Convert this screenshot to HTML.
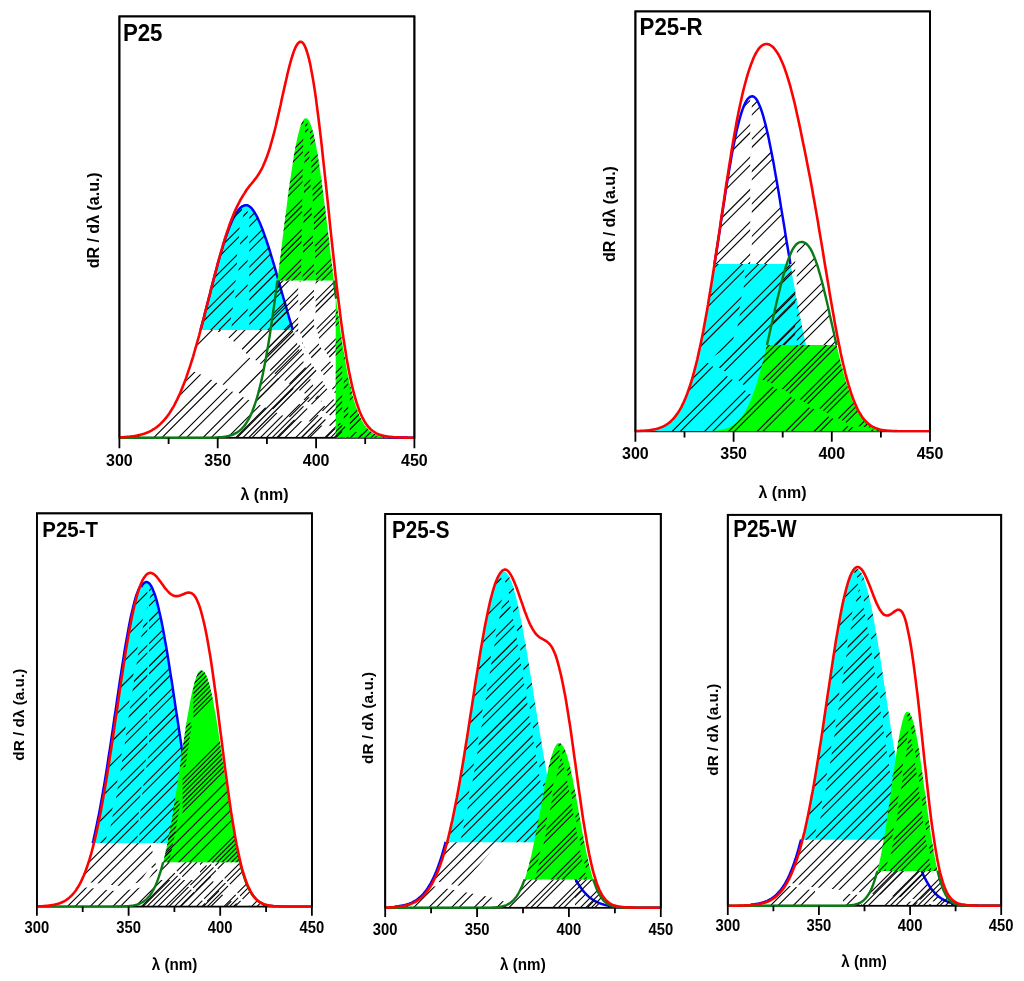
<!DOCTYPE html>
<html lang="en"><head><meta charset="utf-8"><title>dR/dλ spectra</title>
<style>html,body{margin:0;padding:0;background:#fff}svg{display:block}</style></head>
<body>
<svg width="1024" height="981" viewBox="0 0 1024 981" style="display:block;font-family:'Liberation Sans',sans-serif;font-weight:bold">
<rect width="1024" height="981" fill="#fff"/>
<defs><clipPath id="h0A0"><path d="M119.4 329.9L119.4 329.9L120.4 329.9L121.4 329.9L122.4 329.9L123.3 329.9L124.3 329.9L125.3 329.9L126.3 329.9L127.3 329.9L128.2 329.9L129.2 329.9L130.2 329.9L131.2 329.9L132.2 329.9L133.2 329.9L134.2 329.9L135.1 329.9L136.1 329.9L137.1 329.9L138.1 329.9L139.1 329.9L140.1 329.9L141 329.9L142 329.9L143 329.9L144 329.9L145 329.9L145.9 329.9L146.9 329.9L147.9 329.9L148.9 329.9L149.9 329.9L150.9 329.9L151.8 329.9L152.8 329.9L153.8 329.9L154.8 329.9L155.8 329.9L156.8 329.9L157.8 329.9L158.7 329.9L159.7 329.9L160.7 329.9L161.7 329.9L162.7 329.9L163.7 329.9L164.6 329.9L165.6 329.9L166.6 329.9L167.6 329.9L168.6 329.9L169.6 329.9L170.5 329.9L171.5 329.9L172.5 329.9L173.5 329.9L174.5 329.9L175.4 329.9L176.4 329.9L177.4 329.9L178.4 329.9L179.4 329.9L180.4 329.9L181.3 329.9L182.3 329.9L183.3 329.9L184.3 329.9L185.3 329.9L186.3 329.9L187.2 329.9L188.2 329.9L189.2 329.9L190.2 329.9L191.2 329.9L192.2 329.9L193.2 329.9L194.1 329.9L195.1 329.9L196.1 329.9L197.1 329.9L198.1 329.9L199.1 329.9L200 329.9L201 328.3L202 324.6L203 320.9L204 317.1L204.9 313.3L205.9 309.5L206.9 305.6L207.9 301.8L208.9 297.9L209.9 294.1L210.8 290.3L211.8 286.4L212.8 282.6L213.8 278.8L214.8 275.1L215.8 271.4L216.8 267.7L217.7 264.1L218.7 260.5L219.7 257L220.7 253.6L221.7 250.3L222.7 247L223.6 243.8L224.6 240.7L225.6 237.7L226.6 234.9L227.6 232.1L228.6 229.4L229.5 226.9L230.5 224.5L231.5 222.2L232.5 220L233.5 218L234.4 216.1L235.4 214.4L236.4 212.8L237.4 211.4L238.4 210.1L239.4 208.9L240.3 207.9L241.3 207.1L242.3 206.4L243.3 205.9L244.3 205.5L245.3 205.3L246.2 205.2L247.2 205.2L248.2 205.6L249.2 206.2L250.2 206.9L251.2 207.9L252.2 209L253.1 210.3L254.1 211.7L255.1 213.3L256.1 215L257.1 216.9L258.1 218.9L259 221.1L260 223.3L261 225.7L262 228.2L263 230.7L263.9 233.4L264.9 236.2L265.9 239L266.9 242L267.9 245L268.9 248L269.9 251.1L270.8 254.3L271.8 257.6L272.8 260.8L273.8 264.2L274.8 267.5L275.8 270.9L276.7 274.3L277.7 277.7L278.7 281.2L279.7 284.6L280.7 288.1L281.6 291.5L282.6 295L283.6 298.5L284.6 301.9L285.6 305.3L286.6 308.7L287.5 312.1L288.5 315.5L289.5 318.8L290.5 322.1L291.5 325.4L292.5 328.6L293.4 329.9L294.4 329.9L295.4 329.9L296.4 329.9L297.4 329.9L298.4 329.9L299.4 329.9L300.3 329.9L301.3 329.9L302.3 329.9L303.3 329.9L304.3 329.9L305.2 329.9L306.2 329.9L307.2 329.9L308.2 329.9L309.2 329.9L310.2 329.9L311.1 329.9L312.1 329.9L313.1 329.9L314.1 329.9L315.1 329.9L316.1 329.9L317 329.9L318 329.9L319 329.9L320 329.9L321 329.9L322 329.9L322.9 329.9L323.9 329.9L324.9 329.9L325.9 329.9L326.9 329.9L327.9 329.9L328.9 329.9L329.8 329.9L330.8 329.9L331.8 329.9L332.8 329.9L333.8 329.9L334.8 329.9L335.7 329.9L336.7 329.9L337.7 329.9L338.7 329.9L339.7 329.9L340.6 329.9L341.6 329.9L342.6 329.9L343.6 329.9L344.6 329.9L345.6 329.9L346.5 329.9L347.5 329.9L348.5 329.9L349.5 329.9L350.5 329.9L351.5 329.9L352.4 329.9L353.4 329.9L354.4 329.9L355.4 329.9L356.4 329.9L357.4 329.9L358.4 329.9L359.3 329.9L360.3 329.9L361.3 329.9L362.3 329.9L363.3 329.9L364.2 329.9L365.2 329.9L366.2 329.9L367.2 329.9L368.2 329.9L369.2 329.9L370.1 329.9L371.1 329.9L372.1 329.9L373.1 329.9L374.1 329.9L375.1 329.9L376 329.9L377 329.9L378 329.9L379 329.9L380 329.9L381 329.9L382 329.9L382.9 329.9L383.9 329.9L384.9 329.9L385.9 329.9L386.9 329.9L387.9 329.9L388.8 329.9L389.8 329.9L390.8 329.9L391.8 329.9L392.8 329.9L393.8 329.9L394.7 329.9L395.7 329.9L396.7 329.9L397.7 329.9L398.7 329.9L399.6 329.9L400.6 329.9L401.6 329.9L402.6 329.9L403.6 329.9L404.6 329.9L405.5 329.9L406.5 329.9L407.5 329.9L408.5 329.9L409.5 329.9L410.5 329.9L411.5 329.9L412.4 329.9L413.4 329.9L414.4 329.9L414.4 329.9Z"/></clipPath><mask id="m0A0a" maskUnits="userSpaceOnUse" x="119.4" y="16.4" width="295" height="421.4"><rect x="119.4" y="16.4" width="295" height="421.4" fill="#fff"/><path d="M243 205L242.5 214.4L240.4 226.1L239.7 239.9L237.9 255L237.6 274.3L234.9 290.8L234.2 304.5L231.5 319.7L230.5 331L248.5 331L248.5 205Z" fill="#000" stroke="#000" stroke-width="1.6"/></mask><mask id="m0A0b" maskUnits="userSpaceOnUse" x="119.4" y="16.4" width="295" height="421.4"><rect x="119.4" y="16.4" width="295" height="421.4" fill="#000"/><path d="M243 205L242.5 214.4L240.4 226.1L239.7 239.9L237.9 255L237.6 274.3L234.9 290.8L234.2 304.5L231.5 319.7L230.5 331L248.5 331L248.5 205Z" fill="#fff" stroke="#000" stroke-width="1.6"/></mask><clipPath id="h0B0"><path d="M119.4 437.8L119.4 437.4L120.4 437.3L121.4 437.3L122.4 437.2L123.3 437.2L124.3 437.1L125.3 437L126.3 437L127.3 436.9L128.2 436.8L129.2 436.7L130.2 436.6L131.2 436.5L132.2 436.3L133.2 436.2L134.2 436.1L135.1 435.9L136.1 435.7L137.1 435.5L138.1 435.3L139.1 435.1L140.1 434.9L141 434.6L142 434.4L143 434.1L144 433.8L145 433.4L145.9 433.1L146.9 432.7L147.9 432.3L148.9 431.8L149.9 431.3L150.9 430.8L151.8 430.3L152.8 429.7L153.8 429.1L154.8 428.5L155.8 427.8L156.8 427.1L157.8 426.3L158.7 425.5L159.7 424.6L160.7 423.7L161.7 422.7L162.7 421.7L163.7 420.7L164.6 419.5L165.6 418.3L166.6 417.1L167.6 415.8L168.6 414.4L169.6 413L170.5 411.5L171.5 409.9L172.5 408.3L173.5 406.6L174.5 404.8L175.4 402.9L176.4 401L177.4 399L178.4 396.9L179.4 394.7L180.4 392.5L181.3 390.2L182.3 387.8L183.3 385.3L184.3 382.7L185.3 380.1L186.3 377.4L187.2 374.6L188.2 371.7L189.2 368.8L190.2 365.8L191.2 362.7L192.2 359.5L193.2 356.3L194.1 353L195.1 349.6L196.1 346.2L197.1 342.7L198.1 339.2L199.1 335.6L200 332L201 329.9L202 329.9L203 329.9L204 329.9L204.9 329.9L205.9 329.9L206.9 329.9L207.9 329.9L208.9 329.9L209.9 329.9L210.8 329.9L211.8 329.9L212.8 329.9L213.8 329.9L214.8 329.9L215.8 329.9L216.8 329.9L217.7 329.9L218.7 329.9L219.7 329.9L220.7 329.9L221.7 329.9L222.7 329.9L223.6 329.9L224.6 329.9L225.6 329.9L226.6 329.9L227.6 329.9L228.6 329.9L229.5 329.9L230.5 329.9L231.5 329.9L232.5 329.9L233.5 329.9L234.4 329.9L235.4 329.9L236.4 329.9L237.4 329.9L238.4 329.9L239.4 329.9L240.3 329.9L241.3 329.9L242.3 329.9L243.3 329.9L244.3 329.9L245.3 329.9L246.2 329.9L247.2 329.9L248.2 329.9L249.2 329.9L250.2 329.9L251.2 329.9L252.2 329.9L253.1 329.9L254.1 329.9L255.1 329.9L256.1 329.9L257.1 329.9L258.1 329.9L259 329.9L260 329.9L261 329.9L262 329.9L263 329.9L263.9 329.9L264.9 329.9L265.9 329.9L266.9 329.9L267.9 329.9L268.9 329.9L269.9 329.9L270.8 329.9L271.8 329.9L272.8 329.9L273.8 329.9L274.8 329.9L275.8 329.9L276.7 329.9L277.7 329.9L278.7 329.9L279.7 329.9L280.7 329.9L281.6 329.9L282.6 329.9L283.6 329.9L284.6 329.9L285.6 329.9L286.6 329.9L287.5 329.9L288.5 329.9L289.5 329.9L290.5 329.9L291.5 329.9L292.5 329.9L293.4 331.8L294.4 335L295.4 338.1L296.4 341.2L297.4 344.2L298.4 347.2L299.4 350.1L300.3 353L301.3 355.8L302.3 358.6L303.3 361.3L304.3 363.9L305.2 366.5L306.2 369.1L307.2 371.6L308.2 374L309.2 376.4L310.2 378.7L311.1 380.9L312.1 383.1L313.1 385.2L314.1 387.3L315.1 389.3L316.1 391.3L317 393.2L318 395L319 396.8L320 398.5L321 400.2L322 401.8L322.9 403.4L323.9 404.9L324.9 406.4L325.9 407.8L326.9 409.2L327.9 410.5L328.9 411.7L329.8 412.9L330.8 414.1L331.8 415.2L332.8 416.3L333.8 417.4L334.8 418.4L335.7 419.3L336.7 420.3L337.7 421.1L338.7 422L339.7 422.8L340.6 423.6L341.6 424.3L342.6 425L343.6 425.7L344.6 426.3L345.6 426.9L346.5 427.5L347.5 428.1L348.5 428.6L349.5 429.1L350.5 429.6L351.5 430.1L352.4 430.5L353.4 430.9L354.4 431.3L355.4 431.7L356.4 432.1L357.4 432.4L358.4 432.7L359.3 433L360.3 433.3L361.3 433.6L362.3 433.8L363.3 434.1L364.2 434.3L365.2 434.5L366.2 434.7L367.2 434.9L368.2 435.1L369.2 435.3L370.1 435.4L371.1 435.6L372.1 435.7L373.1 435.9L374.1 436L375.1 436.1L376 436.2L377 436.3L378 436.4L379 436.5L380 436.6L381 436.7L382 436.8L382.9 436.8L383.9 436.9L384.9 437L385.9 437L386.9 437.1L387.9 437.1L388.8 437.2L389.8 437.2L390.8 437.3L391.8 437.3L392.8 437.3L393.8 437.4L394.7 437.4L395.7 437.4L396.7 437.5L397.7 437.5L398.7 437.5L399.6 437.5L400.6 437.6L401.6 437.6L402.6 437.6L403.6 437.6L404.6 437.6L405.5 437.6L406.5 437.6L407.5 437.7L408.5 437.7L409.5 437.7L410.5 437.7L411.5 437.7L412.4 437.7L413.4 437.7L414.4 437.7L414.4 437.8Z"/></clipPath><mask id="m0B0a" maskUnits="userSpaceOnUse" x="119.4" y="16.4" width="295" height="421.4"><rect x="119.4" y="16.4" width="295" height="421.4" fill="#fff"/><path d="M193.3 368.5L208.4 377L223.4 385.8L245.3 397.5L290 418L337 428L337 410L300 392L260.3 364.6L246 354.4L234.3 342.8L224.8 336L214 331L195 350Z" fill="#000" stroke="#000" stroke-width="1.6"/><path d="M190 370L214 380L242 351L224 334L214 331L195 350Z" fill="#000"/></mask><mask id="m0B0b" maskUnits="userSpaceOnUse" x="119.4" y="16.4" width="295" height="421.4"><rect x="119.4" y="16.4" width="295" height="421.4" fill="#000"/><path d="M193.3 368.5L208.4 377L223.4 385.8L245.3 397.5L290 418L337 428L337 410L300 392L260.3 364.6L246 354.4L234.3 342.8L224.8 336L214 331L195 350Z" fill="#fff" stroke="#000" stroke-width="1.6"/><path d="M190 370L214 380L242 351L224 334L214 331L195 350Z" fill="#000"/></mask><clipPath id="h0C0"><path d="M119.4 280.6L119.4 280.6L120.4 280.6L121.4 280.6L122.4 280.6L123.3 280.6L124.3 280.6L125.3 280.6L126.3 280.6L127.3 280.6L128.2 280.6L129.2 280.6L130.2 280.6L131.2 280.6L132.2 280.6L133.2 280.6L134.2 280.6L135.1 280.6L136.1 280.6L137.1 280.6L138.1 280.6L139.1 280.6L140.1 280.6L141 280.6L142 280.6L143 280.6L144 280.6L145 280.6L145.9 280.6L146.9 280.6L147.9 280.6L148.9 280.6L149.9 280.6L150.9 280.6L151.8 280.6L152.8 280.6L153.8 280.6L154.8 280.6L155.8 280.6L156.8 280.6L157.8 280.6L158.7 280.6L159.7 280.6L160.7 280.6L161.7 280.6L162.7 280.6L163.7 280.6L164.6 280.6L165.6 280.6L166.6 280.6L167.6 280.6L168.6 280.6L169.6 280.6L170.5 280.6L171.5 280.6L172.5 280.6L173.5 280.6L174.5 280.6L175.4 280.6L176.4 280.6L177.4 280.6L178.4 280.6L179.4 280.6L180.4 280.6L181.3 280.6L182.3 280.6L183.3 280.6L184.3 280.6L185.3 280.6L186.3 280.6L187.2 280.6L188.2 280.6L189.2 280.6L190.2 280.6L191.2 280.6L192.2 280.6L193.2 280.6L194.1 280.6L195.1 280.6L196.1 280.6L197.1 280.6L198.1 280.6L199.1 280.6L200 280.6L201 280.6L202 280.6L203 280.6L204 280.6L204.9 280.6L205.9 280.6L206.9 280.6L207.9 280.6L208.9 280.6L209.9 280.6L210.8 280.6L211.8 280.6L212.8 280.6L213.8 280.6L214.8 280.6L215.8 280.6L216.8 280.6L217.7 280.6L218.7 280.6L219.7 280.6L220.7 280.6L221.7 280.6L222.7 280.6L223.6 280.6L224.6 280.6L225.6 280.6L226.6 280.6L227.6 280.6L228.6 280.6L229.5 280.6L230.5 280.6L231.5 280.6L232.5 280.6L233.5 280.6L234.4 280.6L235.4 280.6L236.4 280.6L237.4 280.6L238.4 280.6L239.4 280.6L240.3 280.6L241.3 280.6L242.3 280.6L243.3 280.6L244.3 280.6L245.3 280.6L246.2 280.6L247.2 280.6L248.2 280.6L249.2 280.6L250.2 280.6L251.2 280.6L252.2 280.6L253.1 280.6L254.1 280.6L255.1 280.6L256.1 280.6L257.1 280.6L258.1 280.6L259 280.6L260 280.6L261 280.6L262 280.6L263 280.6L263.9 280.6L264.9 280.6L265.9 280.6L266.9 280.6L267.9 280.6L268.9 280.6L269.9 280.6L270.8 280.6L271.8 280.6L272.8 280.6L273.8 280.6L274.8 280.6L275.8 280.6L276.7 280.6L277.7 277.7L278.7 269.9L279.7 262.1L280.7 254.2L281.6 246.3L282.6 238.3L283.6 230.4L284.6 222.5L285.6 214.7L286.6 207L287.5 199.5L288.5 192.1L289.5 184.8L290.5 177.9L291.5 171.1L292.5 164.7L293.4 158.5L294.4 152.7L295.4 147.3L296.4 142.3L297.4 137.7L298.4 133.5L299.4 129.8L300.3 126.6L301.3 123.9L302.3 121.7L303.3 120L304.3 118.8L305.2 118.3L306.2 118.2L307.2 118.7L308.2 119.7L309.2 121.2L310.2 123.2L311.1 125.8L312.1 128.9L313.1 132.5L314.1 136.5L315.1 141.1L316.1 146.1L317 151.5L318 157.3L319 163.5L320 170L321 176.9L322 184L322.9 191.4L323.9 199L324.9 206.8L325.9 214.7L326.9 222.8L327.9 231L328.9 239.2L329.8 247.4L330.8 255.6L331.8 263.8L332.8 271.9L333.8 280L334.8 280.6L335.7 280.6L336.7 280.6L337.7 280.6L338.7 280.6L339.7 280.6L340.6 280.6L341.6 280.6L342.6 280.6L343.6 280.6L344.6 280.6L345.6 280.6L346.5 280.6L347.5 280.6L348.5 280.6L349.5 280.6L350.5 280.6L351.5 280.6L352.4 280.6L353.4 280.6L354.4 280.6L355.4 280.6L356.4 280.6L357.4 280.6L358.4 280.6L359.3 280.6L360.3 280.6L361.3 280.6L362.3 280.6L363.3 280.6L364.2 280.6L365.2 280.6L366.2 280.6L367.2 280.6L368.2 280.6L369.2 280.6L370.1 280.6L371.1 280.6L372.1 280.6L373.1 280.6L374.1 280.6L375.1 280.6L376 280.6L377 280.6L378 280.6L379 280.6L380 280.6L381 280.6L382 280.6L382.9 280.6L383.9 280.6L384.9 280.6L385.9 280.6L386.9 280.6L387.9 280.6L388.8 280.6L389.8 280.6L390.8 280.6L391.8 280.6L392.8 280.6L393.8 280.6L394.7 280.6L395.7 280.6L396.7 280.6L397.7 280.6L398.7 280.6L399.6 280.6L400.6 280.6L401.6 280.6L402.6 280.6L403.6 280.6L404.6 280.6L405.5 280.6L406.5 280.6L407.5 280.6L408.5 280.6L409.5 280.6L410.5 280.6L411.5 280.6L412.4 280.6L413.4 280.6L414.4 280.6L414.4 280.6ZM335.7 437.8L335.7 295.7L336.7 303.3L337.7 310.8L338.7 318.1L339.7 325.1L340.6 332L341.6 338.6L342.6 345L343.6 351.1L344.6 357L345.6 362.6L346.5 368L347.5 373.1L348.5 377.9L349.5 382.5L350.5 386.8L351.5 390.9L352.4 394.7L353.4 398.3L354.4 401.7L355.4 404.8L356.4 407.7L357.4 410.5L358.4 413L359.3 415.3L360.3 417.4L361.3 419.4L362.3 421.2L363.3 422.9L364.2 424.4L365.2 425.8L366.2 427.1L367.2 428.2L368.2 429.3L369.2 430.2L370.1 431.1L371.1 431.9L372.1 432.5L373.1 433.2L374.1 433.7L375.1 434.2L376 434.6L377 435L378 435.4L379 435.7L380 436L381 436.2L382 436.4L382.9 436.6L383.9 436.8L384.9 436.9L385.9 437L386.9 437.1L387.9 437.2L388.8 437.3L389.8 437.4L390.8 437.4L391.8 437.5L392.8 437.5L393.8 437.6L394.7 437.6L395.7 437.6L396.7 437.7L397.7 437.7L398.7 437.7L399.6 437.7L400.6 437.7L401.6 437.7L402.6 437.8L403.6 437.8L404.6 437.8L405.5 437.8L406.5 437.8L407.5 437.8L408.5 437.8L409.5 437.8L410.5 437.8L411.5 437.8L412.4 437.8L413.4 437.8L414.4 437.8L414.4 437.8Z"/></clipPath><mask id="m0C0a" maskUnits="userSpaceOnUse" x="119.4" y="16.4" width="295" height="421.4"><rect x="119.4" y="16.4" width="295" height="421.4" fill="#fff"/><path d="M304.4 116L301.7 282L315.5 282L309 128L307 116ZM343 300L343 440L349 440L349 300Z" fill="#000" stroke="#000" stroke-width="1.6"/></mask><mask id="m0C0b" maskUnits="userSpaceOnUse" x="119.4" y="16.4" width="295" height="421.4"><rect x="119.4" y="16.4" width="295" height="421.4" fill="#000"/><path d="M304.4 116L301.7 282L315.5 282L309 128L307 116ZM343 300L343 440L349 440L349 300Z" fill="#fff" stroke="#000" stroke-width="1.6"/></mask><clipPath id="h0D0"><path d="M119.4 437.8L119.4 437.8L120.4 437.8L121.4 437.8L122.4 437.8L123.3 437.8L124.3 437.8L125.3 437.8L126.3 437.8L127.3 437.8L128.2 437.8L129.2 437.8L130.2 437.8L131.2 437.8L132.2 437.8L133.2 437.8L134.2 437.8L135.1 437.8L136.1 437.8L137.1 437.8L138.1 437.8L139.1 437.8L140.1 437.8L141 437.8L142 437.8L143 437.8L144 437.8L145 437.8L145.9 437.8L146.9 437.8L147.9 437.8L148.9 437.8L149.9 437.8L150.9 437.8L151.8 437.8L152.8 437.8L153.8 437.8L154.8 437.8L155.8 437.8L156.8 437.8L157.8 437.8L158.7 437.8L159.7 437.8L160.7 437.8L161.7 437.8L162.7 437.8L163.7 437.8L164.6 437.8L165.6 437.8L166.6 437.8L167.6 437.8L168.6 437.8L169.6 437.8L170.5 437.8L171.5 437.8L172.5 437.8L173.5 437.8L174.5 437.8L175.4 437.8L176.4 437.8L177.4 437.8L178.4 437.8L179.4 437.8L180.4 437.8L181.3 437.8L182.3 437.8L183.3 437.8L184.3 437.8L185.3 437.8L186.3 437.8L187.2 437.8L188.2 437.8L189.2 437.8L190.2 437.8L191.2 437.8L192.2 437.8L193.2 437.8L194.1 437.8L195.1 437.8L196.1 437.8L197.1 437.8L198.1 437.8L199.1 437.8L200 437.8L201 437.8L202 437.8L203 437.8L204 437.8L204.9 437.8L205.9 437.7L206.9 437.7L207.9 437.7L208.9 437.7L209.9 437.7L210.8 437.7L211.8 437.6L212.8 437.6L213.8 437.6L214.8 437.6L215.8 437.5L216.8 437.5L217.7 437.4L218.7 437.3L219.7 437.3L220.7 437.2L221.7 437.1L222.7 437L223.6 436.9L224.6 436.7L225.6 436.6L226.6 436.4L227.6 436.2L228.6 436L229.5 435.7L230.5 435.4L231.5 435.1L232.5 434.8L233.5 434.4L234.4 433.9L235.4 433.4L236.4 432.9L237.4 432.3L238.4 431.6L239.4 430.9L240.3 430L241.3 429.1L242.3 428.1L243.3 427L244.3 425.9L245.3 424.5L246.2 423.1L247.2 421.6L248.2 419.9L249.2 418.1L250.2 416.1L251.2 414L252.2 411.7L253.1 409.2L254.1 406.5L255.1 403.7L256.1 400.6L257.1 397.4L258.1 393.9L259 390.3L260 386.4L261 382.2L262 377.9L263 373.3L263.9 368.5L264.9 363.4L265.9 358.1L266.9 352.5L267.9 346.8L268.9 340.7L269.9 334.5L270.8 328.1L271.8 321.4L272.8 314.5L273.8 307.5L274.8 300.3L275.8 292.9L276.7 285.4L277.7 280.6L278.7 280.6L279.7 280.6L280.7 280.6L281.6 280.6L282.6 280.6L283.6 280.6L284.6 280.6L285.6 280.6L286.6 280.6L287.5 280.6L288.5 280.6L289.5 280.6L290.5 280.6L291.5 280.6L292.5 280.6L293.4 280.6L294.4 280.6L295.4 280.6L296.4 280.6L297.4 280.6L298.4 280.6L299.4 280.6L300.3 280.6L301.3 280.6L302.3 280.6L303.3 280.6L304.3 280.6L305.2 280.6L306.2 280.6L307.2 280.6L308.2 280.6L309.2 280.6L310.2 280.6L311.1 280.6L312.1 280.6L313.1 280.6L314.1 280.6L315.1 280.6L316.1 280.6L317 280.6L318 280.6L319 280.6L320 280.6L321 280.6L322 280.6L322.9 280.6L323.9 280.6L324.9 280.6L325.9 280.6L326.9 280.6L327.9 280.6L328.9 280.6L329.8 280.6L330.8 280.6L331.8 280.6L332.8 280.6L333.8 280.6L334.8 287.9L335.7 295.7L335.7 437.8Z"/></clipPath><mask id="m0D0a" maskUnits="userSpaceOnUse" x="119.4" y="16.4" width="295" height="421.4"><rect x="119.4" y="16.4" width="295" height="421.4" fill="#fff"/><path d="M299 280L299 332L309 356L322 374L337 398L337 370L320 345L314.8 325L314.8 280Z" fill="#000" stroke="#000" stroke-width="1.6"/><path d="M295.4 332.2L305.5 354L317.3 369.2L329 389.4L337 402" stroke="#000" stroke-width="3" fill="none"/><path d="M292 396L337 423" stroke="#000" stroke-width="6" fill="none"/></mask><mask id="m0D0b" maskUnits="userSpaceOnUse" x="119.4" y="16.4" width="295" height="421.4"><rect x="119.4" y="16.4" width="295" height="421.4" fill="#000"/><path d="M299 280L299 332L309 356L322 374L337 398L337 370L320 345L314.8 325L314.8 280Z" fill="#fff" stroke="#000" stroke-width="1.6"/><path d="M295.4 332.2L305.5 354L317.3 369.2L329 389.4L337 402" stroke="#000" stroke-width="3" fill="none"/><path d="M292 396L337 423" stroke="#000" stroke-width="6" fill="none"/></mask><clipPath id="fc0"><rect x="119.4" y="16.4" width="295" height="422.6"/></clipPath><clipPath id="h1A0"><path d="M635.4 264L635.4 264L636.4 264L637.4 264L638.3 264L639.3 264L640.3 264L641.3 264L642.3 264L643.3 264L644.2 264L645.2 264L646.2 264L647.2 264L648.2 264L649.1 264L650.1 264L651.1 264L652.1 264L653.1 264L654.1 264L655 264L656 264L657 264L658 264L659 264L659.9 264L660.9 264L661.9 264L662.9 264L663.9 264L664.9 264L665.8 264L666.8 264L667.8 264L668.8 264L669.8 264L670.8 264L671.7 264L672.7 264L673.7 264L674.7 264L675.7 264L676.6 264L677.6 264L678.6 264L679.6 264L680.6 264L681.6 264L682.5 264L683.5 264L684.5 264L685.5 264L686.5 264L687.4 264L688.4 264L689.4 264L690.4 264L691.4 264L692.4 264L693.3 264L694.3 264L695.3 264L696.3 264L697.3 264L698.2 264L699.2 264L700.2 264L701.2 264L702.2 264L703.2 264L704.1 264L705.1 264L706.1 264L707.1 264L708.1 264L709 264L710 264L711 264L712 264L713 264L714 264L714.9 261.7L715.9 255.2L716.9 248.8L717.9 242.3L718.9 235.8L719.9 229.3L720.8 222.8L721.8 216.3L722.8 209.9L723.8 203.5L724.8 197.2L725.7 190.9L726.7 184.7L727.7 178.7L728.7 172.8L729.7 167L730.7 161.3L731.6 155.8L732.6 150.5L733.6 145.4L734.6 140.5L735.6 135.8L736.5 131.3L737.5 127.1L738.5 123.1L739.5 119.4L740.5 115.9L741.5 112.7L742.4 109.8L743.4 107.2L744.4 104.8L745.4 102.7L746.4 101L747.3 99.5L748.3 98.3L749.3 97.4L750.3 96.7L751.3 96.4L752.3 96.3L753.2 96.5L754.2 97L755.2 97.8L756.2 99L757.2 100.5L758.1 102.3L759.1 104.4L760.1 106.8L761.1 109.5L762.1 112.4L763.1 115.6L764 119L765 122.7L766 126.6L767 130.8L768 135.1L769 139.7L769.9 144.4L770.9 149.3L771.9 154.4L772.9 159.6L773.9 164.9L774.8 170.4L775.8 176L776.8 181.7L777.8 187.4L778.8 193.3L779.8 199.2L780.7 205.1L781.7 211.1L782.7 217.1L783.7 223.1L784.7 229.2L785.6 235.2L786.6 241.2L787.6 247.2L788.6 253.1L789.6 259L790.6 264L791.5 264L792.5 264L793.5 264L794.5 264L795.5 264L796.4 264L797.4 264L798.4 264L799.4 264L800.4 264L801.4 264L802.3 264L803.3 264L804.3 264L805.3 264L806.3 264L807.2 264L808.2 264L809.2 264L810.2 264L811.2 264L812.2 264L813.1 264L814.1 264L815.1 264L816.1 264L817.1 264L818.1 264L819 264L820 264L821 264L822 264L823 264L823.9 264L824.9 264L825.9 264L826.9 264L827.9 264L828.9 264L829.8 264L830.8 264L831.8 264L832.8 264L833.8 264L834.7 264L835.7 264L836.7 264L837.7 264L838.7 264L839.7 264L840.6 264L841.6 264L842.6 264L843.6 264L844.6 264L845.5 264L846.5 264L847.5 264L848.5 264L849.5 264L850.5 264L851.4 264L852.4 264L853.4 264L854.4 264L855.4 264L856.4 264L857.3 264L858.3 264L859.3 264L860.3 264L861.3 264L862.2 264L863.2 264L864.2 264L865.2 264L866.2 264L867.2 264L868.1 264L869.1 264L870.1 264L871.1 264L872.1 264L873 264L874 264L875 264L876 264L877 264L878 264L878.9 264L879.9 264L880.9 264L881.9 264L882.9 264L883.8 264L884.8 264L885.8 264L886.8 264L887.8 264L888.8 264L889.7 264L890.7 264L891.7 264L892.7 264L893.7 264L894.6 264L895.6 264L896.6 264L897.6 264L898.6 264L899.6 264L900.5 264L901.5 264L902.5 264L903.5 264L904.5 264L905.5 264L906.4 264L907.4 264L908.4 264L909.4 264L910.4 264L911.3 264L912.3 264L913.3 264L914.3 264L915.3 264L916.3 264L917.2 264L918.2 264L919.2 264L920.2 264L921.2 264L922.1 264L923.1 264L924.1 264L925.1 264L926.1 264L927.1 264L928 264L929 264L930 264L930 264Z"/></clipPath><mask id="m1A0a" maskUnits="userSpaceOnUse" x="635.4" y="11.4" width="294.6" height="419.9"><rect x="635.4" y="11.4" width="294.6" height="419.9" fill="#fff"/><path d="M751 90L751 266L800 266L800 90Z" fill="#000" stroke="#000" stroke-width="1.6"/></mask><mask id="m1A0b" maskUnits="userSpaceOnUse" x="635.4" y="11.4" width="294.6" height="419.9"><rect x="635.4" y="11.4" width="294.6" height="419.9" fill="#000"/><path d="M751 90L751 266L800 266L800 90Z" fill="#fff" stroke="#000" stroke-width="1.6"/></mask><clipPath id="h1B0"><path d="M635.4 431.3L635.4 431.1L636.4 431.1L637.4 431.1L638.3 431L639.3 431L640.3 430.9L641.3 430.9L642.3 430.8L643.3 430.8L644.2 430.7L645.2 430.6L646.2 430.6L647.2 430.5L648.2 430.4L649.1 430.2L650.1 430.1L651.1 430L652.1 429.8L653.1 429.6L654.1 429.4L655 429.2L656 429L657 428.7L658 428.5L659 428.1L659.9 427.8L660.9 427.4L661.9 427L662.9 426.6L663.9 426.1L664.9 425.6L665.8 425L666.8 424.4L667.8 423.7L668.8 423L669.8 422.2L670.8 421.3L671.7 420.4L672.7 419.4L673.7 418.3L674.7 417.2L675.7 415.9L676.6 414.6L677.6 413.2L678.6 411.7L679.6 410.1L680.6 408.4L681.6 406.6L682.5 404.6L683.5 402.6L684.5 400.4L685.5 398.1L686.5 395.6L687.4 393.1L688.4 390.3L689.4 387.5L690.4 384.5L691.4 381.3L692.4 378L693.3 374.6L694.3 371L695.3 367.2L696.3 363.3L697.3 359.2L698.2 355L699.2 350.6L700.2 346.1L701.2 341.4L702.2 336.5L703.2 331.5L704.1 326.4L705.1 321.1L706.1 315.6L707.1 310.1L708.1 304.4L709 298.6L710 292.7L711 286.6L712 280.5L713 274.3L714 268L714.9 264L715.9 264L716.9 264L717.9 264L718.9 264L719.9 264L720.8 264L721.8 264L722.8 264L723.8 264L724.8 264L725.7 264L726.7 264L727.7 264L728.7 264L729.7 264L730.7 264L731.6 264L732.6 264L733.6 264L734.6 264L735.6 264L736.5 264L737.5 264L738.5 264L739.5 264L740.5 264L741.5 264L742.4 264L743.4 264L744.4 264L745.4 264L746.4 264L747.3 264L748.3 264L749.3 264L750.3 264L751.3 264L752.3 264L753.2 264L754.2 264L755.2 264L756.2 264L757.2 264L758.1 264L759.1 264L760.1 264L761.1 264L762.1 264L763.1 264L764 264L765 264L766 264L767 264L768 264L769 264L769.9 264L770.9 264L771.9 264L772.9 264L773.9 264L774.8 264L775.8 264L776.8 264L777.8 264L778.8 264L779.8 264L780.7 264L781.7 264L782.7 264L783.7 264L784.7 264L785.6 264L786.6 264L787.6 264L788.6 264L789.6 264L790.6 264.9L791.5 270.7L792.5 276.4L793.5 282L794.5 287.6L795.5 293L796.4 298.4L797.4 303.7L798.4 308.9L799.4 313.9L800.4 318.8L801.4 323.7L802.3 328.4L803.3 332.9L804.3 337.4L805.3 341.7L806.3 345.9L807.2 350L808.2 353.9L809.2 357.7L810.2 361.4L811.2 365L812.2 368.4L813.1 371.7L814.1 374.9L815.1 377.9L816.1 380.8L817.1 383.6L818.1 386.3L819 388.9L820 391.4L821 393.7L822 395.9L823 398.1L823.9 400.1L824.9 402L825.9 403.8L826.9 405.6L827.9 407.2L828.9 408.8L829.8 410.3L830.8 411.7L831.8 413L832.8 414.2L833.8 415.4L834.7 416.5L835.7 417.5L836.7 418.5L837.7 419.4L838.7 420.3L839.7 421.1L840.6 421.9L841.6 422.6L842.6 423.2L843.6 423.8L844.6 424.4L845.5 424.9L846.5 425.4L847.5 425.9L848.5 426.3L849.5 426.7L850.5 427.1L851.4 427.5L852.4 427.8L853.4 428.1L854.4 428.3L855.4 428.6L856.4 428.8L857.3 429L858.3 429.2L859.3 429.4L860.3 429.6L861.3 429.7L862.2 429.9L863.2 430L864.2 430.1L865.2 430.2L866.2 430.3L867.2 430.4L868.1 430.5L869.1 430.6L870.1 430.7L871.1 430.7L872.1 430.8L873 430.8L874 430.9L875 430.9L876 431L877 431L878 431L878.9 431L879.9 431.1L880.9 431.1L881.9 431.1L882.9 431.1L883.8 431.2L884.8 431.2L885.8 431.2L886.8 431.2L887.8 431.2L888.8 431.2L889.7 431.2L890.7 431.2L891.7 431.2L892.7 431.2L893.7 431.3L894.6 431.3L895.6 431.3L896.6 431.3L897.6 431.3L898.6 431.3L899.6 431.3L900.5 431.3L901.5 431.3L902.5 431.3L903.5 431.3L904.5 431.3L905.5 431.3L906.4 431.3L907.4 431.3L908.4 431.3L909.4 431.3L910.4 431.3L911.3 431.3L912.3 431.3L913.3 431.3L914.3 431.3L915.3 431.3L916.3 431.3L917.2 431.3L918.2 431.3L919.2 431.3L920.2 431.3L921.2 431.3L922.1 431.3L923.1 431.3L924.1 431.3L925.1 431.3L926.1 431.3L927.1 431.3L928 431.3L929 431.3L930 431.3L930 431.3Z"/></clipPath><mask id="m1B0a" maskUnits="userSpaceOnUse" x="635.4" y="11.4" width="294.6" height="419.9"><rect x="635.4" y="11.4" width="294.6" height="419.9" fill="#fff"/><path d="M746 262L743 287L742 300L737 325L733 345L708 361L720.7 370.6L735.4 379.8L750 392.6L792 398L830 398L830 262Z" fill="#000" stroke="#000" stroke-width="1.6"/><path d="M708 361L720.7 370.6L735.4 379.8L750 392.6L792 398" stroke="#000" stroke-width="3" fill="none"/></mask><mask id="m1B0b" maskUnits="userSpaceOnUse" x="635.4" y="11.4" width="294.6" height="419.9"><rect x="635.4" y="11.4" width="294.6" height="419.9" fill="#000"/><path d="M746 262L743 287L742 300L737 325L733 345L708 361L720.7 370.6L735.4 379.8L750 392.6L792 398L830 398L830 262Z" fill="#fff" stroke="#000" stroke-width="1.6"/><path d="M708 361L720.7 370.6L735.4 379.8L750 392.6L792 398" stroke="#000" stroke-width="3" fill="none"/></mask><clipPath id="h1C0"><path d="M635.4 345.1L635.4 345.1L636.4 345.1L637.4 345.1L638.3 345.1L639.3 345.1L640.3 345.1L641.3 345.1L642.3 345.1L643.3 345.1L644.2 345.1L645.2 345.1L646.2 345.1L647.2 345.1L648.2 345.1L649.1 345.1L650.1 345.1L651.1 345.1L652.1 345.1L653.1 345.1L654.1 345.1L655 345.1L656 345.1L657 345.1L658 345.1L659 345.1L659.9 345.1L660.9 345.1L661.9 345.1L662.9 345.1L663.9 345.1L664.9 345.1L665.8 345.1L666.8 345.1L667.8 345.1L668.8 345.1L669.8 345.1L670.8 345.1L671.7 345.1L672.7 345.1L673.7 345.1L674.7 345.1L675.7 345.1L676.6 345.1L677.6 345.1L678.6 345.1L679.6 345.1L680.6 345.1L681.6 345.1L682.5 345.1L683.5 345.1L684.5 345.1L685.5 345.1L686.5 345.1L687.4 345.1L688.4 345.1L689.4 345.1L690.4 345.1L691.4 345.1L692.4 345.1L693.3 345.1L694.3 345.1L695.3 345.1L696.3 345.1L697.3 345.1L698.2 345.1L699.2 345.1L700.2 345.1L701.2 345.1L702.2 345.1L703.2 345.1L704.1 345.1L705.1 345.1L706.1 345.1L707.1 345.1L708.1 345.1L709 345.1L710 345.1L711 345.1L712 345.1L713 345.1L714 345.1L714.9 345.1L715.9 345.1L716.9 345.1L717.9 345.1L718.9 345.1L719.9 345.1L720.8 345.1L721.8 345.1L722.8 345.1L723.8 345.1L724.8 345.1L725.7 345.1L726.7 345.1L727.7 345.1L728.7 345.1L729.7 345.1L730.7 345.1L731.6 345.1L732.6 345.1L733.6 345.1L734.6 345.1L735.6 345.1L736.5 345.1L737.5 345.1L738.5 345.1L739.5 345.1L740.5 345.1L741.5 345.1L742.4 345.1L743.4 345.1L744.4 345.1L745.4 345.1L746.4 345.1L747.3 345.1L748.3 345.1L749.3 345.1L750.3 345.1L751.3 345.1L752.3 345.1L753.2 345.1L754.2 345.1L755.2 345.1L756.2 345.1L757.2 345.1L758.1 345.1L759.1 345.1L760.1 345.1L761.1 345.1L762.1 345.1L763.1 345.1L764 345.1L765 345.1L766 345.1L767 344.6L768 340.3L769 336.1L769.9 331.8L770.9 327.5L771.9 323.1L772.9 318.8L773.9 314.4L774.8 310.1L775.8 305.8L776.8 301.5L777.8 297.3L778.8 293.2L779.8 289.2L780.7 285.2L781.7 281.4L782.7 277.7L783.7 274.1L784.7 270.7L785.6 267.4L786.6 264.3L787.6 261.4L788.6 258.6L789.6 256.1L790.6 253.8L791.5 251.6L792.5 249.7L793.5 248L794.5 246.5L795.5 245.3L796.4 244.2L797.4 243.4L798.4 242.7L799.4 242.3L800.4 242.1L801.4 242L802.3 242L803.3 242.2L804.3 242.6L805.3 243.1L806.3 243.8L807.2 244.6L808.2 245.7L809.2 247L810.2 248.5L811.2 250.2L812.2 252.1L813.1 254.3L814.1 256.6L815.1 259.1L816.1 261.8L817.1 264.7L818.1 267.8L819 271.1L820 274.5L821 278L822 281.7L823 285.6L823.9 289.5L824.9 293.6L825.9 297.8L826.9 302L827.9 306.3L828.9 310.6L829.8 315L830.8 319.4L831.8 323.8L832.8 328.2L833.8 332.6L834.7 337L835.7 341.3L836.7 345.1L837.7 345.1L838.7 345.1L839.7 345.1L840.6 345.1L841.6 345.1L842.6 345.1L843.6 345.1L844.6 345.1L845.5 345.1L846.5 345.1L847.5 345.1L848.5 345.1L849.5 345.1L850.5 345.1L851.4 345.1L852.4 345.1L853.4 345.1L854.4 345.1L855.4 345.1L856.4 345.1L857.3 345.1L858.3 345.1L859.3 345.1L860.3 345.1L861.3 345.1L862.2 345.1L863.2 345.1L864.2 345.1L865.2 345.1L866.2 345.1L867.2 345.1L868.1 345.1L869.1 345.1L870.1 345.1L871.1 345.1L872.1 345.1L873 345.1L874 345.1L875 345.1L876 345.1L877 345.1L878 345.1L878.9 345.1L879.9 345.1L880.9 345.1L881.9 345.1L882.9 345.1L883.8 345.1L884.8 345.1L885.8 345.1L886.8 345.1L887.8 345.1L888.8 345.1L889.7 345.1L890.7 345.1L891.7 345.1L892.7 345.1L893.7 345.1L894.6 345.1L895.6 345.1L896.6 345.1L897.6 345.1L898.6 345.1L899.6 345.1L900.5 345.1L901.5 345.1L902.5 345.1L903.5 345.1L904.5 345.1L905.5 345.1L906.4 345.1L907.4 345.1L908.4 345.1L909.4 345.1L910.4 345.1L911.3 345.1L912.3 345.1L913.3 345.1L914.3 345.1L915.3 345.1L916.3 345.1L917.2 345.1L918.2 345.1L919.2 345.1L920.2 345.1L921.2 345.1L922.1 345.1L923.1 345.1L924.1 345.1L925.1 345.1L926.1 345.1L927.1 345.1L928 345.1L929 345.1L930 345.1L930 345.1Z"/></clipPath><mask id="m1C0a" maskUnits="userSpaceOnUse" x="635.4" y="11.4" width="294.6" height="419.9"><rect x="635.4" y="11.4" width="294.6" height="419.9" fill="#fff"/><path d="M796 235L796 347L850 347L850 235Z" fill="#000" stroke="#000" stroke-width="1.6"/></mask><mask id="m1C0b" maskUnits="userSpaceOnUse" x="635.4" y="11.4" width="294.6" height="419.9"><rect x="635.4" y="11.4" width="294.6" height="419.9" fill="#000"/><path d="M796 235L796 347L850 347L850 235Z" fill="#fff" stroke="#000" stroke-width="1.6"/></mask><clipPath id="h1D0"><path d="M635.4 431.3L635.4 431.3L636.4 431.3L637.4 431.3L638.3 431.3L639.3 431.3L640.3 431.3L641.3 431.3L642.3 431.3L643.3 431.3L644.2 431.3L645.2 431.3L646.2 431.3L647.2 431.3L648.2 431.3L649.1 431.3L650.1 431.3L651.1 431.3L652.1 431.3L653.1 431.3L654.1 431.3L655 431.3L656 431.3L657 431.3L658 431.3L659 431.3L659.9 431.3L660.9 431.3L661.9 431.3L662.9 431.3L663.9 431.3L664.9 431.3L665.8 431.3L666.8 431.3L667.8 431.3L668.8 431.3L669.8 431.3L670.8 431.3L671.7 431.3L672.7 431.3L673.7 431.3L674.7 431.3L675.7 431.3L676.6 431.3L677.6 431.3L678.6 431.3L679.6 431.3L680.6 431.3L681.6 431.3L682.5 431.3L683.5 431.3L684.5 431.3L685.5 431.3L686.5 431.3L687.4 431.3L688.4 431.3L689.4 431.3L690.4 431.3L691.4 431.3L692.4 431.3L693.3 431.3L694.3 431.3L695.3 431.3L696.3 431.3L697.3 431.3L698.2 431.3L699.2 431.2L700.2 431.2L701.2 431.2L702.2 431.2L703.2 431.2L704.1 431.2L705.1 431.2L706.1 431.1L707.1 431.1L708.1 431.1L709 431L710 431L711 430.9L712 430.9L713 430.8L714 430.8L714.9 430.7L715.9 430.6L716.9 430.5L717.9 430.4L718.9 430.2L719.9 430.1L720.8 429.9L721.8 429.7L722.8 429.5L723.8 429.2L724.8 429L725.7 428.7L726.7 428.3L727.7 428L728.7 427.6L729.7 427.1L730.7 426.6L731.6 426.1L732.6 425.5L733.6 424.8L734.6 424.1L735.6 423.3L736.5 422.5L737.5 421.6L738.5 420.6L739.5 419.5L740.5 418.3L741.5 417.1L742.4 415.7L743.4 414.3L744.4 412.7L745.4 411.1L746.4 409.3L747.3 407.4L748.3 405.4L749.3 403.3L750.3 401L751.3 398.7L752.3 396.2L753.2 393.6L754.2 390.8L755.2 388L756.2 385L757.2 381.8L758.1 378.6L759.1 375.2L760.1 371.7L761.1 368.2L762.1 364.5L763.1 360.6L764 356.7L765 352.8L766 348.7L767 345.1L768 345.1L769 345.1L769.9 345.1L770.9 345.1L771.9 345.1L772.9 345.1L773.9 345.1L774.8 345.1L775.8 345.1L776.8 345.1L777.8 345.1L778.8 345.1L779.8 345.1L780.7 345.1L781.7 345.1L782.7 345.1L783.7 345.1L784.7 345.1L785.6 345.1L786.6 345.1L787.6 345.1L788.6 345.1L789.6 345.1L790.6 345.1L791.5 345.1L792.5 345.1L793.5 345.1L794.5 345.1L795.5 345.1L796.4 345.1L797.4 345.1L798.4 345.1L799.4 345.1L800.4 345.1L801.4 345.1L802.3 345.1L803.3 345.1L804.3 345.1L805.3 345.1L806.3 345.1L807.2 345.1L808.2 345.1L809.2 345.1L810.2 345.1L811.2 345.1L812.2 345.1L813.1 345.1L814.1 345.1L815.1 345.1L816.1 345.1L817.1 345.1L818.1 345.1L819 345.1L820 345.1L821 345.1L822 345.1L823 345.1L823.9 345.1L824.9 345.1L825.9 345.1L826.9 345.1L827.9 345.1L828.9 345.1L829.8 345.1L830.8 345.1L831.8 345.1L832.8 345.1L833.8 345.1L834.7 345.1L835.7 345.1L836.7 345.6L837.7 349.8L838.7 353.9L839.7 358L840.6 362L841.6 365.8L842.6 369.6L843.6 373.2L844.6 376.8L845.5 380.2L846.5 383.4L847.5 386.6L848.5 389.6L849.5 392.5L850.5 395.3L851.4 397.9L852.4 400.4L853.4 402.7L854.4 405L855.4 407.1L856.4 409L857.3 410.9L858.3 412.6L859.3 414.2L860.3 415.8L861.3 417.2L862.2 418.5L863.2 419.7L864.2 420.8L865.2 421.8L866.2 422.7L867.2 423.6L868.1 424.4L869.1 425.1L870.1 425.8L871.1 426.4L872.1 426.9L873 427.4L874 427.9L875 428.3L876 428.6L877 428.9L878 429.2L878.9 429.5L879.9 429.7L880.9 429.9L881.9 430.1L882.9 430.2L883.8 430.4L884.8 430.5L885.8 430.6L886.8 430.7L887.8 430.8L888.8 430.9L889.7 430.9L890.7 431L891.7 431L892.7 431.1L893.7 431.1L894.6 431.1L895.6 431.2L896.6 431.2L897.6 431.2L898.6 431.2L899.6 431.2L900.5 431.2L901.5 431.3L902.5 431.3L903.5 431.3L904.5 431.3L905.5 431.3L906.4 431.3L907.4 431.3L908.4 431.3L909.4 431.3L910.4 431.3L911.3 431.3L912.3 431.3L913.3 431.3L914.3 431.3L915.3 431.3L916.3 431.3L917.2 431.3L918.2 431.3L919.2 431.3L920.2 431.3L921.2 431.3L922.1 431.3L923.1 431.3L924.1 431.3L925.1 431.3L926.1 431.3L927.1 431.3L928 431.3L929 431.3L930 431.3L930 431.3Z"/></clipPath><mask id="m1D0a" maskUnits="userSpaceOnUse" x="635.4" y="11.4" width="294.6" height="419.9"><rect x="635.4" y="11.4" width="294.6" height="419.9" fill="#fff"/><path d="M760 380L770 384L779.8 389L797.7 399.6L808.3 405.8L819 409.4L827 414.3L835 418L850 426L900 432L700 432L720 415L745 395Z" fill="#000" stroke="#000" stroke-width="1.6"/><path d="M760 380L770 384L779.8 389L797.7 399.6L808.3 405.8L819 409.4L827 414.3L835 418L850 426" stroke="#000" stroke-width="2.5" fill="none"/></mask><mask id="m1D0b" maskUnits="userSpaceOnUse" x="635.4" y="11.4" width="294.6" height="419.9"><rect x="635.4" y="11.4" width="294.6" height="419.9" fill="#000"/><path d="M760 380L770 384L779.8 389L797.7 399.6L808.3 405.8L819 409.4L827 414.3L835 418L850 426L900 432L700 432L720 415L745 395Z" fill="#fff" stroke="#000" stroke-width="1.6"/><path d="M760 380L770 384L779.8 389L797.7 399.6L808.3 405.8L819 409.4L827 414.3L835 418L850 426" stroke="#000" stroke-width="2.5" fill="none"/></mask><clipPath id="fc1"><rect x="635.4" y="11.4" width="294.6" height="421.1"/></clipPath><clipPath id="h2A0"><path d="M36.9 843.1L36.9 843.1L37.8 843.1L38.7 843.1L39.6 843.1L40.6 843.1L41.5 843.1L42.4 843.1L43.3 843.1L44.2 843.1L45.1 843.1L46.1 843.1L47 843.1L47.9 843.1L48.8 843.1L49.7 843.1L50.6 843.1L51.6 843.1L52.5 843.1L53.4 843.1L54.3 843.1L55.2 843.1L56.1 843.1L57.1 843.1L58 843.1L58.9 843.1L59.8 843.1L60.7 843.1L61.6 843.1L62.6 843.1L63.5 843.1L64.4 843.1L65.3 843.1L66.2 843.1L67.2 843.1L68.1 843.1L69 843.1L69.9 843.1L70.8 843.1L71.7 843.1L72.7 843.1L73.6 843.1L74.5 843.1L75.4 843.1L76.3 843.1L77.2 843.1L78.2 843.1L79.1 843.1L80 843.1L80.9 843.1L81.8 843.1L82.7 843.1L83.7 843.1L84.6 843.1L85.5 843.1L86.4 843.1L87.3 843.1L88.2 843.1L89.2 843.1L90.1 843.1L91 843.1L91.9 843.1L92.8 843.1L93.7 843.1L94.7 840.2L95.6 836.3L96.5 832.2L97.4 828L98.3 823.7L99.2 819.2L100.2 814.5L101.1 809.8L102 804.8L102.9 799.8L103.8 794.6L104.7 789.3L105.7 783.8L106.6 778.3L107.5 772.6L108.4 766.9L109.3 761L110.2 755L111.2 749L112.1 742.9L113 736.8L113.9 730.6L114.8 724.4L115.7 718.1L116.7 711.8L117.6 705.6L118.5 699.3L119.4 693.1L120.3 686.9L121.2 680.8L122.2 674.7L123.1 668.7L124 662.9L124.9 657.1L125.8 651.5L126.7 645.9L127.7 640.6L128.6 635.4L129.5 630.4L130.4 625.6L131.3 620.9L132.2 616.5L133.2 612.4L134.1 608.4L135 604.7L135.9 601.3L136.8 598.1L137.7 595.2L138.7 592.6L139.6 590.3L140.5 588.2L141.4 586.5L142.3 585L143.2 583.8L144.2 583L145.1 582.4L146 582.1L146.9 582.1L147.8 582.3L148.7 582.9L149.7 583.9L150.6 585.1L151.5 586.6L152.4 588.5L153.3 590.6L154.2 593L155.2 595.7L156.1 598.7L157 601.9L157.9 605.4L158.8 609.2L159.7 613.2L160.7 617.4L161.6 621.8L162.5 626.4L163.4 631.3L164.3 636.2L165.2 641.4L166.2 646.7L167.1 652.2L168 657.7L168.9 663.4L169.8 669.2L170.7 675.1L171.7 681L172.6 687L173.5 693.1L174.4 699.2L175.3 705.2L176.2 711.4L177.2 717.5L178.1 723.5L179 729.6L179.9 735.6L180.8 741.6L181.7 747.5L182.7 753.4L183.6 759.2L184.5 764.9L185.4 770.5L186.3 776L187.2 781.4L188.2 786.7L189.1 791.9L190 796.9L190.9 801.9L191.8 806.7L192.7 811.4L193.7 815.9L194.6 820.4L195.5 824.6L196.4 828.8L197.3 832.8L198.2 836.6L199.2 840.4L200.1 843.1L201 843.1L201.9 843.1L202.8 843.1L203.7 843.1L204.7 843.1L205.6 843.1L206.5 843.1L207.4 843.1L208.3 843.1L209.2 843.1L210.2 843.1L211.1 843.1L212 843.1L212.9 843.1L213.8 843.1L214.7 843.1L215.7 843.1L216.6 843.1L217.5 843.1L218.4 843.1L219.3 843.1L220.2 843.1L221.2 843.1L222.1 843.1L223 843.1L223.9 843.1L224.8 843.1L225.7 843.1L226.7 843.1L227.6 843.1L228.5 843.1L229.4 843.1L230.3 843.1L231.2 843.1L232.2 843.1L233.1 843.1L234 843.1L234.9 843.1L235.8 843.1L236.7 843.1L237.7 843.1L238.6 843.1L239.5 843.1L240.4 843.1L241.3 843.1L242.2 843.1L243.2 843.1L244.1 843.1L245 843.1L245.9 843.1L246.8 843.1L247.7 843.1L248.7 843.1L249.6 843.1L250.5 843.1L251.4 843.1L252.3 843.1L253.2 843.1L254.2 843.1L255.1 843.1L256 843.1L256.9 843.1L257.8 843.1L258.7 843.1L259.6 843.1L260.6 843.1L261.5 843.1L262.4 843.1L263.3 843.1L264.2 843.1L265.1 843.1L266.1 843.1L267 843.1L267.9 843.1L268.8 843.1L269.7 843.1L270.6 843.1L271.6 843.1L272.5 843.1L273.4 843.1L274.3 843.1L275.2 843.1L276.1 843.1L277.1 843.1L278 843.1L278.9 843.1L279.8 843.1L280.7 843.1L281.6 843.1L282.6 843.1L283.5 843.1L284.4 843.1L285.3 843.1L286.2 843.1L287.1 843.1L288.1 843.1L289 843.1L289.9 843.1L290.8 843.1L291.7 843.1L292.6 843.1L293.6 843.1L294.5 843.1L295.4 843.1L296.3 843.1L297.2 843.1L298.1 843.1L299.1 843.1L300 843.1L300.9 843.1L301.8 843.1L302.7 843.1L303.6 843.1L304.6 843.1L305.5 843.1L306.4 843.1L307.3 843.1L308.2 843.1L309.1 843.1L310.1 843.1L311 843.1L311.9 843.1L311.9 843.1Z"/></clipPath><mask id="m2A0a" maskUnits="userSpaceOnUse" x="36.9" y="513.3" width="275" height="393.3"><rect x="36.9" y="513.3" width="275" height="393.3" fill="#fff"/><path d="M143.5 578L137.1 589.1L133.2 600.2L130.4 611.4L128 622.5L125.9 633.6L123.9 644.8L122.1 655.9L120.3 667L118.6 678.1L117 689.2L115.3 700.4L113.7 711.5L112.1 722.6L110.4 733.8L108.8 744.9L107.1 756L105.4 767.1L103.6 778.2L101.7 789.4L99.8 800.5L97.7 811.6L95.5 822.8L93.1 833.9L90.5 845L105.5 845L108.1 833.9L110.5 822.8L112.7 811.6L114.8 800.5L116.7 789.4L118.6 778.2L120.4 767.1L122.1 756L123.8 744.9L125.4 733.8L127.1 722.6L128.7 711.5L130.3 700.4L132 689.2L133.6 678.1L135.3 667L137.1 655.9L138.9 644.8L140.9 633.6L143 622.5L145.4 611.4L148.2 600.2L152.1 589.1L158.5 578Z" fill="#000" stroke="#000" stroke-width="1.6"/><path d="M148.2 590L148.2 752L143 781L140 805.6L138 845" stroke="#000" stroke-width="1.6" fill="none"/></mask><mask id="m2A0b" maskUnits="userSpaceOnUse" x="36.9" y="513.3" width="275" height="393.3"><rect x="36.9" y="513.3" width="275" height="393.3" fill="#000"/><path d="M143.5 578L137.1 589.1L133.2 600.2L130.4 611.4L128 622.5L125.9 633.6L123.9 644.8L122.1 655.9L120.3 667L118.6 678.1L117 689.2L115.3 700.4L113.7 711.5L112.1 722.6L110.4 733.8L108.8 744.9L107.1 756L105.4 767.1L103.6 778.2L101.7 789.4L99.8 800.5L97.7 811.6L95.5 822.8L93.1 833.9L90.5 845L105.5 845L108.1 833.9L110.5 822.8L112.7 811.6L114.8 800.5L116.7 789.4L118.6 778.2L120.4 767.1L122.1 756L123.8 744.9L125.4 733.8L127.1 722.6L128.7 711.5L130.3 700.4L132 689.2L133.6 678.1L135.3 667L137.1 655.9L138.9 644.8L140.9 633.6L143 622.5L145.4 611.4L148.2 600.2L152.1 589.1L158.5 578Z" fill="#fff" stroke="#000" stroke-width="1.6"/><path d="M148.2 590L148.2 752L143 781L140 805.6L138 845" stroke="#000" stroke-width="1.6" fill="none"/></mask><clipPath id="h2B0"><path d="M36.9 906.6L36.9 906.4L37.8 906.4L38.7 906.3L39.6 906.3L40.6 906.3L41.5 906.2L42.4 906.2L43.3 906.1L44.2 906.1L45.1 906L46.1 905.9L47 905.8L47.9 905.7L48.8 905.6L49.7 905.5L50.6 905.4L51.6 905.3L52.5 905.1L53.4 904.9L54.3 904.8L55.2 904.6L56.1 904.3L57.1 904.1L58 903.8L58.9 903.5L59.8 903.2L60.7 902.8L61.6 902.5L62.6 902L63.5 901.6L64.4 901.1L65.3 900.6L66.2 900L67.2 899.3L68.1 898.7L69 897.9L69.9 897.1L70.8 896.3L71.7 895.4L72.7 894.4L73.6 893.3L74.5 892.2L75.4 891L76.3 889.7L77.2 888.3L78.2 886.8L79.1 885.2L80 883.6L80.9 881.8L81.8 879.9L82.7 877.9L83.7 875.8L84.6 873.6L85.5 871.2L86.4 868.7L87.3 866.1L88.2 863.4L89.2 860.5L90.1 857.4L91 854.3L91.9 851L92.8 847.5L93.7 843.9L94.7 843.1L95.6 843.1L96.5 843.1L97.4 843.1L98.3 843.1L99.2 843.1L100.2 843.1L101.1 843.1L102 843.1L102.9 843.1L103.8 843.1L104.7 843.1L105.7 843.1L106.6 843.1L107.5 843.1L108.4 843.1L109.3 843.1L110.2 843.1L111.2 843.1L112.1 843.1L113 843.1L113.9 843.1L114.8 843.1L115.7 843.1L116.7 843.1L117.6 843.1L118.5 843.1L119.4 843.1L120.3 843.1L121.2 843.1L122.2 843.1L123.1 843.1L124 843.1L124.9 843.1L125.8 843.1L126.7 843.1L127.7 843.1L128.6 843.1L129.5 843.1L130.4 843.1L131.3 843.1L132.2 843.1L133.2 843.1L134.1 843.1L135 843.1L135.9 843.1L136.8 843.1L137.7 843.1L138.7 843.1L139.6 843.1L140.5 843.1L141.4 843.1L142.3 843.1L143.2 843.1L144.2 843.1L145.1 843.1L146 843.1L146.9 843.1L147.8 843.1L148.7 843.1L149.7 843.1L150.6 843.1L151.5 843.1L152.4 843.1L153.3 843.1L154.2 843.1L155.2 843.1L156.1 843.1L157 843.1L157.9 843.1L158.8 843.1L159.7 843.1L160.7 843.1L161.6 843.1L162.5 843.1L163.4 843.1L164.3 843.1L165.2 843.1L166.2 843.1L167.1 843.1L168 843.1L168.9 843.1L169.8 843.1L170.7 843.1L171.7 843.1L172.6 843.1L173.5 843.1L174.4 843.1L175.3 843.1L176.2 843.1L177.2 843.1L178.1 843.1L179 843.1L179.9 843.1L180.8 843.1L181.7 843.1L182.7 843.1L183.6 843.1L184.5 843.1L185.4 843.1L186.3 843.1L187.2 843.1L188.2 843.1L189.1 843.1L190 843.1L190.9 843.1L191.8 843.1L192.7 843.1L193.7 843.1L194.6 843.1L195.5 843.1L196.4 843.1L197.3 843.1L198.2 843.1L199.2 843.1L200.1 844L201 847.4L201.9 850.7L202.8 853.9L203.7 856.9L204.7 859.9L205.6 862.6L206.5 865.3L207.4 867.8L208.3 870.2L209.2 872.5L210.2 874.7L211.1 876.8L212 878.7L212.9 880.6L213.8 882.4L214.7 884L215.7 885.6L216.6 887.1L217.5 888.5L218.4 889.8L219.3 891L220.2 892.1L221.2 893.2L222.1 894.2L223 895.2L223.9 896.1L224.8 896.9L225.7 897.7L226.7 898.4L227.6 899L228.5 899.7L229.4 900.2L230.3 900.8L231.2 901.3L232.2 901.7L233.1 902.1L234 902.5L234.9 902.9L235.8 903.2L236.7 903.5L237.7 903.8L238.6 904L239.5 904.3L240.4 904.5L241.3 904.7L242.2 904.9L243.2 905L244.1 905.2L245 905.3L245.9 905.5L246.8 905.6L247.7 905.7L248.7 905.8L249.6 905.8L250.5 905.9L251.4 906L252.3 906.1L253.2 906.1L254.2 906.2L255.1 906.2L256 906.3L256.9 906.3L257.8 906.3L258.7 906.4L259.6 906.4L260.6 906.4L261.5 906.4L262.4 906.4L263.3 906.5L264.2 906.5L265.1 906.5L266.1 906.5L267 906.5L267.9 906.5L268.8 906.5L269.7 906.5L270.6 906.6L271.6 906.6L272.5 906.6L273.4 906.6L274.3 906.6L275.2 906.6L276.1 906.6L277.1 906.6L278 906.6L278.9 906.6L279.8 906.6L280.7 906.6L281.6 906.6L282.6 906.6L283.5 906.6L284.4 906.6L285.3 906.6L286.2 906.6L287.1 906.6L288.1 906.6L289 906.6L289.9 906.6L290.8 906.6L291.7 906.6L292.6 906.6L293.6 906.6L294.5 906.6L295.4 906.6L296.3 906.6L297.2 906.6L298.1 906.6L299.1 906.6L300 906.6L300.9 906.6L301.8 906.6L302.7 906.6L303.6 906.6L304.6 906.6L305.5 906.6L306.4 906.6L307.3 906.6L308.2 906.6L309.1 906.6L310.1 906.6L311 906.6L311.9 906.6L311.9 906.6Z"/></clipPath><mask id="m2B0a" maskUnits="userSpaceOnUse" x="36.9" y="513.3" width="275" height="393.3"><rect x="36.9" y="513.3" width="275" height="393.3" fill="#fff"/><path d="M70 886L84.6 884.6L119.5 888.7L142 884.6L152.3 868" stroke="#000" stroke-width="5.5" fill="none"/><path d="M150 842L200 842L200 880L160 880Z" fill="#000"/></mask><clipPath id="h2C0"><path d="M36.9 862.2L36.9 862.2L37.8 862.2L38.7 862.2L39.6 862.2L40.6 862.2L41.5 862.2L42.4 862.2L43.3 862.2L44.2 862.2L45.1 862.2L46.1 862.2L47 862.2L47.9 862.2L48.8 862.2L49.7 862.2L50.6 862.2L51.6 862.2L52.5 862.2L53.4 862.2L54.3 862.2L55.2 862.2L56.1 862.2L57.1 862.2L58 862.2L58.9 862.2L59.8 862.2L60.7 862.2L61.6 862.2L62.6 862.2L63.5 862.2L64.4 862.2L65.3 862.2L66.2 862.2L67.2 862.2L68.1 862.2L69 862.2L69.9 862.2L70.8 862.2L71.7 862.2L72.7 862.2L73.6 862.2L74.5 862.2L75.4 862.2L76.3 862.2L77.2 862.2L78.2 862.2L79.1 862.2L80 862.2L80.9 862.2L81.8 862.2L82.7 862.2L83.7 862.2L84.6 862.2L85.5 862.2L86.4 862.2L87.3 862.2L88.2 862.2L89.2 862.2L90.1 862.2L91 862.2L91.9 862.2L92.8 862.2L93.7 862.2L94.7 862.2L95.6 862.2L96.5 862.2L97.4 862.2L98.3 862.2L99.2 862.2L100.2 862.2L101.1 862.2L102 862.2L102.9 862.2L103.8 862.2L104.7 862.2L105.7 862.2L106.6 862.2L107.5 862.2L108.4 862.2L109.3 862.2L110.2 862.2L111.2 862.2L112.1 862.2L113 862.2L113.9 862.2L114.8 862.2L115.7 862.2L116.7 862.2L117.6 862.2L118.5 862.2L119.4 862.2L120.3 862.2L121.2 862.2L122.2 862.2L123.1 862.2L124 862.2L124.9 862.2L125.8 862.2L126.7 862.2L127.7 862.2L128.6 862.2L129.5 862.2L130.4 862.2L131.3 862.2L132.2 862.2L133.2 862.2L134.1 862.2L135 862.2L135.9 862.2L136.8 862.2L137.7 862.2L138.7 862.2L139.6 862.2L140.5 862.2L141.4 862.2L142.3 862.2L143.2 862.2L144.2 862.2L145.1 862.2L146 862.2L146.9 862.2L147.8 862.2L148.7 862.2L149.7 862.2L150.6 862.2L151.5 862.2L152.4 862.2L153.3 862.2L154.2 862.2L155.2 862.2L156.1 862.2L157 862.2L157.9 862.2L158.8 862.2L159.7 862.2L160.7 862.2L161.6 862.2L162.5 862.2L163.4 861.2L164.3 857.4L165.2 853.5L166.2 849.3L167.1 845L168 840.4L168.9 835.6L169.8 830.7L170.7 825.6L171.7 820.2L172.6 814.8L173.5 809.1L174.4 803.3L175.3 797.4L176.2 791.4L177.2 785.3L178.1 779.1L179 772.8L179.9 766.5L180.8 760.2L181.7 753.9L182.7 747.7L183.6 741.5L184.5 735.4L185.4 729.4L186.3 723.6L187.2 717.9L188.2 712.5L189.1 707.3L190 702.3L190.9 697.6L191.8 693.2L192.7 689.2L193.7 685.5L194.6 682.2L195.5 679.2L196.4 676.7L197.3 674.5L198.2 672.8L199.2 671.6L200.1 670.7L201 670.3L201.9 670.4L202.8 670.7L203.7 671.5L204.7 672.6L205.6 674.1L206.5 676.1L207.4 678.4L208.3 681.1L209.2 684.2L210.2 687.6L211.1 691.4L212 695.5L212.9 700L213.8 704.7L214.7 709.8L215.7 715L216.6 720.5L217.5 726.2L218.4 732.1L219.3 738.1L220.2 744.3L221.2 750.5L222.1 756.8L223 763.1L223.9 769.5L224.8 775.8L225.7 782.1L226.7 788.3L227.6 794.5L228.5 800.6L229.4 806.5L230.3 812.3L231.2 818L232.2 823.5L233.1 828.8L234 833.9L234.9 838.9L235.8 843.6L236.7 848.1L237.7 852.4L238.6 856.5L239.5 860.4L240.4 862.2L241.3 862.2L242.2 862.2L243.2 862.2L244.1 862.2L245 862.2L245.9 862.2L246.8 862.2L247.7 862.2L248.7 862.2L249.6 862.2L250.5 862.2L251.4 862.2L252.3 862.2L253.2 862.2L254.2 862.2L255.1 862.2L256 862.2L256.9 862.2L257.8 862.2L258.7 862.2L259.6 862.2L260.6 862.2L261.5 862.2L262.4 862.2L263.3 862.2L264.2 862.2L265.1 862.2L266.1 862.2L267 862.2L267.9 862.2L268.8 862.2L269.7 862.2L270.6 862.2L271.6 862.2L272.5 862.2L273.4 862.2L274.3 862.2L275.2 862.2L276.1 862.2L277.1 862.2L278 862.2L278.9 862.2L279.8 862.2L280.7 862.2L281.6 862.2L282.6 862.2L283.5 862.2L284.4 862.2L285.3 862.2L286.2 862.2L287.1 862.2L288.1 862.2L289 862.2L289.9 862.2L290.8 862.2L291.7 862.2L292.6 862.2L293.6 862.2L294.5 862.2L295.4 862.2L296.3 862.2L297.2 862.2L298.1 862.2L299.1 862.2L300 862.2L300.9 862.2L301.8 862.2L302.7 862.2L303.6 862.2L304.6 862.2L305.5 862.2L306.4 862.2L307.3 862.2L308.2 862.2L309.1 862.2L310.1 862.2L311 862.2L311.9 862.2L311.9 862.2Z"/></clipPath><mask id="m2C0a" maskUnits="userSpaceOnUse" x="36.9" y="513.3" width="275" height="393.3"><rect x="36.9" y="513.3" width="275" height="393.3" fill="#fff"/><path d="M192.5 665L192.5 719.8L230 682.3L230 665ZM181.8 778L181.8 817.2L240 759L240 720ZM205 861L240 826L240 864L205 864Z" fill="#000" stroke="#000" stroke-width="1.6"/></mask><mask id="m2C0b" maskUnits="userSpaceOnUse" x="36.9" y="513.3" width="275" height="393.3"><rect x="36.9" y="513.3" width="275" height="393.3" fill="#000"/><path d="M192.5 665L192.5 719.8L230 682.3L230 665ZM181.8 778L181.8 817.2L240 759L240 720ZM205 861L240 826L240 864L205 864Z" fill="#fff" stroke="#000" stroke-width="1.6"/></mask><clipPath id="h2C1"><path d="M36.9 862.2L36.9 862.2L37.8 862.2L38.7 862.2L39.6 862.2L40.6 862.2L41.5 862.2L42.4 862.2L43.3 862.2L44.2 862.2L45.1 862.2L46.1 862.2L47 862.2L47.9 862.2L48.8 862.2L49.7 862.2L50.6 862.2L51.6 862.2L52.5 862.2L53.4 862.2L54.3 862.2L55.2 862.2L56.1 862.2L57.1 862.2L58 862.2L58.9 862.2L59.8 862.2L60.7 862.2L61.6 862.2L62.6 862.2L63.5 862.2L64.4 862.2L65.3 862.2L66.2 862.2L67.2 862.2L68.1 862.2L69 862.2L69.9 862.2L70.8 862.2L71.7 862.2L72.7 862.2L73.6 862.2L74.5 862.2L75.4 862.2L76.3 862.2L77.2 862.2L78.2 862.2L79.1 862.2L80 862.2L80.9 862.2L81.8 862.2L82.7 862.2L83.7 862.2L84.6 862.2L85.5 862.2L86.4 862.2L87.3 862.2L88.2 862.2L89.2 862.2L90.1 862.2L91 862.2L91.9 862.2L92.8 862.2L93.7 862.2L94.7 862.2L95.6 862.2L96.5 862.2L97.4 862.2L98.3 862.2L99.2 862.2L100.2 862.2L101.1 862.2L102 862.2L102.9 862.2L103.8 862.2L104.7 862.2L105.7 862.2L106.6 862.2L107.5 862.2L108.4 862.2L109.3 862.2L110.2 862.2L111.2 862.2L112.1 862.2L113 862.2L113.9 862.2L114.8 862.2L115.7 862.2L116.7 862.2L117.6 862.2L118.5 862.2L119.4 862.2L120.3 862.2L121.2 862.2L122.2 862.2L123.1 862.2L124 862.2L124.9 862.2L125.8 862.2L126.7 862.2L127.7 862.2L128.6 862.2L129.5 862.2L130.4 862.2L131.3 862.2L132.2 862.2L133.2 862.2L134.1 862.2L135 862.2L135.9 862.2L136.8 862.2L137.7 862.2L138.7 862.2L139.6 862.2L140.5 862.2L141.4 862.2L142.3 862.2L143.2 862.2L144.2 862.2L145.1 862.2L146 862.2L146.9 862.2L147.8 862.2L148.7 862.2L149.7 862.2L150.6 862.2L151.5 862.2L152.4 862.2L153.3 862.2L154.2 862.2L155.2 862.2L156.1 862.2L157 862.2L157.9 862.2L158.8 862.2L159.7 862.2L160.7 862.2L161.6 862.2L162.5 862.2L163.4 861.2L164.3 857.4L165.2 853.5L166.2 849.3L167.1 845L168 840.4L168.9 835.6L169.8 830.7L170.7 825.6L171.7 820.2L172.6 814.8L173.5 809.1L174.4 803.3L175.3 797.4L176.2 791.4L177.2 785.3L178.1 779.1L179 772.8L179.9 766.5L180.8 760.2L181.7 753.9L182.7 747.7L183.6 741.5L184.5 735.4L185.4 729.4L186.3 723.6L187.2 717.9L188.2 712.5L189.1 707.3L190 702.3L190.9 697.6L191.8 693.2L192.7 689.2L193.7 685.5L194.6 682.2L195.5 679.2L196.4 676.7L197.3 674.5L198.2 672.8L199.2 671.6L200.1 670.7L201 670.3L201.9 670.4L202.8 670.7L203.7 671.5L204.7 672.6L205.6 674.1L206.5 676.1L207.4 678.4L208.3 681.1L209.2 684.2L210.2 687.6L211.1 691.4L212 695.5L212.9 700L213.8 704.7L214.7 709.8L215.7 715L216.6 720.5L217.5 726.2L218.4 732.1L219.3 738.1L220.2 744.3L221.2 750.5L222.1 756.8L223 763.1L223.9 769.5L224.8 775.8L225.7 782.1L226.7 788.3L227.6 794.5L228.5 800.6L229.4 806.5L230.3 812.3L231.2 818L232.2 823.5L233.1 828.8L234 833.9L234.9 838.9L235.8 843.6L236.7 848.1L237.7 852.4L238.6 856.5L239.5 860.4L240.4 862.2L241.3 862.2L242.2 862.2L243.2 862.2L244.1 862.2L245 862.2L245.9 862.2L246.8 862.2L247.7 862.2L248.7 862.2L249.6 862.2L250.5 862.2L251.4 862.2L252.3 862.2L253.2 862.2L254.2 862.2L255.1 862.2L256 862.2L256.9 862.2L257.8 862.2L258.7 862.2L259.6 862.2L260.6 862.2L261.5 862.2L262.4 862.2L263.3 862.2L264.2 862.2L265.1 862.2L266.1 862.2L267 862.2L267.9 862.2L268.8 862.2L269.7 862.2L270.6 862.2L271.6 862.2L272.5 862.2L273.4 862.2L274.3 862.2L275.2 862.2L276.1 862.2L277.1 862.2L278 862.2L278.9 862.2L279.8 862.2L280.7 862.2L281.6 862.2L282.6 862.2L283.5 862.2L284.4 862.2L285.3 862.2L286.2 862.2L287.1 862.2L288.1 862.2L289 862.2L289.9 862.2L290.8 862.2L291.7 862.2L292.6 862.2L293.6 862.2L294.5 862.2L295.4 862.2L296.3 862.2L297.2 862.2L298.1 862.2L299.1 862.2L300 862.2L300.9 862.2L301.8 862.2L302.7 862.2L303.6 862.2L304.6 862.2L305.5 862.2L306.4 862.2L307.3 862.2L308.2 862.2L309.1 862.2L310.1 862.2L311 862.2L311.9 862.2L311.9 862.2Z"/></clipPath><mask id="m2C1a" maskUnits="userSpaceOnUse" x="36.9" y="513.3" width="275" height="393.3"><rect x="36.9" y="513.3" width="275" height="393.3" fill="#fff"/><path d="M150 852L150 912L260 802L260 742Z" fill="#000" stroke="#000" stroke-width="1.6"/></mask><mask id="m2C1b" maskUnits="userSpaceOnUse" x="36.9" y="513.3" width="275" height="393.3"><rect x="36.9" y="513.3" width="275" height="393.3" fill="#000"/><path d="M150 852L150 912L260 802L260 742Z" fill="#fff" stroke="#000" stroke-width="1.6"/></mask><clipPath id="h2C2"><path d="M36.9 862.2L36.9 862.2L37.8 862.2L38.7 862.2L39.6 862.2L40.6 862.2L41.5 862.2L42.4 862.2L43.3 862.2L44.2 862.2L45.1 862.2L46.1 862.2L47 862.2L47.9 862.2L48.8 862.2L49.7 862.2L50.6 862.2L51.6 862.2L52.5 862.2L53.4 862.2L54.3 862.2L55.2 862.2L56.1 862.2L57.1 862.2L58 862.2L58.9 862.2L59.8 862.2L60.7 862.2L61.6 862.2L62.6 862.2L63.5 862.2L64.4 862.2L65.3 862.2L66.2 862.2L67.2 862.2L68.1 862.2L69 862.2L69.9 862.2L70.8 862.2L71.7 862.2L72.7 862.2L73.6 862.2L74.5 862.2L75.4 862.2L76.3 862.2L77.2 862.2L78.2 862.2L79.1 862.2L80 862.2L80.9 862.2L81.8 862.2L82.7 862.2L83.7 862.2L84.6 862.2L85.5 862.2L86.4 862.2L87.3 862.2L88.2 862.2L89.2 862.2L90.1 862.2L91 862.2L91.9 862.2L92.8 862.2L93.7 862.2L94.7 862.2L95.6 862.2L96.5 862.2L97.4 862.2L98.3 862.2L99.2 862.2L100.2 862.2L101.1 862.2L102 862.2L102.9 862.2L103.8 862.2L104.7 862.2L105.7 862.2L106.6 862.2L107.5 862.2L108.4 862.2L109.3 862.2L110.2 862.2L111.2 862.2L112.1 862.2L113 862.2L113.9 862.2L114.8 862.2L115.7 862.2L116.7 862.2L117.6 862.2L118.5 862.2L119.4 862.2L120.3 862.2L121.2 862.2L122.2 862.2L123.1 862.2L124 862.2L124.9 862.2L125.8 862.2L126.7 862.2L127.7 862.2L128.6 862.2L129.5 862.2L130.4 862.2L131.3 862.2L132.2 862.2L133.2 862.2L134.1 862.2L135 862.2L135.9 862.2L136.8 862.2L137.7 862.2L138.7 862.2L139.6 862.2L140.5 862.2L141.4 862.2L142.3 862.2L143.2 862.2L144.2 862.2L145.1 862.2L146 862.2L146.9 862.2L147.8 862.2L148.7 862.2L149.7 862.2L150.6 862.2L151.5 862.2L152.4 862.2L153.3 862.2L154.2 862.2L155.2 862.2L156.1 862.2L157 862.2L157.9 862.2L158.8 862.2L159.7 862.2L160.7 862.2L161.6 862.2L162.5 862.2L163.4 861.2L164.3 857.4L165.2 853.5L166.2 849.3L167.1 845L168 840.4L168.9 835.6L169.8 830.7L170.7 825.6L171.7 820.2L172.6 814.8L173.5 809.1L174.4 803.3L175.3 797.4L176.2 791.4L177.2 785.3L178.1 779.1L179 772.8L179.9 766.5L180.8 760.2L181.7 753.9L182.7 747.7L183.6 741.5L184.5 735.4L185.4 729.4L186.3 723.6L187.2 717.9L188.2 712.5L189.1 707.3L190 702.3L190.9 697.6L191.8 693.2L192.7 689.2L193.7 685.5L194.6 682.2L195.5 679.2L196.4 676.7L197.3 674.5L198.2 672.8L199.2 671.6L200.1 670.7L201 670.3L201.9 670.4L202.8 670.7L203.7 671.5L204.7 672.6L205.6 674.1L206.5 676.1L207.4 678.4L208.3 681.1L209.2 684.2L210.2 687.6L211.1 691.4L212 695.5L212.9 700L213.8 704.7L214.7 709.8L215.7 715L216.6 720.5L217.5 726.2L218.4 732.1L219.3 738.1L220.2 744.3L221.2 750.5L222.1 756.8L223 763.1L223.9 769.5L224.8 775.8L225.7 782.1L226.7 788.3L227.6 794.5L228.5 800.6L229.4 806.5L230.3 812.3L231.2 818L232.2 823.5L233.1 828.8L234 833.9L234.9 838.9L235.8 843.6L236.7 848.1L237.7 852.4L238.6 856.5L239.5 860.4L240.4 862.2L241.3 862.2L242.2 862.2L243.2 862.2L244.1 862.2L245 862.2L245.9 862.2L246.8 862.2L247.7 862.2L248.7 862.2L249.6 862.2L250.5 862.2L251.4 862.2L252.3 862.2L253.2 862.2L254.2 862.2L255.1 862.2L256 862.2L256.9 862.2L257.8 862.2L258.7 862.2L259.6 862.2L260.6 862.2L261.5 862.2L262.4 862.2L263.3 862.2L264.2 862.2L265.1 862.2L266.1 862.2L267 862.2L267.9 862.2L268.8 862.2L269.7 862.2L270.6 862.2L271.6 862.2L272.5 862.2L273.4 862.2L274.3 862.2L275.2 862.2L276.1 862.2L277.1 862.2L278 862.2L278.9 862.2L279.8 862.2L280.7 862.2L281.6 862.2L282.6 862.2L283.5 862.2L284.4 862.2L285.3 862.2L286.2 862.2L287.1 862.2L288.1 862.2L289 862.2L289.9 862.2L290.8 862.2L291.7 862.2L292.6 862.2L293.6 862.2L294.5 862.2L295.4 862.2L296.3 862.2L297.2 862.2L298.1 862.2L299.1 862.2L300 862.2L300.9 862.2L301.8 862.2L302.7 862.2L303.6 862.2L304.6 862.2L305.5 862.2L306.4 862.2L307.3 862.2L308.2 862.2L309.1 862.2L310.1 862.2L311 862.2L311.9 862.2L311.9 862.2Z"/></clipPath><mask id="m2C2a" maskUnits="userSpaceOnUse" x="36.9" y="513.3" width="275" height="393.3"><rect x="36.9" y="513.3" width="275" height="393.3" fill="#fff"/><path d="M183.6 722L183.3 723.9L183 725.8L182.7 727.8L182.4 729.7L182.1 731.6L181.8 733.5L181.5 735.4L181.2 737.3L180.9 739.2L180.6 741.2L180.3 743.1L180 745L179.8 746.9L179.5 748.8L179.2 750.8L178.9 752.7L178.6 754.6L178.4 756.5L178.1 758.4L177.8 760.3L177.5 762.2L177.2 764.2L177 766.1L176.7 768L186.2 768L186.5 766.1L186.7 764.2L187 762.2L187.3 760.3L187.6 758.4L187.9 756.5L188.1 754.6L188.4 752.7L188.7 750.8L189 748.8L189.3 746.9L189.5 745L189.8 743.1L190.1 741.2L190.4 739.2L190.7 737.3L191 735.4L191.3 733.5L191.6 731.6L191.9 729.7L192.2 727.8L192.5 725.8L192.8 723.9L193.1 722ZM171.9 800L171.5 802.7L171.1 805.3L170.7 808L170.2 810.7L169.8 813.3L169.4 816L168.9 818.7L168.5 821.3L168 824L167.5 826.7L167.1 829.3L166.6 832L166.1 834.7L165.6 837.3L165.1 840L164.5 842.7L164 845.3L163.4 848L162.9 850.7L162.3 853.3L161.7 856L161 858.7L160.4 861.3L159.7 864L169.2 864L169.9 861.3L170.5 858.7L171.2 856L171.8 853.3L172.4 850.7L172.9 848L173.5 845.3L174 842.7L174.6 840L175.1 837.3L175.6 834.7L176.1 832L176.6 829.3L177 826.7L177.5 824L178 821.3L178.4 818.7L178.9 816L179.3 813.3L179.7 810.7L180.2 808L180.6 805.3L181 802.7L181.4 800Z" fill="#000" stroke="#000" stroke-width="1.6"/></mask><mask id="m2C2b" maskUnits="userSpaceOnUse" x="36.9" y="513.3" width="275" height="393.3"><rect x="36.9" y="513.3" width="275" height="393.3" fill="#000"/><path d="M183.6 722L183.3 723.9L183 725.8L182.7 727.8L182.4 729.7L182.1 731.6L181.8 733.5L181.5 735.4L181.2 737.3L180.9 739.2L180.6 741.2L180.3 743.1L180 745L179.8 746.9L179.5 748.8L179.2 750.8L178.9 752.7L178.6 754.6L178.4 756.5L178.1 758.4L177.8 760.3L177.5 762.2L177.2 764.2L177 766.1L176.7 768L186.2 768L186.5 766.1L186.7 764.2L187 762.2L187.3 760.3L187.6 758.4L187.9 756.5L188.1 754.6L188.4 752.7L188.7 750.8L189 748.8L189.3 746.9L189.5 745L189.8 743.1L190.1 741.2L190.4 739.2L190.7 737.3L191 735.4L191.3 733.5L191.6 731.6L191.9 729.7L192.2 727.8L192.5 725.8L192.8 723.9L193.1 722ZM171.9 800L171.5 802.7L171.1 805.3L170.7 808L170.2 810.7L169.8 813.3L169.4 816L168.9 818.7L168.5 821.3L168 824L167.5 826.7L167.1 829.3L166.6 832L166.1 834.7L165.6 837.3L165.1 840L164.5 842.7L164 845.3L163.4 848L162.9 850.7L162.3 853.3L161.7 856L161 858.7L160.4 861.3L159.7 864L169.2 864L169.9 861.3L170.5 858.7L171.2 856L171.8 853.3L172.4 850.7L172.9 848L173.5 845.3L174 842.7L174.6 840L175.1 837.3L175.6 834.7L176.1 832L176.6 829.3L177 826.7L177.5 824L178 821.3L178.4 818.7L178.9 816L179.3 813.3L179.7 810.7L180.2 808L180.6 805.3L181 802.7L181.4 800Z" fill="#fff" stroke="#000" stroke-width="1.6"/></mask><clipPath id="h2D0"><path d="M36.9 906.6L36.9 906.6L37.8 906.6L38.7 906.6L39.6 906.6L40.6 906.6L41.5 906.6L42.4 906.6L43.3 906.6L44.2 906.6L45.1 906.6L46.1 906.6L47 906.6L47.9 906.6L48.8 906.6L49.7 906.6L50.6 906.6L51.6 906.6L52.5 906.6L53.4 906.6L54.3 906.6L55.2 906.6L56.1 906.6L57.1 906.6L58 906.6L58.9 906.6L59.8 906.6L60.7 906.6L61.6 906.6L62.6 906.6L63.5 906.6L64.4 906.6L65.3 906.6L66.2 906.6L67.2 906.6L68.1 906.6L69 906.6L69.9 906.6L70.8 906.6L71.7 906.6L72.7 906.6L73.6 906.6L74.5 906.6L75.4 906.6L76.3 906.6L77.2 906.6L78.2 906.6L79.1 906.6L80 906.6L80.9 906.6L81.8 906.6L82.7 906.6L83.7 906.6L84.6 906.6L85.5 906.6L86.4 906.6L87.3 906.6L88.2 906.6L89.2 906.6L90.1 906.6L91 906.6L91.9 906.6L92.8 906.6L93.7 906.6L94.7 906.6L95.6 906.6L96.5 906.6L97.4 906.6L98.3 906.6L99.2 906.6L100.2 906.6L101.1 906.6L102 906.6L102.9 906.6L103.8 906.6L104.7 906.6L105.7 906.6L106.6 906.6L107.5 906.6L108.4 906.6L109.3 906.6L110.2 906.6L111.2 906.6L112.1 906.6L113 906.6L113.9 906.6L114.8 906.6L115.7 906.6L116.7 906.5L117.6 906.5L118.5 906.5L119.4 906.5L120.3 906.5L121.2 906.5L122.2 906.4L123.1 906.4L124 906.4L124.9 906.3L125.8 906.3L126.7 906.2L127.7 906.2L128.6 906.1L129.5 906L130.4 905.9L131.3 905.8L132.2 905.6L133.2 905.5L134.1 905.3L135 905.1L135.9 904.9L136.8 904.7L137.7 904.4L138.7 904.1L139.6 903.7L140.5 903.3L141.4 902.8L142.3 902.3L143.2 901.8L144.2 901.1L145.1 900.4L146 899.7L146.9 898.8L147.8 897.8L148.7 896.8L149.7 895.7L150.6 894.4L151.5 893L152.4 891.5L153.3 889.9L154.2 888.1L155.2 886.2L156.1 884.1L157 881.9L157.9 879.5L158.8 876.9L159.7 874.1L160.7 871.2L161.6 868L162.5 864.7L163.4 862.2L164.3 862.2L165.2 862.2L166.2 862.2L167.1 862.2L168 862.2L168.9 862.2L169.8 862.2L170.7 862.2L171.7 862.2L172.6 862.2L173.5 862.2L174.4 862.2L175.3 862.2L176.2 862.2L177.2 862.2L178.1 862.2L179 862.2L179.9 862.2L180.8 862.2L181.7 862.2L182.7 862.2L183.6 862.2L184.5 862.2L185.4 862.2L186.3 862.2L187.2 862.2L188.2 862.2L189.1 862.2L190 862.2L190.9 862.2L191.8 862.2L192.7 862.2L193.7 862.2L194.6 862.2L195.5 862.2L196.4 862.2L197.3 862.2L198.2 862.2L199.2 862.2L200.1 862.2L201 862.2L201.9 862.2L202.8 862.2L203.7 862.2L204.7 862.2L205.6 862.2L206.5 862.2L207.4 862.2L208.3 862.2L209.2 862.2L210.2 862.2L211.1 862.2L212 862.2L212.9 862.2L213.8 862.2L214.7 862.2L215.7 862.2L216.6 862.2L217.5 862.2L218.4 862.2L219.3 862.2L220.2 862.2L221.2 862.2L222.1 862.2L223 862.2L223.9 862.2L224.8 862.2L225.7 862.2L226.7 862.2L227.6 862.2L228.5 862.2L229.4 862.2L230.3 862.2L231.2 862.2L232.2 862.2L233.1 862.2L234 862.2L234.9 862.2L235.8 862.2L236.7 862.2L237.7 862.2L238.6 862.2L239.5 862.2L240.4 864.1L241.3 867.6L242.2 870.9L243.2 873.9L244.1 876.8L245 879.5L245.9 882L246.8 884.3L247.7 886.4L248.7 888.4L249.6 890.2L250.5 891.9L251.4 893.4L252.3 894.8L253.2 896.1L254.2 897.2L255.1 898.3L256 899.2L256.9 900.1L257.8 900.8L258.7 901.5L259.6 902.1L260.6 902.7L261.5 903.2L262.4 903.6L263.3 904L264.2 904.3L265.1 904.6L266.1 904.9L267 905.1L267.9 905.3L268.8 905.5L269.7 905.7L270.6 905.8L271.6 905.9L272.5 906L273.4 906.1L274.3 906.2L275.2 906.2L276.1 906.3L277.1 906.4L278 906.4L278.9 906.4L279.8 906.5L280.7 906.5L281.6 906.5L282.6 906.5L283.5 906.5L284.4 906.5L285.3 906.6L286.2 906.6L287.1 906.6L288.1 906.6L289 906.6L289.9 906.6L290.8 906.6L291.7 906.6L292.6 906.6L293.6 906.6L294.5 906.6L295.4 906.6L296.3 906.6L297.2 906.6L298.1 906.6L299.1 906.6L300 906.6L300.9 906.6L301.8 906.6L302.7 906.6L303.6 906.6L304.6 906.6L305.5 906.6L306.4 906.6L307.3 906.6L308.2 906.6L309.1 906.6L310.1 906.6L311 906.6L311.9 906.6L311.9 906.6Z"/></clipPath><mask id="m2D0a" maskUnits="userSpaceOnUse" x="36.9" y="513.3" width="275" height="393.3"><rect x="36.9" y="513.3" width="275" height="393.3" fill="#fff"/><path d="M174.8 871L191 887.7L207.7 904" stroke="#000" stroke-width="2.6" fill="none"/><path d="M211.8 863L224 879.5L238.4 895.9L244.6 904" stroke="#000" stroke-width="2.6" fill="none"/></mask><clipPath id="fc2"><rect x="36.9" y="513.3" width="275" height="394.5"/></clipPath><clipPath id="h3A0"><path d="M385.2 842.2L385.2 842.2L386.1 842.2L387 842.2L388 842.2L388.9 842.2L389.8 842.2L390.7 842.2L391.6 842.2L392.5 842.2L393.5 842.2L394.4 842.2L395.3 842.2L396.2 842.2L397.1 842.2L398.1 842.2L399 842.2L399.9 842.2L400.8 842.2L401.7 842.2L402.7 842.2L403.6 842.2L404.5 842.2L405.4 842.2L406.3 842.2L407.2 842.2L408.2 842.2L409.1 842.2L410 842.2L410.9 842.2L411.8 842.2L412.8 842.2L413.7 842.2L414.6 842.2L415.5 842.2L416.4 842.2L417.4 842.2L418.3 842.2L419.2 842.2L420.1 842.2L421 842.2L421.9 842.2L422.9 842.2L423.8 842.2L424.7 842.2L425.6 842.2L426.5 842.2L427.5 842.2L428.4 842.2L429.3 842.2L430.2 842.2L431.1 842.2L432.1 842.2L433 842.2L433.9 842.2L434.8 842.2L435.7 842.2L436.6 842.2L437.6 842.2L438.5 842.2L439.4 842.2L440.3 842.2L441.2 842.2L442.2 842.2L443.1 842.2L444 842.2L444.9 842.2L445.8 842.2L446.8 842.2L447.7 840L448.6 836.3L449.5 832.5L450.4 828.6L451.3 824.5L452.3 820.3L453.2 816L454.1 811.6L455 807L455.9 802.3L456.9 797.5L457.8 792.6L458.7 787.5L459.6 782.4L460.5 777.1L461.4 771.8L462.4 766.3L463.3 760.8L464.2 755.2L465.1 749.5L466 743.7L467 737.9L467.9 732L468.8 726.1L469.7 720.2L470.6 714.2L471.6 708.2L472.5 702.3L473.4 696.3L474.3 690.3L475.2 684.4L476.1 678.5L477.1 672.7L478 666.9L478.9 661.2L479.8 655.6L480.7 650.1L481.7 644.6L482.6 639.3L483.5 634.2L484.4 629.2L485.3 624.3L486.3 619.6L487.2 615L488.1 610.7L489 606.5L489.9 602.5L490.8 598.8L491.8 595.2L492.7 591.9L493.6 588.9L494.5 586L495.4 583.4L496.4 581.1L497.3 579L498.2 577.2L499.1 575.6L500 574.3L501 573.2L501.9 572.5L502.8 571.9L503.7 571.7L504.6 571.7L505.5 572L506.5 572.7L507.4 573.7L508.3 575.1L509.2 576.7L510.1 578.6L511.1 580.8L512 583.3L512.9 586L513.8 589L514.7 592.2L515.7 595.6L516.6 599.3L517.5 603.2L518.4 607.2L519.3 611.5L520.2 616L521.2 620.6L522.1 625.3L523 630.2L523.9 635.3L524.8 640.5L525.8 645.7L526.7 651.1L527.6 656.6L528.5 662.1L529.4 667.7L530.3 673.4L531.3 679.1L532.2 684.8L533.1 690.6L534 696.4L534.9 702.1L535.9 707.9L536.8 713.7L537.7 719.4L538.6 725.1L539.5 730.8L540.5 736.4L541.4 742L542.3 747.5L543.2 752.9L544.1 758.3L545 763.6L546 768.8L546.9 773.9L547.8 779L548.7 783.9L549.6 788.7L550.6 793.5L551.5 798.1L552.4 802.6L553.3 807L554.2 811.3L555.2 815.5L556.1 819.5L557 823.5L557.9 827.3L558.8 831L559.7 834.6L560.7 838L561.6 841.4L562.5 842.2L563.4 842.2L564.3 842.2L565.3 842.2L566.2 842.2L567.1 842.2L568 842.2L568.9 842.2L569.9 842.2L570.8 842.2L571.7 842.2L572.6 842.2L573.5 842.2L574.4 842.2L575.4 842.2L576.3 842.2L577.2 842.2L578.1 842.2L579 842.2L580 842.2L580.9 842.2L581.8 842.2L582.7 842.2L583.6 842.2L584.6 842.2L585.5 842.2L586.4 842.2L587.3 842.2L588.2 842.2L589.1 842.2L590.1 842.2L591 842.2L591.9 842.2L592.8 842.2L593.7 842.2L594.7 842.2L595.6 842.2L596.5 842.2L597.4 842.2L598.3 842.2L599.2 842.2L600.2 842.2L601.1 842.2L602 842.2L602.9 842.2L603.8 842.2L604.8 842.2L605.7 842.2L606.6 842.2L607.5 842.2L608.4 842.2L609.4 842.2L610.3 842.2L611.2 842.2L612.1 842.2L613 842.2L613.9 842.2L614.9 842.2L615.8 842.2L616.7 842.2L617.6 842.2L618.5 842.2L619.5 842.2L620.4 842.2L621.3 842.2L622.2 842.2L623.1 842.2L624.1 842.2L625 842.2L625.9 842.2L626.8 842.2L627.7 842.2L628.6 842.2L629.6 842.2L630.5 842.2L631.4 842.2L632.3 842.2L633.2 842.2L634.2 842.2L635.1 842.2L636 842.2L636.9 842.2L637.8 842.2L638.8 842.2L639.7 842.2L640.6 842.2L641.5 842.2L642.4 842.2L643.3 842.2L644.3 842.2L645.2 842.2L646.1 842.2L647 842.2L647.9 842.2L648.9 842.2L649.8 842.2L650.7 842.2L651.6 842.2L652.5 842.2L653.5 842.2L654.4 842.2L655.3 842.2L656.2 842.2L657.1 842.2L658 842.2L659 842.2L659.9 842.2L660.8 842.2L660.8 842.2Z"/></clipPath><mask id="m3A0a" maskUnits="userSpaceOnUse" x="385.2" y="514" width="275.6" height="393.8"><rect x="385.2" y="514" width="275.6" height="393.8" fill="#fff"/><path d="M501.3 570L493.2 581.5L489.4 592.9L486.5 604.4L484 615.8L481.8 627.3L479.7 638.8L477.7 650.2L475.8 661.7L474 673.1L472.2 684.6L470.4 696L468.7 707.5L466.9 719L465.1 730.4L463.3 741.9L461.5 753.3L459.6 764.8L457.7 776.2L455.7 787.7L453.5 799.2L451.3 810.6L448.9 822.1L446.3 833.5L443.4 845L458.4 845L461.3 833.5L463.9 822.1L466.3 810.6L468.5 799.2L470.7 787.7L472.7 776.2L474.6 764.8L476.5 753.3L478.3 741.9L480.1 730.4L481.9 719L483.7 707.5L485.4 696L487.2 684.6L489 673.1L490.8 661.7L492.7 650.2L494.7 638.8L496.8 627.3L499 615.8L501.5 604.4L504.4 592.9L508.2 581.5L516.3 570ZM507.3 570L514.3 581.5L517.9 592.9L520.8 604.4L523.2 615.8L525.5 627.3L527.5 638.8L529.5 650.2L531.4 661.7L533.3 673.1L535.1 684.6L537 696L538.8 707.5L540.6 719L542.5 730.4L544.4 741.9L546.3 753.3L548.3 764.8L550.3 776.2L552.4 787.7L554.7 799.2L557.1 810.6L559.7 822.1L562.5 833.5L565.6 845L555.6 845L552.5 833.5L549.7 822.1L547.1 810.6L544.7 799.2L542.4 787.7L540.3 776.2L538.3 764.8L536.3 753.3L534.4 741.9L532.5 730.4L530.6 719L528.8 707.5L527 696L525.1 684.6L523.3 673.1L521.4 661.7L519.5 650.2L517.5 638.8L515.5 627.3L513.2 615.8L510.8 604.4L507.9 592.9L504.3 581.5L497.3 570Z" fill="#000" stroke="#000" stroke-width="1.6"/></mask><mask id="m3A0b" maskUnits="userSpaceOnUse" x="385.2" y="514" width="275.6" height="393.8"><rect x="385.2" y="514" width="275.6" height="393.8" fill="#000"/><path d="M501.3 570L493.2 581.5L489.4 592.9L486.5 604.4L484 615.8L481.8 627.3L479.7 638.8L477.7 650.2L475.8 661.7L474 673.1L472.2 684.6L470.4 696L468.7 707.5L466.9 719L465.1 730.4L463.3 741.9L461.5 753.3L459.6 764.8L457.7 776.2L455.7 787.7L453.5 799.2L451.3 810.6L448.9 822.1L446.3 833.5L443.4 845L458.4 845L461.3 833.5L463.9 822.1L466.3 810.6L468.5 799.2L470.7 787.7L472.7 776.2L474.6 764.8L476.5 753.3L478.3 741.9L480.1 730.4L481.9 719L483.7 707.5L485.4 696L487.2 684.6L489 673.1L490.8 661.7L492.7 650.2L494.7 638.8L496.8 627.3L499 615.8L501.5 604.4L504.4 592.9L508.2 581.5L516.3 570ZM507.3 570L514.3 581.5L517.9 592.9L520.8 604.4L523.2 615.8L525.5 627.3L527.5 638.8L529.5 650.2L531.4 661.7L533.3 673.1L535.1 684.6L537 696L538.8 707.5L540.6 719L542.5 730.4L544.4 741.9L546.3 753.3L548.3 764.8L550.3 776.2L552.4 787.7L554.7 799.2L557.1 810.6L559.7 822.1L562.5 833.5L565.6 845L555.6 845L552.5 833.5L549.7 822.1L547.1 810.6L544.7 799.2L542.4 787.7L540.3 776.2L538.3 764.8L536.3 753.3L534.4 741.9L532.5 730.4L530.6 719L528.8 707.5L527 696L525.1 684.6L523.3 673.1L521.4 661.7L519.5 650.2L517.5 638.8L515.5 627.3L513.2 615.8L510.8 604.4L507.9 592.9L504.3 581.5L497.3 570Z" fill="#fff" stroke="#000" stroke-width="1.6"/></mask><clipPath id="h3B0"><path d="M385.2 907.8L385.2 907.6L386.1 907.6L387 907.5L388 907.5L388.9 907.5L389.8 907.4L390.7 907.4L391.6 907.3L392.5 907.3L393.5 907.2L394.4 907.1L395.3 907.1L396.2 907L397.1 906.9L398.1 906.8L399 906.7L399.9 906.6L400.8 906.4L401.7 906.3L402.7 906.1L403.6 905.9L404.5 905.8L405.4 905.6L406.3 905.3L407.2 905.1L408.2 904.8L409.1 904.5L410 904.2L410.9 903.9L411.8 903.5L412.8 903.1L413.7 902.7L414.6 902.2L415.5 901.8L416.4 901.2L417.4 900.6L418.3 900L419.2 899.4L420.1 898.6L421 897.9L421.9 897.1L422.9 896.2L423.8 895.3L424.7 894.3L425.6 893.2L426.5 892.1L427.5 890.9L428.4 889.6L429.3 888.3L430.2 886.8L431.1 885.3L432.1 883.7L433 882L433.9 880.2L434.8 878.3L435.7 876.3L436.6 874.2L437.6 872L438.5 869.7L439.4 867.3L440.3 864.7L441.2 862.1L442.2 859.3L443.1 856.4L444 853.4L444.9 850.2L445.8 846.9L446.8 843.5L447.7 842.2L448.6 842.2L449.5 842.2L450.4 842.2L451.3 842.2L452.3 842.2L453.2 842.2L454.1 842.2L455 842.2L455.9 842.2L456.9 842.2L457.8 842.2L458.7 842.2L459.6 842.2L460.5 842.2L461.4 842.2L462.4 842.2L463.3 842.2L464.2 842.2L465.1 842.2L466 842.2L467 842.2L467.9 842.2L468.8 842.2L469.7 842.2L470.6 842.2L471.6 842.2L472.5 842.2L473.4 842.2L474.3 842.2L475.2 842.2L476.1 842.2L477.1 842.2L478 842.2L478.9 842.2L479.8 842.2L480.7 842.2L481.7 842.2L482.6 842.2L483.5 842.2L484.4 842.2L485.3 842.2L486.3 842.2L487.2 842.2L488.1 842.2L489 842.2L489.9 842.2L490.8 842.2L491.8 842.2L492.7 842.2L493.6 842.2L494.5 842.2L495.4 842.2L496.4 842.2L497.3 842.2L498.2 842.2L499.1 842.2L500 842.2L501 842.2L501.9 842.2L502.8 842.2L503.7 842.2L504.6 842.2L505.5 842.2L506.5 842.2L507.4 842.2L508.3 842.2L509.2 842.2L510.1 842.2L511.1 842.2L512 842.2L512.9 842.2L513.8 842.2L514.7 842.2L515.7 842.2L516.6 842.2L517.5 842.2L518.4 842.2L519.3 842.2L520.2 842.2L521.2 842.2L522.1 842.2L523 842.2L523.9 842.2L524.8 842.2L525.8 842.2L526.7 842.2L527.6 842.2L528.5 842.2L529.4 842.2L530.3 842.2L531.3 842.2L532.2 842.2L533.1 842.2L534 842.2L534.9 842.2L535.9 842.2L536.8 842.2L537.7 842.2L538.6 842.2L539.5 842.2L540.5 842.2L541.4 842.2L542.3 842.2L543.2 842.2L544.1 842.2L545 842.2L546 842.2L546.9 842.2L547.8 842.2L548.7 842.2L549.6 842.2L550.6 842.2L551.5 842.2L552.4 842.2L553.3 842.2L554.2 842.2L555.2 842.2L556.1 842.2L557 842.2L557.9 842.2L558.8 842.2L559.7 842.2L560.7 842.2L561.6 842.2L562.5 844.6L563.4 847.8L564.3 850.8L565.3 853.7L566.2 856.5L567.1 859.1L568 861.7L568.9 864.2L569.9 866.6L570.8 868.8L571.7 871L572.6 873.1L573.5 875L574.4 876.9L575.4 878.7L576.3 880.4L577.2 882.1L578.1 883.6L579 885.1L580 886.5L580.9 887.8L581.8 889.1L582.7 890.3L583.6 891.4L584.6 892.5L585.5 893.5L586.4 894.4L587.3 895.3L588.2 896.2L589.1 897L590.1 897.7L591 898.4L591.9 899.1L592.8 899.7L593.7 900.3L594.7 900.8L595.6 901.3L596.5 901.8L597.4 902.2L598.3 902.7L599.2 903L600.2 903.4L601.1 903.7L602 904.1L602.9 904.3L603.8 904.6L604.8 904.9L605.7 905.1L606.6 905.3L607.5 905.5L608.4 905.7L609.4 905.9L610.3 906L611.2 906.2L612.1 906.3L613 906.4L613.9 906.6L614.9 906.7L615.8 906.8L616.7 906.9L617.6 906.9L618.5 907L619.5 907.1L620.4 907.2L621.3 907.2L622.2 907.3L623.1 907.3L624.1 907.4L625 907.4L625.9 907.4L626.8 907.5L627.7 907.5L628.6 907.5L629.6 907.6L630.5 907.6L631.4 907.6L632.3 907.6L633.2 907.6L634.2 907.7L635.1 907.7L636 907.7L636.9 907.7L637.8 907.7L638.8 907.7L639.7 907.7L640.6 907.7L641.5 907.7L642.4 907.7L643.3 907.8L644.3 907.8L645.2 907.8L646.1 907.8L647 907.8L647.9 907.8L648.9 907.8L649.8 907.8L650.7 907.8L651.6 907.8L652.5 907.8L653.5 907.8L654.4 907.8L655.3 907.8L656.2 907.8L657.1 907.8L658 907.8L659 907.8L659.9 907.8L660.8 907.8L660.8 907.8Z"/></clipPath><mask id="m3B0a" maskUnits="userSpaceOnUse" x="385.2" y="514" width="275.6" height="393.8"><rect x="385.2" y="514" width="275.6" height="393.8" fill="#fff"/><path d="M430 883L458.7 888.2L491 894.7L510 901" stroke="#000" stroke-width="5" fill="none"/><path d="M499.5 842L575 842L575 912L510.3 912L508.1 901.1L495.2 895.7L458.7 888.2Z" fill="#000"/></mask><clipPath id="h3C0"><path d="M385.2 879.4L385.2 879.4L386.1 879.4L387 879.4L388 879.4L388.9 879.4L389.8 879.4L390.7 879.4L391.6 879.4L392.5 879.4L393.5 879.4L394.4 879.4L395.3 879.4L396.2 879.4L397.1 879.4L398.1 879.4L399 879.4L399.9 879.4L400.8 879.4L401.7 879.4L402.7 879.4L403.6 879.4L404.5 879.4L405.4 879.4L406.3 879.4L407.2 879.4L408.2 879.4L409.1 879.4L410 879.4L410.9 879.4L411.8 879.4L412.8 879.4L413.7 879.4L414.6 879.4L415.5 879.4L416.4 879.4L417.4 879.4L418.3 879.4L419.2 879.4L420.1 879.4L421 879.4L421.9 879.4L422.9 879.4L423.8 879.4L424.7 879.4L425.6 879.4L426.5 879.4L427.5 879.4L428.4 879.4L429.3 879.4L430.2 879.4L431.1 879.4L432.1 879.4L433 879.4L433.9 879.4L434.8 879.4L435.7 879.4L436.6 879.4L437.6 879.4L438.5 879.4L439.4 879.4L440.3 879.4L441.2 879.4L442.2 879.4L443.1 879.4L444 879.4L444.9 879.4L445.8 879.4L446.8 879.4L447.7 879.4L448.6 879.4L449.5 879.4L450.4 879.4L451.3 879.4L452.3 879.4L453.2 879.4L454.1 879.4L455 879.4L455.9 879.4L456.9 879.4L457.8 879.4L458.7 879.4L459.6 879.4L460.5 879.4L461.4 879.4L462.4 879.4L463.3 879.4L464.2 879.4L465.1 879.4L466 879.4L467 879.4L467.9 879.4L468.8 879.4L469.7 879.4L470.6 879.4L471.6 879.4L472.5 879.4L473.4 879.4L474.3 879.4L475.2 879.4L476.1 879.4L477.1 879.4L478 879.4L478.9 879.4L479.8 879.4L480.7 879.4L481.7 879.4L482.6 879.4L483.5 879.4L484.4 879.4L485.3 879.4L486.3 879.4L487.2 879.4L488.1 879.4L489 879.4L489.9 879.4L490.8 879.4L491.8 879.4L492.7 879.4L493.6 879.4L494.5 879.4L495.4 879.4L496.4 879.4L497.3 879.4L498.2 879.4L499.1 879.4L500 879.4L501 879.4L501.9 879.4L502.8 879.4L503.7 879.4L504.6 879.4L505.5 879.4L506.5 879.4L507.4 879.4L508.3 879.4L509.2 879.4L510.1 879.4L511.1 879.4L512 879.4L512.9 879.4L513.8 879.4L514.7 879.4L515.7 879.4L516.6 879.4L517.5 879.4L518.4 879.4L519.3 879.4L520.2 879.4L521.2 879.4L522.1 879.4L523 879.4L523.9 879.4L524.8 878.7L525.8 875.9L526.7 872.9L527.6 869.8L528.5 866.5L529.4 862.9L530.3 859.3L531.3 855.4L532.2 851.3L533.1 847.1L534 842.8L534.9 838.3L535.9 833.7L536.8 828.9L537.7 824.1L538.6 819.2L539.5 814.2L540.5 809.2L541.4 804.2L542.3 799.2L543.2 794.3L544.1 789.4L545 784.6L546 780L546.9 775.5L547.8 771.2L548.7 767.1L549.6 763.2L550.6 759.6L551.5 756.3L552.4 753.4L553.3 750.7L554.2 748.5L555.2 746.6L556.1 745.1L557 744L557.9 743.3L558.8 743.1L559.7 743.2L560.7 743.6L561.6 744.3L562.5 745.4L563.4 746.8L564.3 748.5L565.3 750.6L566.2 753L567.1 755.8L568 758.9L568.9 762.3L569.9 766L570.8 770L571.7 774.2L572.6 778.6L573.5 783.2L574.4 788L575.4 792.9L576.3 798L577.2 803.1L578.1 808.2L579 813.4L580 818.5L580.9 823.7L581.8 828.7L582.7 833.7L583.6 838.6L584.6 843.3L585.5 847.9L586.4 852.4L587.3 856.6L588.2 860.7L589.1 864.6L590.1 868.3L591 871.8L591.9 875.1L592.8 878.2L593.7 879.4L594.7 879.4L595.6 879.4L596.5 879.4L597.4 879.4L598.3 879.4L599.2 879.4L600.2 879.4L601.1 879.4L602 879.4L602.9 879.4L603.8 879.4L604.8 879.4L605.7 879.4L606.6 879.4L607.5 879.4L608.4 879.4L609.4 879.4L610.3 879.4L611.2 879.4L612.1 879.4L613 879.4L613.9 879.4L614.9 879.4L615.8 879.4L616.7 879.4L617.6 879.4L618.5 879.4L619.5 879.4L620.4 879.4L621.3 879.4L622.2 879.4L623.1 879.4L624.1 879.4L625 879.4L625.9 879.4L626.8 879.4L627.7 879.4L628.6 879.4L629.6 879.4L630.5 879.4L631.4 879.4L632.3 879.4L633.2 879.4L634.2 879.4L635.1 879.4L636 879.4L636.9 879.4L637.8 879.4L638.8 879.4L639.7 879.4L640.6 879.4L641.5 879.4L642.4 879.4L643.3 879.4L644.3 879.4L645.2 879.4L646.1 879.4L647 879.4L647.9 879.4L648.9 879.4L649.8 879.4L650.7 879.4L651.6 879.4L652.5 879.4L653.5 879.4L654.4 879.4L655.3 879.4L656.2 879.4L657.1 879.4L658 879.4L659 879.4L659.9 879.4L660.8 879.4L660.8 879.4Z"/></clipPath><mask id="m3C0a" maskUnits="userSpaceOnUse" x="385.2" y="514" width="275.6" height="393.8"><rect x="385.2" y="514" width="275.6" height="393.8" fill="#fff"/><path d="M555.8 742L551.5 747.8L549.3 753.6L547.6 759.4L546.2 765.2L544.9 771L543.6 776.8L542.5 782.5L541.3 788.3L540.2 794.1L539.2 799.9L538.1 805.7L537 811.5L536 817.3L534.9 823.1L533.8 828.9L532.7 834.7L531.5 840.5L530.3 846.2L529 852L527.7 857.8L526.3 863.6L524.7 869.4L523 875.2L521 881L533 881L535 875.2L536.7 869.4L538.3 863.6L539.7 857.8L541 852L542.3 846.2L543.5 840.5L544.7 834.7L545.8 828.9L546.9 823.1L548 817.3L549 811.5L550.1 805.7L551.2 799.9L552.2 794.1L553.3 788.3L554.5 782.5L555.6 776.8L556.9 771L558.2 765.2L559.6 759.4L561.3 753.6L563.5 747.8L567.8 742ZM561.8 742L567 747.8L569.4 753.6L571.1 759.4L572.6 765.2L574 771L575.2 776.8L576.4 782.5L577.5 788.3L578.6 794.1L579.6 799.9L580.7 805.7L581.7 811.5L582.7 817.3L583.8 823.1L584.8 828.9L585.9 834.7L587 840.5L588.1 846.2L589.3 852L590.6 857.8L591.9 863.6L593.3 869.4L594.9 875.2L596.7 881L588.7 881L586.9 875.2L585.3 869.4L583.9 863.6L582.6 857.8L581.3 852L580.1 846.2L579 840.5L577.9 834.7L576.8 828.9L575.8 823.1L574.7 817.3L573.7 811.5L572.7 805.7L571.6 799.9L570.6 794.1L569.5 788.3L568.4 782.5L567.2 776.8L566 771L564.6 765.2L563.1 759.4L561.4 753.6L559 747.8L553.8 742Z" fill="#000" stroke="#000" stroke-width="1.6"/></mask><mask id="m3C0b" maskUnits="userSpaceOnUse" x="385.2" y="514" width="275.6" height="393.8"><rect x="385.2" y="514" width="275.6" height="393.8" fill="#000"/><path d="M555.8 742L551.5 747.8L549.3 753.6L547.6 759.4L546.2 765.2L544.9 771L543.6 776.8L542.5 782.5L541.3 788.3L540.2 794.1L539.2 799.9L538.1 805.7L537 811.5L536 817.3L534.9 823.1L533.8 828.9L532.7 834.7L531.5 840.5L530.3 846.2L529 852L527.7 857.8L526.3 863.6L524.7 869.4L523 875.2L521 881L533 881L535 875.2L536.7 869.4L538.3 863.6L539.7 857.8L541 852L542.3 846.2L543.5 840.5L544.7 834.7L545.8 828.9L546.9 823.1L548 817.3L549 811.5L550.1 805.7L551.2 799.9L552.2 794.1L553.3 788.3L554.5 782.5L555.6 776.8L556.9 771L558.2 765.2L559.6 759.4L561.3 753.6L563.5 747.8L567.8 742ZM561.8 742L567 747.8L569.4 753.6L571.1 759.4L572.6 765.2L574 771L575.2 776.8L576.4 782.5L577.5 788.3L578.6 794.1L579.6 799.9L580.7 805.7L581.7 811.5L582.7 817.3L583.8 823.1L584.8 828.9L585.9 834.7L587 840.5L588.1 846.2L589.3 852L590.6 857.8L591.9 863.6L593.3 869.4L594.9 875.2L596.7 881L588.7 881L586.9 875.2L585.3 869.4L583.9 863.6L582.6 857.8L581.3 852L580.1 846.2L579 840.5L577.9 834.7L576.8 828.9L575.8 823.1L574.7 817.3L573.7 811.5L572.7 805.7L571.6 799.9L570.6 794.1L569.5 788.3L568.4 782.5L567.2 776.8L566 771L564.6 765.2L563.1 759.4L561.4 753.6L559 747.8L553.8 742Z" fill="#fff" stroke="#000" stroke-width="1.6"/></mask><clipPath id="h3D0"><path d="M385.2 907.8L385.2 907.8L386.1 907.8L387 907.8L388 907.8L388.9 907.8L389.8 907.8L390.7 907.8L391.6 907.8L392.5 907.8L393.5 907.8L394.4 907.8L395.3 907.8L396.2 907.8L397.1 907.8L398.1 907.8L399 907.8L399.9 907.8L400.8 907.8L401.7 907.8L402.7 907.8L403.6 907.8L404.5 907.8L405.4 907.8L406.3 907.8L407.2 907.8L408.2 907.8L409.1 907.8L410 907.8L410.9 907.8L411.8 907.8L412.8 907.8L413.7 907.8L414.6 907.8L415.5 907.8L416.4 907.8L417.4 907.8L418.3 907.8L419.2 907.8L420.1 907.8L421 907.8L421.9 907.8L422.9 907.8L423.8 907.8L424.7 907.8L425.6 907.8L426.5 907.8L427.5 907.8L428.4 907.8L429.3 907.8L430.2 907.8L431.1 907.8L432.1 907.8L433 907.8L433.9 907.8L434.8 907.8L435.7 907.8L436.6 907.8L437.6 907.8L438.5 907.8L439.4 907.8L440.3 907.8L441.2 907.8L442.2 907.8L443.1 907.8L444 907.8L444.9 907.8L445.8 907.8L446.8 907.8L447.7 907.8L448.6 907.8L449.5 907.8L450.4 907.8L451.3 907.8L452.3 907.8L453.2 907.8L454.1 907.8L455 907.8L455.9 907.8L456.9 907.8L457.8 907.8L458.7 907.8L459.6 907.8L460.5 907.8L461.4 907.8L462.4 907.8L463.3 907.8L464.2 907.8L465.1 907.8L466 907.8L467 907.8L467.9 907.8L468.8 907.8L469.7 907.8L470.6 907.8L471.6 907.8L472.5 907.8L473.4 907.8L474.3 907.8L475.2 907.8L476.1 907.8L477.1 907.8L478 907.8L478.9 907.8L479.8 907.8L480.7 907.8L481.7 907.8L482.6 907.8L483.5 907.8L484.4 907.8L485.3 907.7L486.3 907.7L487.2 907.7L488.1 907.7L489 907.7L489.9 907.7L490.8 907.6L491.8 907.6L492.7 907.5L493.6 907.5L494.5 907.4L495.4 907.4L496.4 907.3L497.3 907.2L498.2 907.1L499.1 907L500 906.8L501 906.7L501.9 906.5L502.8 906.2L503.7 906L504.6 905.7L505.5 905.4L506.5 905L507.4 904.6L508.3 904.1L509.2 903.6L510.1 903L511.1 902.3L512 901.5L512.9 900.7L513.8 899.8L514.7 898.7L515.7 897.6L516.6 896.4L517.5 895L518.4 893.5L519.3 891.8L520.2 890L521.2 888.1L522.1 886L523 883.7L523.9 881.3L524.8 879.4L525.8 879.4L526.7 879.4L527.6 879.4L528.5 879.4L529.4 879.4L530.3 879.4L531.3 879.4L532.2 879.4L533.1 879.4L534 879.4L534.9 879.4L535.9 879.4L536.8 879.4L537.7 879.4L538.6 879.4L539.5 879.4L540.5 879.4L541.4 879.4L542.3 879.4L543.2 879.4L544.1 879.4L545 879.4L546 879.4L546.9 879.4L547.8 879.4L548.7 879.4L549.6 879.4L550.6 879.4L551.5 879.4L552.4 879.4L553.3 879.4L554.2 879.4L555.2 879.4L556.1 879.4L557 879.4L557.9 879.4L558.8 879.4L559.7 879.4L560.7 879.4L561.6 879.4L562.5 879.4L563.4 879.4L564.3 879.4L565.3 879.4L566.2 879.4L567.1 879.4L568 879.4L568.9 879.4L569.9 879.4L570.8 879.4L571.7 879.4L572.6 879.4L573.5 879.4L574.4 879.4L575.4 879.4L576.3 879.4L577.2 879.4L578.1 879.4L579 879.4L580 879.4L580.9 879.4L581.8 879.4L582.7 879.4L583.6 879.4L584.6 879.4L585.5 879.4L586.4 879.4L587.3 879.4L588.2 879.4L589.1 879.4L590.1 879.4L591 879.4L591.9 879.4L592.8 879.4L593.7 881L594.7 883.7L595.6 886.2L596.5 888.5L597.4 890.6L598.3 892.5L599.2 894.2L600.2 895.8L601.1 897.3L602 898.6L602.9 899.7L603.8 900.8L604.8 901.7L605.7 902.5L606.6 903.2L607.5 903.9L608.4 904.4L609.4 904.9L610.3 905.4L611.2 905.7L612.1 906L613 906.3L613.9 906.6L614.9 906.8L615.8 906.9L616.7 907.1L617.6 907.2L618.5 907.3L619.5 907.4L620.4 907.5L621.3 907.5L622.2 907.6L623.1 907.6L624.1 907.7L625 907.7L625.9 907.7L626.8 907.7L627.7 907.7L628.6 907.8L629.6 907.8L630.5 907.8L631.4 907.8L632.3 907.8L633.2 907.8L634.2 907.8L635.1 907.8L636 907.8L636.9 907.8L637.8 907.8L638.8 907.8L639.7 907.8L640.6 907.8L641.5 907.8L642.4 907.8L643.3 907.8L644.3 907.8L645.2 907.8L646.1 907.8L647 907.8L647.9 907.8L648.9 907.8L649.8 907.8L650.7 907.8L651.6 907.8L652.5 907.8L653.5 907.8L654.4 907.8L655.3 907.8L656.2 907.8L657.1 907.8L658 907.8L659 907.8L659.9 907.8L660.8 907.8L660.8 907.8Z"/></clipPath><clipPath id="fc3"><rect x="385.2" y="514" width="275.6" height="395"/></clipPath><clipPath id="h4A0"><path d="M727.8 839.8L727.8 839.8L728.7 839.8L729.6 839.8L730.5 839.8L731.4 839.8L732.4 839.8L733.3 839.8L734.2 839.8L735.1 839.8L736 839.8L736.9 839.8L737.8 839.8L738.7 839.8L739.6 839.8L740.6 839.8L741.5 839.8L742.4 839.8L743.3 839.8L744.2 839.8L745.1 839.8L746 839.8L746.9 839.8L747.8 839.8L748.8 839.8L749.7 839.8L750.6 839.8L751.5 839.8L752.4 839.8L753.3 839.8L754.2 839.8L755.1 839.8L756.1 839.8L757 839.8L757.9 839.8L758.8 839.8L759.7 839.8L760.6 839.8L761.5 839.8L762.4 839.8L763.3 839.8L764.3 839.8L765.2 839.8L766.1 839.8L767 839.8L767.9 839.8L768.8 839.8L769.7 839.8L770.6 839.8L771.5 839.8L772.5 839.8L773.4 839.8L774.3 839.8L775.2 839.8L776.1 839.8L777 839.8L777.9 839.8L778.8 839.8L779.7 839.8L780.7 839.8L781.6 839.8L782.5 839.8L783.4 839.8L784.3 839.8L785.2 839.8L786.1 839.8L787 839.8L787.9 839.8L788.9 839.8L789.8 839.8L790.7 839.8L791.6 839.8L792.5 839.8L793.4 839.8L794.3 839.8L795.2 839.8L796.1 839.8L797.1 839.8L798 839.8L798.9 839.8L799.8 839.8L800.7 839.8L801.6 839.8L802.5 839.6L803.4 835.9L804.4 832.1L805.3 828.1L806.2 824L807.1 819.8L808 815.4L808.9 810.9L809.8 806.3L810.7 801.5L811.6 796.6L812.6 791.6L813.5 786.5L814.4 781.2L815.3 775.9L816.2 770.4L817.1 764.8L818 759.1L818.9 753.4L819.8 747.5L820.8 741.6L821.7 735.6L822.6 729.5L823.5 723.4L824.4 717.3L825.3 711.1L826.2 705L827.1 698.8L828 692.6L829 686.4L829.9 680.3L830.8 674.2L831.7 668.1L832.6 662.1L833.5 656.2L834.4 650.4L835.3 644.7L836.2 639.1L837.2 633.6L838.1 628.3L839 623.1L839.9 618.1L840.8 613.3L841.7 608.6L842.6 604.2L843.5 600L844.5 596L845.4 592.3L846.3 588.8L847.2 585.5L848.1 582.6L849 579.8L849.9 577.4L850.8 575.3L851.7 573.5L852.7 571.9L853.6 570.7L854.5 569.8L855.4 569.1L856.3 568.8L857.2 568.9L858.1 569.2L859 569.9L859.9 570.9L860.9 572.2L861.8 573.8L862.7 575.7L863.6 577.8L864.5 580.3L865.4 583L866.3 586L867.2 589.3L868.1 592.8L869.1 596.5L870 600.5L870.9 604.7L871.8 609.1L872.7 613.6L873.6 618.4L874.5 623.4L875.4 628.5L876.3 633.7L877.3 639.1L878.2 644.7L879.1 650.3L880 656L880.9 661.8L881.8 667.7L882.7 673.7L883.6 679.7L884.5 685.7L885.5 691.8L886.4 697.9L887.3 704L888.2 710.1L889.1 716.1L890 722.2L890.9 728.2L891.8 734.1L892.8 740L893.7 745.8L894.6 751.6L895.5 757.3L896.4 762.9L897.3 768.4L898.2 773.8L899.1 779.1L900 784.3L901 789.4L901.9 794.4L902.8 799.3L903.7 804L904.6 808.6L905.5 813.1L906.4 817.4L907.3 821.6L908.2 825.7L909.2 829.7L910.1 833.5L911 837.2L911.9 839.8L912.8 839.8L913.7 839.8L914.6 839.8L915.5 839.8L916.4 839.8L917.4 839.8L918.3 839.8L919.2 839.8L920.1 839.8L921 839.8L921.9 839.8L922.8 839.8L923.7 839.8L924.6 839.8L925.6 839.8L926.5 839.8L927.4 839.8L928.3 839.8L929.2 839.8L930.1 839.8L931 839.8L931.9 839.8L932.9 839.8L933.8 839.8L934.7 839.8L935.6 839.8L936.5 839.8L937.4 839.8L938.3 839.8L939.2 839.8L940.1 839.8L941.1 839.8L942 839.8L942.9 839.8L943.8 839.8L944.7 839.8L945.6 839.8L946.5 839.8L947.4 839.8L948.3 839.8L949.3 839.8L950.2 839.8L951.1 839.8L952 839.8L952.9 839.8L953.8 839.8L954.7 839.8L955.6 839.8L956.5 839.8L957.5 839.8L958.4 839.8L959.3 839.8L960.2 839.8L961.1 839.8L962 839.8L962.9 839.8L963.8 839.8L964.7 839.8L965.7 839.8L966.6 839.8L967.5 839.8L968.4 839.8L969.3 839.8L970.2 839.8L971.1 839.8L972 839.8L972.9 839.8L973.9 839.8L974.8 839.8L975.7 839.8L976.6 839.8L977.5 839.8L978.4 839.8L979.3 839.8L980.2 839.8L981.2 839.8L982.1 839.8L983 839.8L983.9 839.8L984.8 839.8L985.7 839.8L986.6 839.8L987.5 839.8L988.4 839.8L989.4 839.8L990.3 839.8L991.2 839.8L992.1 839.8L993 839.8L993.9 839.8L994.8 839.8L995.7 839.8L996.6 839.8L997.6 839.8L998.5 839.8L999.4 839.8L1000.3 839.8L1001.2 839.8L1001.2 839.8Z"/></clipPath><mask id="m4A0a" maskUnits="userSpaceOnUse" x="727.8" y="514.8" width="273.4" height="391"><rect x="727.8" y="514.8" width="273.4" height="391" fill="#fff"/><path d="M853.7 566L846.9 577.5L843.2 589L840.4 600.5L838.1 612L835.9 623.5L833.9 635L832 646.5L830.2 658L828.5 669.5L826.8 681L825.1 692.5L823.4 704L821.7 715.5L820 727L818.2 738.5L816.5 750L814.6 761.5L812.8 773L810.8 784.5L808.8 796L806.6 807.5L804.3 819L801.7 830.5L798.9 842L813.9 842L816.7 830.5L819.3 819L821.6 807.5L823.8 796L825.8 784.5L827.8 773L829.6 761.5L831.5 750L833.2 738.5L835 727L836.7 715.5L838.4 704L840.1 692.5L841.8 681L843.5 669.5L845.2 658L847 646.5L848.9 635L850.9 623.5L853.1 612L855.4 600.5L858.2 589L861.9 577.5L868.7 566ZM859.7 566L866.5 577.5L870.2 589L873 600.5L875.4 612L877.5 623.5L879.6 635L881.5 646.5L883.3 658L885.1 669.5L886.8 681L888.6 692.5L890.3 704L892 715.5L893.8 727L895.5 738.5L897.3 750L899.2 761.5L901.1 773L903.1 784.5L905.2 796L907.4 807.5L909.8 819L912.4 830.5L915.2 842L905.2 842L902.4 830.5L899.8 819L897.4 807.5L895.2 796L893.1 784.5L891.1 773L889.2 761.5L887.3 750L885.5 738.5L883.8 727L882 715.5L880.3 704L878.6 692.5L876.8 681L875.1 669.5L873.3 658L871.5 646.5L869.6 635L867.5 623.5L865.4 612L863 600.5L860.2 589L856.5 577.5L849.7 566Z" fill="#000" stroke="#000" stroke-width="1.6"/></mask><mask id="m4A0b" maskUnits="userSpaceOnUse" x="727.8" y="514.8" width="273.4" height="391"><rect x="727.8" y="514.8" width="273.4" height="391" fill="#000"/><path d="M853.7 566L846.9 577.5L843.2 589L840.4 600.5L838.1 612L835.9 623.5L833.9 635L832 646.5L830.2 658L828.5 669.5L826.8 681L825.1 692.5L823.4 704L821.7 715.5L820 727L818.2 738.5L816.5 750L814.6 761.5L812.8 773L810.8 784.5L808.8 796L806.6 807.5L804.3 819L801.7 830.5L798.9 842L813.9 842L816.7 830.5L819.3 819L821.6 807.5L823.8 796L825.8 784.5L827.8 773L829.6 761.5L831.5 750L833.2 738.5L835 727L836.7 715.5L838.4 704L840.1 692.5L841.8 681L843.5 669.5L845.2 658L847 646.5L848.9 635L850.9 623.5L853.1 612L855.4 600.5L858.2 589L861.9 577.5L868.7 566ZM859.7 566L866.5 577.5L870.2 589L873 600.5L875.4 612L877.5 623.5L879.6 635L881.5 646.5L883.3 658L885.1 669.5L886.8 681L888.6 692.5L890.3 704L892 715.5L893.8 727L895.5 738.5L897.3 750L899.2 761.5L901.1 773L903.1 784.5L905.2 796L907.4 807.5L909.8 819L912.4 830.5L915.2 842L905.2 842L902.4 830.5L899.8 819L897.4 807.5L895.2 796L893.1 784.5L891.1 773L889.2 761.5L887.3 750L885.5 738.5L883.8 727L882 715.5L880.3 704L878.6 692.5L876.8 681L875.1 669.5L873.3 658L871.5 646.5L869.6 635L867.5 623.5L865.4 612L863 600.5L860.2 589L856.5 577.5L849.7 566Z" fill="#fff" stroke="#000" stroke-width="1.6"/></mask><clipPath id="h4B0"><path d="M727.8 905.8L727.8 905.8L728.7 905.8L729.6 905.8L730.5 905.7L731.4 905.7L732.4 905.7L733.3 905.7L734.2 905.7L735.1 905.7L736 905.7L736.9 905.7L737.8 905.7L738.7 905.6L739.6 905.6L740.6 905.6L741.5 905.6L742.4 905.5L743.3 905.5L744.2 905.5L745.1 905.4L746 905.4L746.9 905.4L747.8 905.3L748.8 905.2L749.7 905.2L750.6 905.1L751.5 905L752.4 905L753.3 904.9L754.2 904.8L755.1 904.7L756.1 904.5L757 904.4L757.9 904.3L758.8 904.1L759.7 903.9L760.6 903.7L761.5 903.5L762.4 903.3L763.3 903L764.3 902.8L765.2 902.5L766.1 902.2L767 901.8L767.9 901.5L768.8 901.1L769.7 900.6L770.6 900.2L771.5 899.6L772.5 899.1L773.4 898.5L774.3 897.9L775.2 897.2L776.1 896.5L777 895.7L777.9 894.9L778.8 894L779.7 893L780.7 892L781.6 890.9L782.5 889.8L783.4 888.5L784.3 887.2L785.2 885.8L786.1 884.4L787 882.8L787.9 881.1L788.9 879.4L789.8 877.5L790.7 875.6L791.6 873.5L792.5 871.4L793.4 869.1L794.3 866.7L795.2 864.2L796.1 861.6L797.1 858.8L798 855.9L798.9 852.9L799.8 849.8L800.7 846.5L801.6 843.1L802.5 839.8L803.4 839.8L804.4 839.8L805.3 839.8L806.2 839.8L807.1 839.8L808 839.8L808.9 839.8L809.8 839.8L810.7 839.8L811.6 839.8L812.6 839.8L813.5 839.8L814.4 839.8L815.3 839.8L816.2 839.8L817.1 839.8L818 839.8L818.9 839.8L819.8 839.8L820.8 839.8L821.7 839.8L822.6 839.8L823.5 839.8L824.4 839.8L825.3 839.8L826.2 839.8L827.1 839.8L828 839.8L829 839.8L829.9 839.8L830.8 839.8L831.7 839.8L832.6 839.8L833.5 839.8L834.4 839.8L835.3 839.8L836.2 839.8L837.2 839.8L838.1 839.8L839 839.8L839.9 839.8L840.8 839.8L841.7 839.8L842.6 839.8L843.5 839.8L844.5 839.8L845.4 839.8L846.3 839.8L847.2 839.8L848.1 839.8L849 839.8L849.9 839.8L850.8 839.8L851.7 839.8L852.7 839.8L853.6 839.8L854.5 839.8L855.4 839.8L856.3 839.8L857.2 839.8L858.1 839.8L859 839.8L859.9 839.8L860.9 839.8L861.8 839.8L862.7 839.8L863.6 839.8L864.5 839.8L865.4 839.8L866.3 839.8L867.2 839.8L868.1 839.8L869.1 839.8L870 839.8L870.9 839.8L871.8 839.8L872.7 839.8L873.6 839.8L874.5 839.8L875.4 839.8L876.3 839.8L877.3 839.8L878.2 839.8L879.1 839.8L880 839.8L880.9 839.8L881.8 839.8L882.7 839.8L883.6 839.8L884.5 839.8L885.5 839.8L886.4 839.8L887.3 839.8L888.2 839.8L889.1 839.8L890 839.8L890.9 839.8L891.8 839.8L892.8 839.8L893.7 839.8L894.6 839.8L895.5 839.8L896.4 839.8L897.3 839.8L898.2 839.8L899.1 839.8L900 839.8L901 839.8L901.9 839.8L902.8 839.8L903.7 839.8L904.6 839.8L905.5 839.8L906.4 839.8L907.3 839.8L908.2 839.8L909.2 839.8L910.1 839.8L911 839.8L911.9 840.7L912.8 844.2L913.7 847.4L914.6 850.6L915.5 853.7L916.4 856.6L917.4 859.4L918.3 862L919.2 864.6L920.1 867L921 869.3L921.9 871.6L922.8 873.7L923.7 875.7L924.6 877.6L925.6 879.4L926.5 881.1L927.4 882.7L928.3 884.3L929.2 885.7L930.1 887.1L931 888.4L931.9 889.6L932.9 890.7L933.8 891.8L934.7 892.8L935.6 893.7L936.5 894.6L937.4 895.5L938.3 896.2L939.2 897L940.1 897.6L941.1 898.3L942 898.9L942.9 899.4L943.8 899.9L944.7 900.4L945.6 900.8L946.5 901.2L947.4 901.6L948.3 902L949.3 902.3L950.2 902.6L951.1 902.9L952 903.1L952.9 903.4L953.8 903.6L954.7 903.8L955.6 904L956.5 904.1L957.5 904.3L958.4 904.4L959.3 904.5L960.2 904.7L961.1 904.8L962 904.9L962.9 905L963.8 905L964.7 905.1L965.7 905.2L966.6 905.2L967.5 905.3L968.4 905.4L969.3 905.4L970.2 905.4L971.1 905.5L972 905.5L972.9 905.5L973.9 905.6L974.8 905.6L975.7 905.6L976.6 905.6L977.5 905.7L978.4 905.7L979.3 905.7L980.2 905.7L981.2 905.7L982.1 905.7L983 905.7L983.9 905.7L984.8 905.7L985.7 905.7L986.6 905.8L987.5 905.8L988.4 905.8L989.4 905.8L990.3 905.8L991.2 905.8L992.1 905.8L993 905.8L993.9 905.8L994.8 905.8L995.7 905.8L996.6 905.8L997.6 905.8L998.5 905.8L999.4 905.8L1000.3 905.8L1001.2 905.8L1001.2 905.8Z"/></clipPath><mask id="m4B0a" maskUnits="userSpaceOnUse" x="727.8" y="514.8" width="273.4" height="391"><rect x="727.8" y="514.8" width="273.4" height="391" fill="#fff"/><path d="M780 883L788.2 884.1L810 888.2L848.3 892.3L892 897.8L935.8 903.2" stroke="#000" stroke-width="3" fill="none"/><path d="M815 889L843 892L843 910L815 910Z" fill="#000"/><path d="M862 894L905 899L905 910L862 910Z" fill="#000"/></mask><clipPath id="h4C0"><path d="M727.8 870.9L727.8 870.9L728.7 870.9L729.6 870.9L730.5 870.9L731.4 870.9L732.4 870.9L733.3 870.9L734.2 870.9L735.1 870.9L736 870.9L736.9 870.9L737.8 870.9L738.7 870.9L739.6 870.9L740.6 870.9L741.5 870.9L742.4 870.9L743.3 870.9L744.2 870.9L745.1 870.9L746 870.9L746.9 870.9L747.8 870.9L748.8 870.9L749.7 870.9L750.6 870.9L751.5 870.9L752.4 870.9L753.3 870.9L754.2 870.9L755.1 870.9L756.1 870.9L757 870.9L757.9 870.9L758.8 870.9L759.7 870.9L760.6 870.9L761.5 870.9L762.4 870.9L763.3 870.9L764.3 870.9L765.2 870.9L766.1 870.9L767 870.9L767.9 870.9L768.8 870.9L769.7 870.9L770.6 870.9L771.5 870.9L772.5 870.9L773.4 870.9L774.3 870.9L775.2 870.9L776.1 870.9L777 870.9L777.9 870.9L778.8 870.9L779.7 870.9L780.7 870.9L781.6 870.9L782.5 870.9L783.4 870.9L784.3 870.9L785.2 870.9L786.1 870.9L787 870.9L787.9 870.9L788.9 870.9L789.8 870.9L790.7 870.9L791.6 870.9L792.5 870.9L793.4 870.9L794.3 870.9L795.2 870.9L796.1 870.9L797.1 870.9L798 870.9L798.9 870.9L799.8 870.9L800.7 870.9L801.6 870.9L802.5 870.9L803.4 870.9L804.4 870.9L805.3 870.9L806.2 870.9L807.1 870.9L808 870.9L808.9 870.9L809.8 870.9L810.7 870.9L811.6 870.9L812.6 870.9L813.5 870.9L814.4 870.9L815.3 870.9L816.2 870.9L817.1 870.9L818 870.9L818.9 870.9L819.8 870.9L820.8 870.9L821.7 870.9L822.6 870.9L823.5 870.9L824.4 870.9L825.3 870.9L826.2 870.9L827.1 870.9L828 870.9L829 870.9L829.9 870.9L830.8 870.9L831.7 870.9L832.6 870.9L833.5 870.9L834.4 870.9L835.3 870.9L836.2 870.9L837.2 870.9L838.1 870.9L839 870.9L839.9 870.9L840.8 870.9L841.7 870.9L842.6 870.9L843.5 870.9L844.5 870.9L845.4 870.9L846.3 870.9L847.2 870.9L848.1 870.9L849 870.9L849.9 870.9L850.8 870.9L851.7 870.9L852.7 870.9L853.6 870.9L854.5 870.9L855.4 870.9L856.3 870.9L857.2 870.9L858.1 870.9L859 870.9L859.9 870.9L860.9 870.9L861.8 870.9L862.7 870.9L863.6 870.9L864.5 870.9L865.4 870.9L866.3 870.9L867.2 870.9L868.1 870.9L869.1 870.9L870 870.9L870.9 870.9L871.8 870.9L872.7 870.9L873.6 870.9L874.5 870.9L875.4 870.9L876.3 870.9L877.3 870.9L878.2 867.7L879.1 863.8L880 859.6L880.9 855.2L881.8 850.5L882.7 845.6L883.6 840.4L884.5 834.9L885.5 829.3L886.4 823.4L887.3 817.3L888.2 811.1L889.1 804.7L890 798.3L890.9 791.7L891.8 785.1L892.8 778.6L893.7 772L894.6 765.6L895.5 759.3L896.4 753.2L897.3 747.3L898.2 741.7L899.1 736.5L900 731.6L901 727.2L901.9 723.2L902.8 719.8L903.7 716.9L904.6 714.6L905.5 713L906.4 712L907.3 711.8L908.2 712L909.2 712.7L910.1 713.8L911 715.5L911.9 717.6L912.8 720.2L913.7 723.3L914.6 726.9L915.5 731L916.4 735.5L917.4 740.5L918.3 745.8L919.2 751.4L920.1 757.3L921 763.5L921.9 769.9L922.8 776.5L923.7 783.2L924.6 789.9L925.6 796.6L926.5 803.4L927.4 810L928.3 816.6L929.2 823L930.1 829.2L931 835.3L931.9 841.1L932.9 846.6L933.8 851.9L934.7 856.9L935.6 861.6L936.5 866L937.4 870.1L938.3 870.9L939.2 870.9L940.1 870.9L941.1 870.9L942 870.9L942.9 870.9L943.8 870.9L944.7 870.9L945.6 870.9L946.5 870.9L947.4 870.9L948.3 870.9L949.3 870.9L950.2 870.9L951.1 870.9L952 870.9L952.9 870.9L953.8 870.9L954.7 870.9L955.6 870.9L956.5 870.9L957.5 870.9L958.4 870.9L959.3 870.9L960.2 870.9L961.1 870.9L962 870.9L962.9 870.9L963.8 870.9L964.7 870.9L965.7 870.9L966.6 870.9L967.5 870.9L968.4 870.9L969.3 870.9L970.2 870.9L971.1 870.9L972 870.9L972.9 870.9L973.9 870.9L974.8 870.9L975.7 870.9L976.6 870.9L977.5 870.9L978.4 870.9L979.3 870.9L980.2 870.9L981.2 870.9L982.1 870.9L983 870.9L983.9 870.9L984.8 870.9L985.7 870.9L986.6 870.9L987.5 870.9L988.4 870.9L989.4 870.9L990.3 870.9L991.2 870.9L992.1 870.9L993 870.9L993.9 870.9L994.8 870.9L995.7 870.9L996.6 870.9L997.6 870.9L998.5 870.9L999.4 870.9L1000.3 870.9L1001.2 870.9L1001.2 870.9Z"/></clipPath><mask id="m4C0a" maskUnits="userSpaceOnUse" x="727.8" y="514.8" width="273.4" height="391"><rect x="727.8" y="514.8" width="273.4" height="391" fill="#fff"/><path d="M904.1 710L900.7 716.8L898.8 723.6L897.3 730.4L896 737.2L894.9 744L893.8 750.8L892.7 757.5L891.8 764.3L890.8 771.1L889.8 777.9L888.9 784.7L888 791.5L887 798.3L886.1 805.1L885.1 811.9L884.1 818.7L883.1 825.5L882 832.2L880.9 839L879.7 845.8L878.4 852.6L877 859.4L875.5 866.2L873.8 873L885.8 873L887.5 866.2L889 859.4L890.4 852.6L891.7 845.8L892.9 839L894 832.2L895.1 825.5L896.1 818.7L897.1 811.9L898.1 805.1L899 798.3L900 791.5L900.9 784.7L901.8 777.9L902.8 771.1L903.8 764.3L904.7 757.5L905.8 750.8L906.9 744L908 737.2L909.3 730.4L910.8 723.6L912.7 716.8L916.1 710ZM910.1 710L914.6 716.8L916.8 723.6L918.4 730.4L919.8 737.2L921 744L922.1 750.8L923.1 757.5L924.1 764.3L925.1 771.1L926 777.9L926.9 784.7L927.9 791.5L928.8 798.3L929.7 805.1L930.6 811.9L931.6 818.7L932.6 825.5L933.6 832.2L934.6 839L935.7 845.8L936.9 852.6L938.2 859.4L939.5 866.2L941.1 873L933.1 873L931.5 866.2L930.2 859.4L928.9 852.6L927.7 845.8L926.6 839L925.6 832.2L924.6 825.5L923.6 818.7L922.6 811.9L921.7 805.1L920.8 798.3L919.9 791.5L918.9 784.7L918 777.9L917.1 771.1L916.1 764.3L915.1 757.5L914.1 750.8L913 744L911.8 737.2L910.4 730.4L908.8 723.6L906.6 716.8L902.1 710Z" fill="#000" stroke="#000" stroke-width="1.6"/></mask><mask id="m4C0b" maskUnits="userSpaceOnUse" x="727.8" y="514.8" width="273.4" height="391"><rect x="727.8" y="514.8" width="273.4" height="391" fill="#000"/><path d="M904.1 710L900.7 716.8L898.8 723.6L897.3 730.4L896 737.2L894.9 744L893.8 750.8L892.7 757.5L891.8 764.3L890.8 771.1L889.8 777.9L888.9 784.7L888 791.5L887 798.3L886.1 805.1L885.1 811.9L884.1 818.7L883.1 825.5L882 832.2L880.9 839L879.7 845.8L878.4 852.6L877 859.4L875.5 866.2L873.8 873L885.8 873L887.5 866.2L889 859.4L890.4 852.6L891.7 845.8L892.9 839L894 832.2L895.1 825.5L896.1 818.7L897.1 811.9L898.1 805.1L899 798.3L900 791.5L900.9 784.7L901.8 777.9L902.8 771.1L903.8 764.3L904.7 757.5L905.8 750.8L906.9 744L908 737.2L909.3 730.4L910.8 723.6L912.7 716.8L916.1 710ZM910.1 710L914.6 716.8L916.8 723.6L918.4 730.4L919.8 737.2L921 744L922.1 750.8L923.1 757.5L924.1 764.3L925.1 771.1L926 777.9L926.9 784.7L927.9 791.5L928.8 798.3L929.7 805.1L930.6 811.9L931.6 818.7L932.6 825.5L933.6 832.2L934.6 839L935.7 845.8L936.9 852.6L938.2 859.4L939.5 866.2L941.1 873L933.1 873L931.5 866.2L930.2 859.4L928.9 852.6L927.7 845.8L926.6 839L925.6 832.2L924.6 825.5L923.6 818.7L922.6 811.9L921.7 805.1L920.8 798.3L919.9 791.5L918.9 784.7L918 777.9L917.1 771.1L916.1 764.3L915.1 757.5L914.1 750.8L913 744L911.8 737.2L910.4 730.4L908.8 723.6L906.6 716.8L902.1 710Z" fill="#fff" stroke="#000" stroke-width="1.6"/></mask><clipPath id="h4D0"><path d="M727.8 905.8L727.8 905.8L728.7 905.8L729.6 905.8L730.5 905.8L731.4 905.8L732.4 905.8L733.3 905.8L734.2 905.8L735.1 905.8L736 905.8L736.9 905.8L737.8 905.8L738.7 905.8L739.6 905.8L740.6 905.8L741.5 905.8L742.4 905.8L743.3 905.8L744.2 905.8L745.1 905.8L746 905.8L746.9 905.8L747.8 905.8L748.8 905.8L749.7 905.8L750.6 905.8L751.5 905.8L752.4 905.8L753.3 905.8L754.2 905.8L755.1 905.8L756.1 905.8L757 905.8L757.9 905.8L758.8 905.8L759.7 905.8L760.6 905.8L761.5 905.8L762.4 905.8L763.3 905.8L764.3 905.8L765.2 905.8L766.1 905.8L767 905.8L767.9 905.8L768.8 905.8L769.7 905.8L770.6 905.8L771.5 905.8L772.5 905.8L773.4 905.8L774.3 905.8L775.2 905.8L776.1 905.8L777 905.8L777.9 905.8L778.8 905.8L779.7 905.8L780.7 905.8L781.6 905.8L782.5 905.8L783.4 905.8L784.3 905.8L785.2 905.8L786.1 905.8L787 905.8L787.9 905.8L788.9 905.8L789.8 905.8L790.7 905.8L791.6 905.8L792.5 905.8L793.4 905.8L794.3 905.8L795.2 905.8L796.1 905.8L797.1 905.8L798 905.8L798.9 905.8L799.8 905.8L800.7 905.8L801.6 905.8L802.5 905.8L803.4 905.8L804.4 905.8L805.3 905.8L806.2 905.8L807.1 905.8L808 905.8L808.9 905.8L809.8 905.8L810.7 905.8L811.6 905.8L812.6 905.8L813.5 905.8L814.4 905.8L815.3 905.8L816.2 905.8L817.1 905.8L818 905.8L818.9 905.8L819.8 905.8L820.8 905.8L821.7 905.8L822.6 905.8L823.5 905.8L824.4 905.8L825.3 905.8L826.2 905.8L827.1 905.8L828 905.8L829 905.8L829.9 905.8L830.8 905.8L831.7 905.8L832.6 905.8L833.5 905.8L834.4 905.8L835.3 905.8L836.2 905.8L837.2 905.8L838.1 905.8L839 905.8L839.9 905.7L840.8 905.7L841.7 905.7L842.6 905.7L843.5 905.7L844.5 905.7L845.4 905.6L846.3 905.6L847.2 905.5L848.1 905.5L849 905.4L849.9 905.3L850.8 905.2L851.7 905.1L852.7 905L853.6 904.9L854.5 904.7L855.4 904.5L856.3 904.2L857.2 903.9L858.1 903.6L859 903.2L859.9 902.8L860.9 902.3L861.8 901.7L862.7 901.1L863.6 900.3L864.5 899.5L865.4 898.6L866.3 897.5L867.2 896.3L868.1 895L869.1 893.5L870 891.8L870.9 890L871.8 888L872.7 885.8L873.6 883.3L874.5 880.7L875.4 877.8L876.3 874.7L877.3 871.3L878.2 870.9L879.1 870.9L880 870.9L880.9 870.9L881.8 870.9L882.7 870.9L883.6 870.9L884.5 870.9L885.5 870.9L886.4 870.9L887.3 870.9L888.2 870.9L889.1 870.9L890 870.9L890.9 870.9L891.8 870.9L892.8 870.9L893.7 870.9L894.6 870.9L895.5 870.9L896.4 870.9L897.3 870.9L898.2 870.9L899.1 870.9L900 870.9L901 870.9L901.9 870.9L902.8 870.9L903.7 870.9L904.6 870.9L905.5 870.9L906.4 870.9L907.3 870.9L908.2 870.9L909.2 870.9L910.1 870.9L911 870.9L911.9 870.9L912.8 870.9L913.7 870.9L914.6 870.9L915.5 870.9L916.4 870.9L917.4 870.9L918.3 870.9L919.2 870.9L920.1 870.9L921 870.9L921.9 870.9L922.8 870.9L923.7 870.9L924.6 870.9L925.6 870.9L926.5 870.9L927.4 870.9L928.3 870.9L929.2 870.9L930.1 870.9L931 870.9L931.9 870.9L932.9 870.9L933.8 870.9L934.7 870.9L935.6 870.9L936.5 870.9L937.4 870.9L938.3 873.9L939.2 877.4L940.1 880.6L941.1 883.6L942 886.3L942.9 888.7L943.8 890.9L944.7 892.8L945.6 894.6L946.5 896.1L947.4 897.5L948.3 898.7L949.3 899.8L950.2 900.7L951.1 901.5L952 902.2L952.9 902.8L953.8 903.3L954.7 903.7L955.6 904.1L956.5 904.4L957.5 904.6L958.4 904.8L959.3 905L960.2 905.2L961.1 905.3L962 905.4L962.9 905.5L963.8 905.5L964.7 905.6L965.7 905.6L966.6 905.7L967.5 905.7L968.4 905.7L969.3 905.7L970.2 905.8L971.1 905.8L972 905.8L972.9 905.8L973.9 905.8L974.8 905.8L975.7 905.8L976.6 905.8L977.5 905.8L978.4 905.8L979.3 905.8L980.2 905.8L981.2 905.8L982.1 905.8L983 905.8L983.9 905.8L984.8 905.8L985.7 905.8L986.6 905.8L987.5 905.8L988.4 905.8L989.4 905.8L990.3 905.8L991.2 905.8L992.1 905.8L993 905.8L993.9 905.8L994.8 905.8L995.7 905.8L996.6 905.8L997.6 905.8L998.5 905.8L999.4 905.8L1000.3 905.8L1001.2 905.8L1001.2 905.8Z"/></clipPath><clipPath id="fc4"><rect x="727.8" y="514.8" width="273.4" height="392.2"/></clipPath></defs>
<rect x="119.4" y="16.4" width="295" height="421.4" fill="none" stroke="#000" stroke-width="1.8"/>
<g clip-path="url(#fc0)"><path d="M119.4 329.9L119.4 329.9L120.4 329.9L121.4 329.9L122.4 329.9L123.3 329.9L124.3 329.9L125.3 329.9L126.3 329.9L127.3 329.9L128.2 329.9L129.2 329.9L130.2 329.9L131.2 329.9L132.2 329.9L133.2 329.9L134.2 329.9L135.1 329.9L136.1 329.9L137.1 329.9L138.1 329.9L139.1 329.9L140.1 329.9L141 329.9L142 329.9L143 329.9L144 329.9L145 329.9L145.9 329.9L146.9 329.9L147.9 329.9L148.9 329.9L149.9 329.9L150.9 329.9L151.8 329.9L152.8 329.9L153.8 329.9L154.8 329.9L155.8 329.9L156.8 329.9L157.8 329.9L158.7 329.9L159.7 329.9L160.7 329.9L161.7 329.9L162.7 329.9L163.7 329.9L164.6 329.9L165.6 329.9L166.6 329.9L167.6 329.9L168.6 329.9L169.6 329.9L170.5 329.9L171.5 329.9L172.5 329.9L173.5 329.9L174.5 329.9L175.4 329.9L176.4 329.9L177.4 329.9L178.4 329.9L179.4 329.9L180.4 329.9L181.3 329.9L182.3 329.9L183.3 329.9L184.3 329.9L185.3 329.9L186.3 329.9L187.2 329.9L188.2 329.9L189.2 329.9L190.2 329.9L191.2 329.9L192.2 329.9L193.2 329.9L194.1 329.9L195.1 329.9L196.1 329.9L197.1 329.9L198.1 329.9L199.1 329.9L200 329.9L201 328.3L202 324.6L203 320.9L204 317.1L204.9 313.3L205.9 309.5L206.9 305.6L207.9 301.8L208.9 297.9L209.9 294.1L210.8 290.3L211.8 286.4L212.8 282.6L213.8 278.8L214.8 275.1L215.8 271.4L216.8 267.7L217.7 264.1L218.7 260.5L219.7 257L220.7 253.6L221.7 250.3L222.7 247L223.6 243.8L224.6 240.7L225.6 237.7L226.6 234.9L227.6 232.1L228.6 229.4L229.5 226.9L230.5 224.5L231.5 222.2L232.5 220L233.5 218L234.4 216.1L235.4 214.4L236.4 212.8L237.4 211.4L238.4 210.1L239.4 208.9L240.3 207.9L241.3 207.1L242.3 206.4L243.3 205.9L244.3 205.5L245.3 205.3L246.2 205.2L247.2 205.2L248.2 205.6L249.2 206.2L250.2 206.9L251.2 207.9L252.2 209L253.1 210.3L254.1 211.7L255.1 213.3L256.1 215L257.1 216.9L258.1 218.9L259 221.1L260 223.3L261 225.7L262 228.2L263 230.7L263.9 233.4L264.9 236.2L265.9 239L266.9 242L267.9 245L268.9 248L269.9 251.1L270.8 254.3L271.8 257.6L272.8 260.8L273.8 264.2L274.8 267.5L275.8 270.9L276.7 274.3L277.7 277.7L278.7 281.2L279.7 284.6L280.7 288.1L281.6 291.5L282.6 295L283.6 298.5L284.6 301.9L285.6 305.3L286.6 308.7L287.5 312.1L288.5 315.5L289.5 318.8L290.5 322.1L291.5 325.4L292.5 328.6L293.4 329.9L294.4 329.9L295.4 329.9L296.4 329.9L297.4 329.9L298.4 329.9L299.4 329.9L300.3 329.9L301.3 329.9L302.3 329.9L303.3 329.9L304.3 329.9L305.2 329.9L306.2 329.9L307.2 329.9L308.2 329.9L309.2 329.9L310.2 329.9L311.1 329.9L312.1 329.9L313.1 329.9L314.1 329.9L315.1 329.9L316.1 329.9L317 329.9L318 329.9L319 329.9L320 329.9L321 329.9L322 329.9L322.9 329.9L323.9 329.9L324.9 329.9L325.9 329.9L326.9 329.9L327.9 329.9L328.9 329.9L329.8 329.9L330.8 329.9L331.8 329.9L332.8 329.9L333.8 329.9L334.8 329.9L335.7 329.9L336.7 329.9L337.7 329.9L338.7 329.9L339.7 329.9L340.6 329.9L341.6 329.9L342.6 329.9L343.6 329.9L344.6 329.9L345.6 329.9L346.5 329.9L347.5 329.9L348.5 329.9L349.5 329.9L350.5 329.9L351.5 329.9L352.4 329.9L353.4 329.9L354.4 329.9L355.4 329.9L356.4 329.9L357.4 329.9L358.4 329.9L359.3 329.9L360.3 329.9L361.3 329.9L362.3 329.9L363.3 329.9L364.2 329.9L365.2 329.9L366.2 329.9L367.2 329.9L368.2 329.9L369.2 329.9L370.1 329.9L371.1 329.9L372.1 329.9L373.1 329.9L374.1 329.9L375.1 329.9L376 329.9L377 329.9L378 329.9L379 329.9L380 329.9L381 329.9L382 329.9L382.9 329.9L383.9 329.9L384.9 329.9L385.9 329.9L386.9 329.9L387.9 329.9L388.8 329.9L389.8 329.9L390.8 329.9L391.8 329.9L392.8 329.9L393.8 329.9L394.7 329.9L395.7 329.9L396.7 329.9L397.7 329.9L398.7 329.9L399.6 329.9L400.6 329.9L401.6 329.9L402.6 329.9L403.6 329.9L404.6 329.9L405.5 329.9L406.5 329.9L407.5 329.9L408.5 329.9L409.5 329.9L410.5 329.9L411.5 329.9L412.4 329.9L413.4 329.9L414.4 329.9L414.4 329.9Z" fill="#00ffff"/><path d="M200.6 329.9L201 328.3L202 324.6L203 320.9L204 317.1L204.9 313.3L205.9 309.5L206.9 305.6L207.9 301.8L208.9 297.9L209.9 294.1L210.8 290.3L211.8 286.4L212.8 282.6L213.8 278.8L214.8 275.1L215.8 271.4L216.8 267.7L217.7 264.1L218.7 260.5L219.7 257L220.7 253.6L221.7 250.3L222.7 247L223.6 243.8L224.6 240.7L225.6 237.7L226.6 234.9L227.6 232.1L228.6 229.4L229.5 226.9L230.5 224.5L231.5 222.2L232.5 220L233.5 218L234.4 216.1L235.4 214.4L236.4 212.8L237.4 211.4L238.4 210.1L239.4 208.9L240.3 207.9L241.3 207.1L242.3 206.4L243.3 205.9L244.3 205.5L245.3 205.3L246.2 205.2L247.2 205.2L248.2 205.6L249.2 206.2L250.2 206.9L251.2 207.9L252.2 209L253.1 210.3L254.1 211.7L255.1 213.3L256.1 215L257.1 216.9L258.1 218.9L259 221.1L260 223.3L261 225.7L262 228.2L263 230.7L263.9 233.4L264.9 236.2L265.9 239L266.9 242L267.9 245L268.9 248L269.9 251.1L270.8 254.3L271.8 257.6L272.8 260.8L273.8 264.2L274.8 267.5L275.8 270.9L276.7 274.3L277.7 277.7L278.7 281.2L279.7 284.6L280.7 288.1L281.6 291.5L282.6 295L283.6 298.5L284.6 301.9L285.6 305.3L286.6 308.7L287.5 312.1L288.5 315.5L289.5 318.8L290.5 322.1L291.5 325.4L292.5 328.6L292.85 329.9" fill="none" stroke="#0000ff" stroke-width="2.5"/><path d="M367.2 434.92L368.2 435.1L369.2 435.3L370.1 435.4L371.1 435.6L372.1 435.7L373.1 435.9L374.1 436L375.1 436.1L376 436.2L377 436.3L378 436.4L379 436.5L380 436.6L381 436.7L382 436.8L382.9 436.8L383.9 436.9L384.9 437L385.9 437L386.9 437.1L387.9 437.1L388.8 437.2L389.8 437.2L390.8 437.3L391.8 437.3L392.8 437.3L393.8 437.4L394.7 437.4L395.7 437.4L396.7 437.5L397.7 437.5L398.7 437.5L399.6 437.5L400.6 437.6L401.6 437.6L402.6 437.6L403.6 437.6L404.6 437.6L405.5 437.6L406.5 437.6L407.5 437.7L408.5 437.7L409.5 437.7L410.5 437.7L411.5 437.7L412.4 437.7L413.4 437.7L414.4 437.7" fill="none" stroke="#0000ff" stroke-width="2.5"/><path d="M119.4 280.6L119.4 280.6L120.4 280.6L121.4 280.6L122.4 280.6L123.3 280.6L124.3 280.6L125.3 280.6L126.3 280.6L127.3 280.6L128.2 280.6L129.2 280.6L130.2 280.6L131.2 280.6L132.2 280.6L133.2 280.6L134.2 280.6L135.1 280.6L136.1 280.6L137.1 280.6L138.1 280.6L139.1 280.6L140.1 280.6L141 280.6L142 280.6L143 280.6L144 280.6L145 280.6L145.9 280.6L146.9 280.6L147.9 280.6L148.9 280.6L149.9 280.6L150.9 280.6L151.8 280.6L152.8 280.6L153.8 280.6L154.8 280.6L155.8 280.6L156.8 280.6L157.8 280.6L158.7 280.6L159.7 280.6L160.7 280.6L161.7 280.6L162.7 280.6L163.7 280.6L164.6 280.6L165.6 280.6L166.6 280.6L167.6 280.6L168.6 280.6L169.6 280.6L170.5 280.6L171.5 280.6L172.5 280.6L173.5 280.6L174.5 280.6L175.4 280.6L176.4 280.6L177.4 280.6L178.4 280.6L179.4 280.6L180.4 280.6L181.3 280.6L182.3 280.6L183.3 280.6L184.3 280.6L185.3 280.6L186.3 280.6L187.2 280.6L188.2 280.6L189.2 280.6L190.2 280.6L191.2 280.6L192.2 280.6L193.2 280.6L194.1 280.6L195.1 280.6L196.1 280.6L197.1 280.6L198.1 280.6L199.1 280.6L200 280.6L201 280.6L202 280.6L203 280.6L204 280.6L204.9 280.6L205.9 280.6L206.9 280.6L207.9 280.6L208.9 280.6L209.9 280.6L210.8 280.6L211.8 280.6L212.8 280.6L213.8 280.6L214.8 280.6L215.8 280.6L216.8 280.6L217.7 280.6L218.7 280.6L219.7 280.6L220.7 280.6L221.7 280.6L222.7 280.6L223.6 280.6L224.6 280.6L225.6 280.6L226.6 280.6L227.6 280.6L228.6 280.6L229.5 280.6L230.5 280.6L231.5 280.6L232.5 280.6L233.5 280.6L234.4 280.6L235.4 280.6L236.4 280.6L237.4 280.6L238.4 280.6L239.4 280.6L240.3 280.6L241.3 280.6L242.3 280.6L243.3 280.6L244.3 280.6L245.3 280.6L246.2 280.6L247.2 280.6L248.2 280.6L249.2 280.6L250.2 280.6L251.2 280.6L252.2 280.6L253.1 280.6L254.1 280.6L255.1 280.6L256.1 280.6L257.1 280.6L258.1 280.6L259 280.6L260 280.6L261 280.6L262 280.6L263 280.6L263.9 280.6L264.9 280.6L265.9 280.6L266.9 280.6L267.9 280.6L268.9 280.6L269.9 280.6L270.8 280.6L271.8 280.6L272.8 280.6L273.8 280.6L274.8 280.6L275.8 280.6L276.7 280.6L277.7 277.7L278.7 269.9L279.7 262.1L280.7 254.2L281.6 246.3L282.6 238.3L283.6 230.4L284.6 222.5L285.6 214.7L286.6 207L287.5 199.5L288.5 192.1L289.5 184.8L290.5 177.9L291.5 171.1L292.5 164.7L293.4 158.5L294.4 152.7L295.4 147.3L296.4 142.3L297.4 137.7L298.4 133.5L299.4 129.8L300.3 126.6L301.3 123.9L302.3 121.7L303.3 120L304.3 118.8L305.2 118.3L306.2 118.2L307.2 118.7L308.2 119.7L309.2 121.2L310.2 123.2L311.1 125.8L312.1 128.9L313.1 132.5L314.1 136.5L315.1 141.1L316.1 146.1L317 151.5L318 157.3L319 163.5L320 170L321 176.9L322 184L322.9 191.4L323.9 199L324.9 206.8L325.9 214.7L326.9 222.8L327.9 231L328.9 239.2L329.8 247.4L330.8 255.6L331.8 263.8L332.8 271.9L333.8 280L334.8 280.6L335.7 280.6L336.7 280.6L337.7 280.6L338.7 280.6L339.7 280.6L340.6 280.6L341.6 280.6L342.6 280.6L343.6 280.6L344.6 280.6L345.6 280.6L346.5 280.6L347.5 280.6L348.5 280.6L349.5 280.6L350.5 280.6L351.5 280.6L352.4 280.6L353.4 280.6L354.4 280.6L355.4 280.6L356.4 280.6L357.4 280.6L358.4 280.6L359.3 280.6L360.3 280.6L361.3 280.6L362.3 280.6L363.3 280.6L364.2 280.6L365.2 280.6L366.2 280.6L367.2 280.6L368.2 280.6L369.2 280.6L370.1 280.6L371.1 280.6L372.1 280.6L373.1 280.6L374.1 280.6L375.1 280.6L376 280.6L377 280.6L378 280.6L379 280.6L380 280.6L381 280.6L382 280.6L382.9 280.6L383.9 280.6L384.9 280.6L385.9 280.6L386.9 280.6L387.9 280.6L388.8 280.6L389.8 280.6L390.8 280.6L391.8 280.6L392.8 280.6L393.8 280.6L394.7 280.6L395.7 280.6L396.7 280.6L397.7 280.6L398.7 280.6L399.6 280.6L400.6 280.6L401.6 280.6L402.6 280.6L403.6 280.6L404.6 280.6L405.5 280.6L406.5 280.6L407.5 280.6L408.5 280.6L409.5 280.6L410.5 280.6L411.5 280.6L412.4 280.6L413.4 280.6L414.4 280.6L414.4 280.6ZM335.7 437.8L335.7 295.7L336.7 303.3L337.7 310.8L338.7 318.1L339.7 325.1L340.6 332L341.6 338.6L342.6 345L343.6 351.1L344.6 357L345.6 362.6L346.5 368L347.5 373.1L348.5 377.9L349.5 382.5L350.5 386.8L351.5 390.9L352.4 394.7L353.4 398.3L354.4 401.7L355.4 404.8L356.4 407.7L357.4 410.5L358.4 413L359.3 415.3L360.3 417.4L361.3 419.4L362.3 421.2L363.3 422.9L364.2 424.4L365.2 425.8L366.2 427.1L367.2 428.2L368.2 429.3L369.2 430.2L370.1 431.1L371.1 431.9L372.1 432.5L373.1 433.2L374.1 433.7L375.1 434.2L376 434.6L377 435L378 435.4L379 435.7L380 436L381 436.2L382 436.4L382.9 436.6L383.9 436.8L384.9 436.9L385.9 437L386.9 437.1L387.9 437.2L388.8 437.3L389.8 437.4L390.8 437.4L391.8 437.5L392.8 437.5L393.8 437.6L394.7 437.6L395.7 437.6L396.7 437.7L397.7 437.7L398.7 437.7L399.6 437.7L400.6 437.7L401.6 437.7L402.6 437.8L403.6 437.8L404.6 437.8L405.5 437.8L406.5 437.8L407.5 437.8L408.5 437.8L409.5 437.8L410.5 437.8L411.5 437.8L412.4 437.8L413.4 437.8L414.4 437.8L414.4 437.8Z" fill="#00ff00"/><g clip-path="url(#h0A0)" fill="none" stroke="#000" stroke-width="1.1"><path d="M119.4 14L414.4 -281M119.4 30.3L414.4 -264.7M119.4 38.4L414.4 -256.5M119.4 54.8L414.4 -240.2M119.4 62.9L414.4 -232.1M119.4 79.2L414.4 -215.8M119.4 87.3L414.4 -207.6M119.4 103.7L414.4 -191.3M119.4 111.8L414.4 -183.2M119.4 128.1L414.4 -166.9M119.4 136.2L414.4 -158.7M119.4 152.5L414.4 -142.4M119.4 160.7L414.4 -134.3M119.4 177L414.4 -118M119.4 185.2L414.4 -109.8M119.4 201.5L414.4 -93.5M119.4 209.6L414.4 -85.4M119.4 225.9L414.4 -69.1M119.4 234L414.4 -60.9M119.4 250.3L414.4 -44.6M119.4 258.5L414.4 -36.5M119.4 274.8L414.4 -20.2M119.4 283L414.4 -12M119.4 299.2L414.4 4.3M119.4 307.4L414.4 12.4M119.4 323.7L414.4 28.7M119.4 331.9L414.4 36.9M119.4 348.1L414.4 53.2M119.4 356.3L414.4 61.3M119.4 372.6L414.4 77.6M119.4 380.8L414.4 85.8M119.4 397.1L414.4 102.1M119.4 405.2L414.4 110.2M119.4 421.5L414.4 126.5M119.4 429.7L414.4 134.7M119.4 446L414.4 151M119.4 454.1L414.4 159.1M119.4 470.4L414.4 175.4M119.4 478.6L414.4 183.6M119.4 494.9L414.4 199.9M119.4 503L414.4 208M119.4 519.3L414.4 224.3M119.4 527.5L414.4 232.5M119.4 543.8L414.4 248.8M119.4 551.9L414.4 256.9M119.4 568.2L414.4 273.2M119.4 576.4L414.4 281.4M119.4 592.7L414.4 297.7M119.4 600.8L414.4 305.8M119.4 617.1L414.4 322.1M119.4 625.2L414.4 330.2M119.4 641.6L414.4 346.6M119.4 649.7L414.4 354.7M119.4 666L414.4 371M119.4 674.2L414.4 379.2M119.4 690.5L414.4 395.5M119.4 698.6L414.4 403.6M119.4 714.9L414.4 419.9M119.4 723.1L414.4 428.1" mask="url(#m0A0a)"/><path d="M119.4 22.2L414.4 -272.8M119.4 46.6L414.4 -248.4M119.4 71.1L414.4 -223.9M119.4 95.5L414.4 -199.5M119.4 120L414.4 -175M119.4 144.4L414.4 -150.6M119.4 168.8L414.4 -126.1M119.4 193.3L414.4 -101.7M119.4 217.8L414.4 -77.2M119.4 242.2L414.4 -52.8M119.4 266.6L414.4 -28.3M119.4 291.1L414.4 -3.9M119.4 315.6L414.4 20.6M119.4 340L414.4 45M119.4 364.5L414.4 69.5M119.4 388.9L414.4 93.9M119.4 413.4L414.4 118.4M119.4 437.8L414.4 142.8M119.4 462.2L414.4 167.2M119.4 486.7L414.4 191.7M119.4 511.2L414.4 216.2M119.4 535.6L414.4 240.6M119.4 560.1L414.4 265.1M119.4 584.5L414.4 289.5M119.4 609L414.4 314M119.4 633.4L414.4 338.4M119.4 657.9L414.4 362.9M119.4 682.3L414.4 387.3M119.4 706.8L414.4 411.8M119.4 731.2L414.4 436.2" mask="url(#m0A0b)"/></g><g clip-path="url(#h0B0)" fill="none" stroke="#000" stroke-width="1.1"><path d="M119.4 12.8L414.4 -282.2M119.4 29.2L414.4 -265.8M119.4 37.4L414.4 -257.6M119.4 53.8L414.4 -241.2M119.4 62L414.4 -233M119.4 78.4L414.4 -216.6M119.4 86.6L414.4 -208.4M119.4 103L414.4 -192M119.4 111.2L414.4 -183.8M119.4 127.6L414.4 -167.4M119.4 135.8L414.4 -159.2M119.4 152.2L414.4 -142.8M119.4 160.4L414.4 -134.6M119.4 176.8L414.4 -118.2M119.4 185L414.4 -110M119.4 201.4L414.4 -93.6M119.4 209.6L414.4 -85.4M119.4 226L414.4 -69M119.4 234.2L414.4 -60.8M119.4 250.6L414.4 -44.4M119.4 258.8L414.4 -36.2M119.4 275.2L414.4 -19.8M119.4 283.4L414.4 -11.6M119.4 299.8L414.4 4.8M119.4 308L414.4 13M119.4 324.4L414.4 29.4M119.4 332.6L414.4 37.6M119.4 349L414.4 54M119.4 357.2L414.4 62.2M119.4 373.6L414.4 78.6M119.4 381.8L414.4 86.8M119.4 398.2L414.4 103.2M119.4 406.4L414.4 111.4M119.4 422.8L414.4 127.8M119.4 431L414.4 136M119.4 447.4L414.4 152.4M119.4 455.6L414.4 160.6M119.4 472L414.4 177M119.4 480.2L414.4 185.2M119.4 496.6L414.4 201.6M119.4 504.8L414.4 209.8M119.4 521.2L414.4 226.2M119.4 529.4L414.4 234.4M119.4 545.8L414.4 250.8M119.4 554L414.4 259M119.4 570.4L414.4 275.4M119.4 578.6L414.4 283.6M119.4 595L414.4 300M119.4 603.2L414.4 308.2M119.4 619.6L414.4 324.6M119.4 627.8L414.4 332.8M119.4 644.2L414.4 349.2M119.4 652.4L414.4 357.4M119.4 668.8L414.4 373.8M119.4 677L414.4 382M119.4 693.4L414.4 398.4M119.4 701.6L414.4 406.6M119.4 718L414.4 423M119.4 726.2L414.4 431.2" mask="url(#m0B0a)"/><path d="M119.4 21L414.4 -274M119.4 45.6L414.4 -249.4M119.4 70.2L414.4 -224.8M119.4 94.8L414.4 -200.2M119.4 119.4L414.4 -175.6M119.4 144L414.4 -151M119.4 168.6L414.4 -126.4M119.4 193.2L414.4 -101.8M119.4 217.8L414.4 -77.2M119.4 242.4L414.4 -52.6M119.4 267L414.4 -28M119.4 291.6L414.4 -3.4M119.4 316.2L414.4 21.2M119.4 340.8L414.4 45.8M119.4 365.4L414.4 70.4M119.4 390L414.4 95M119.4 414.6L414.4 119.6M119.4 439.2L414.4 144.2M119.4 463.8L414.4 168.8M119.4 488.4L414.4 193.4M119.4 513L414.4 218M119.4 537.6L414.4 242.6M119.4 562.2L414.4 267.2M119.4 586.8L414.4 291.8M119.4 611.4L414.4 316.4M119.4 636L414.4 341M119.4 660.6L414.4 365.6M119.4 685.2L414.4 390.2M119.4 709.8L414.4 414.8" mask="url(#m0B0b)"/></g><g clip-path="url(#h0C0)" fill="none" stroke="#000" stroke-width="1.1"><path d="M119.4 10.9L414.4 -284.1M119.4 28.6L414.4 -266.4M119.4 34.5L414.4 -260.5M119.4 40.4L414.4 -254.6M119.4 58.1L414.4 -236.9M119.4 64L414.4 -231M119.4 69.9L414.4 -225.1M119.4 87.6L414.4 -207.4M119.4 93.5L414.4 -201.5M119.4 99.4L414.4 -195.6M119.4 117.1L414.4 -177.9M119.4 123L414.4 -172M119.4 128.9L414.4 -166.1M119.4 146.6L414.4 -148.4M119.4 152.5L414.4 -142.5M119.4 158.4L414.4 -136.6M119.4 176.1L414.4 -118.9M119.4 182L414.4 -113M119.4 187.9L414.4 -107.1M119.4 205.6L414.4 -89.4M119.4 211.5L414.4 -83.5M119.4 217.4L414.4 -77.6M119.4 235.1L414.4 -59.9M119.4 241L414.4 -54M119.4 246.9L414.4 -48.1M119.4 264.6L414.4 -30.4M119.4 270.5L414.4 -24.5M119.4 276.4L414.4 -18.6M119.4 294.1L414.4 -0.9M119.4 300L414.4 5M119.4 305.9L414.4 10.9M119.4 323.6L414.4 28.6M119.4 329.5L414.4 34.5M119.4 335.4L414.4 40.4M119.4 353.1L414.4 58.1M119.4 359L414.4 64M119.4 364.9L414.4 69.9M119.4 382.6L414.4 87.6M119.4 388.5L414.4 93.5M119.4 394.4L414.4 99.4M119.4 412.1L414.4 117.1M119.4 418L414.4 123M119.4 423.9L414.4 128.9M119.4 441.6L414.4 146.6M119.4 447.5L414.4 152.5M119.4 453.4L414.4 158.4M119.4 471.1L414.4 176.1M119.4 477L414.4 182M119.4 482.9L414.4 187.9M119.4 500.6L414.4 205.6M119.4 506.5L414.4 211.5M119.4 512.4L414.4 217.4M119.4 530.1L414.4 235.1M119.4 536L414.4 241M119.4 541.9L414.4 246.9M119.4 559.6L414.4 264.6M119.4 565.5L414.4 270.5M119.4 571.4L414.4 276.4M119.4 589.1L414.4 294.1M119.4 595L414.4 300M119.4 600.9L414.4 305.9M119.4 618.6L414.4 323.6M119.4 624.5L414.4 329.5M119.4 630.4L414.4 335.4M119.4 648.1L414.4 353.1M119.4 654L414.4 359M119.4 659.9L414.4 364.9M119.4 677.6L414.4 382.6M119.4 683.5L414.4 388.5M119.4 689.4L414.4 394.4M119.4 707.1L414.4 412.1M119.4 713L414.4 418M119.4 718.9L414.4 423.9" mask="url(#m0C0a)"/><path d="M119.4 16.8L414.4 -278.2M119.4 22.7L414.4 -272.3M119.4 46.3L414.4 -248.7M119.4 52.2L414.4 -242.8M119.4 75.8L414.4 -219.2M119.4 81.7L414.4 -213.3M119.4 105.3L414.4 -189.7M119.4 111.2L414.4 -183.8M119.4 134.8L414.4 -160.2M119.4 140.7L414.4 -154.3M119.4 164.3L414.4 -130.7M119.4 170.2L414.4 -124.8M119.4 193.8L414.4 -101.2M119.4 199.7L414.4 -95.3M119.4 223.3L414.4 -71.7M119.4 229.2L414.4 -65.8M119.4 252.8L414.4 -42.2M119.4 258.7L414.4 -36.3M119.4 282.3L414.4 -12.7M119.4 288.2L414.4 -6.8M119.4 311.8L414.4 16.8M119.4 317.7L414.4 22.7M119.4 341.3L414.4 46.3M119.4 347.2L414.4 52.2M119.4 370.8L414.4 75.8M119.4 376.7L414.4 81.7M119.4 400.3L414.4 105.3M119.4 406.2L414.4 111.2M119.4 429.8L414.4 134.8M119.4 435.7L414.4 140.7M119.4 459.3L414.4 164.3M119.4 465.2L414.4 170.2M119.4 488.8L414.4 193.8M119.4 494.7L414.4 199.7M119.4 518.3L414.4 223.3M119.4 524.2L414.4 229.2M119.4 547.8L414.4 252.8M119.4 553.7L414.4 258.7M119.4 577.3L414.4 282.3M119.4 583.2L414.4 288.2M119.4 606.8L414.4 311.8M119.4 612.7L414.4 317.7M119.4 636.3L414.4 341.3M119.4 642.2L414.4 347.2M119.4 665.8L414.4 370.8M119.4 671.7L414.4 376.7M119.4 695.3L414.4 400.3M119.4 701.2L414.4 406.2M119.4 724.8L414.4 429.8M119.4 730.7L414.4 435.7" mask="url(#m0C0b)"/></g><g clip-path="url(#h0D0)" fill="none" stroke="#000" stroke-width="1.1"><path d="M119.4 11.3L414.4 -283.7M119.4 28.8L414.4 -266.1M119.4 34.7L414.4 -260.3M119.4 40.5L414.4 -254.4M119.4 58.1L414.4 -236.9M119.4 63.9L414.4 -231M119.4 69.8L414.4 -225.2M119.4 87.3L414.4 -207.6M119.4 93.2L414.4 -201.8M119.4 99L414.4 -195.9M119.4 116.6L414.4 -178.4M119.4 122.4L414.4 -172.5M119.4 128.3L414.4 -166.7M119.4 145.8L414.4 -149.1M119.4 151.7L414.4 -143.3M119.4 157.5L414.4 -137.4M119.4 175.1L414.4 -119.9M119.4 180.9L414.4 -114.1M119.4 186.8L414.4 -108.2M119.4 204.3L414.4 -90.6M119.4 210.2L414.4 -84.8M119.4 216L414.4 -78.9M119.4 233.6L414.4 -61.4M119.4 239.4L414.4 -55.6M119.4 245.3L414.4 -49.7M119.4 262.9L414.4 -32.1M119.4 268.7L414.4 -26.3M119.4 274.5L414.4 -20.4M119.4 292.1L414.4 -2.9M119.4 297.9L414.4 2.9M119.4 303.8L414.4 8.8M119.4 321.4L414.4 26.4M119.4 327.2L414.4 32.2M119.4 333L414.4 38.1M119.4 350.6L414.4 55.6M119.4 356.4L414.4 61.4M119.4 362.3L414.4 67.3M119.4 379.8L414.4 84.8M119.4 385.7L414.4 90.7M119.4 391.5L414.4 96.6M119.4 409.1L414.4 114.1M119.4 415L414.4 120M119.4 420.8L414.4 125.8M119.4 438.4L414.4 143.4M119.4 444.2L414.4 149.2M119.4 450L414.4 155M119.4 467.6L414.4 172.6M119.4 473.4L414.4 178.4M119.4 479.3L414.4 184.3M119.4 496.9L414.4 201.9M119.4 502.7L414.4 207.7M119.4 508.5L414.4 213.5M119.4 526.1L414.4 231.1M119.4 531.9L414.4 236.9M119.4 537.8L414.4 242.8M119.4 555.4L414.4 260.4M119.4 561.2L414.4 266.2M119.4 567L414.4 272M119.4 584.6L414.4 289.6M119.4 590.4L414.4 295.4M119.4 596.3L414.4 301.3M119.4 613.9L414.4 318.9M119.4 619.7L414.4 324.7M119.4 625.5L414.4 330.5M119.4 643.1L414.4 348.1M119.4 648.9L414.4 353.9M119.4 654.8L414.4 359.8M119.4 672.4L414.4 377.4M119.4 678.2L414.4 383.2M119.4 684L414.4 389M119.4 701.6L414.4 406.6M119.4 707.4L414.4 412.4M119.4 713.3L414.4 418.3M119.4 730.9L414.4 435.9" mask="url(#m0D0a)"/><path d="M119.4 17.1L414.4 -277.9M119.4 23L414.4 -272M119.4 46.4L414.4 -248.6M119.4 52.2L414.4 -242.8M119.4 75.6L414.4 -219.3M119.4 81.5L414.4 -213.5M119.4 104.9L414.4 -190.1M119.4 110.7L414.4 -184.2M119.4 134.1L414.4 -160.8M119.4 140L414.4 -155M119.4 163.4L414.4 -131.6M119.4 169.2L414.4 -125.8M119.4 192.6L414.4 -102.4M119.4 198.5L414.4 -96.5M119.4 221.9L414.4 -73.1M119.4 227.7L414.4 -67.2M119.4 251.1L414.4 -43.9M119.4 257L414.4 -38M119.4 280.4L414.4 -14.6M119.4 286.2L414.4 -8.8M119.4 309.6L414.4 14.6M119.4 315.5L414.4 20.5M119.4 338.9L414.4 43.9M119.4 344.8L414.4 49.8M119.4 368.1L414.4 73.1M119.4 374L414.4 79M119.4 397.4L414.4 102.4M119.4 403.2L414.4 108.2M119.4 426.6L414.4 131.6M119.4 432.5L414.4 137.5M119.4 455.9L414.4 160.9M119.4 461.8L414.4 166.8M119.4 485.1L414.4 190.1M119.4 491L414.4 196M119.4 514.4L414.4 219.4M119.4 520.2L414.4 225.2M119.4 543.6L414.4 248.6M119.4 549.5L414.4 254.5M119.4 572.9L414.4 277.9M119.4 578.8L414.4 283.8M119.4 602.1L414.4 307.1M119.4 608L414.4 313M119.4 631.4L414.4 336.4M119.4 637.2L414.4 342.2M119.4 660.6L414.4 365.6M119.4 666.5L414.4 371.5M119.4 689.9L414.4 394.9M119.4 695.8L414.4 400.8M119.4 719.1L414.4 424.1M119.4 725L414.4 430" mask="url(#m0D0b)"/></g><path d="M119.4 437.8L120.4 437.8L121.4 437.8L122.4 437.8L123.3 437.8L124.3 437.8L125.3 437.8L126.3 437.8L127.3 437.8L128.2 437.8L129.2 437.8L130.2 437.8L131.2 437.8L132.2 437.8L133.2 437.8L134.2 437.8L135.1 437.8L136.1 437.8L137.1 437.8L138.1 437.8L139.1 437.8L140.1 437.8L141 437.8L142 437.8L143 437.8L144 437.8L145 437.8L145.9 437.8L146.9 437.8L147.9 437.8L148.9 437.8L149.9 437.8L150.9 437.8L151.8 437.8L152.8 437.8L153.8 437.8L154.8 437.8L155.8 437.8L156.8 437.8L157.8 437.8L158.7 437.8L159.7 437.8L160.7 437.8L161.7 437.8L162.7 437.8L163.7 437.8L164.6 437.8L165.6 437.8L166.6 437.8L167.6 437.8L168.6 437.8L169.6 437.8L170.5 437.8L171.5 437.8L172.5 437.8L173.5 437.8L174.5 437.8L175.4 437.8L176.4 437.8L177.4 437.8L178.4 437.8L179.4 437.8L180.4 437.8L181.3 437.8L182.3 437.8L183.3 437.8L184.3 437.8L185.3 437.8L186.3 437.8L187.2 437.8L188.2 437.8L189.2 437.8L190.2 437.8L191.2 437.8L192.2 437.8L193.2 437.8L194.1 437.8L195.1 437.8L196.1 437.8L197.1 437.8L198.1 437.8L199.1 437.8L200 437.8L201 437.8L202 437.8L203 437.8L204 437.8L204.9 437.8L205.9 437.7L206.9 437.7L207.9 437.7L208.9 437.7L209.9 437.7L210.8 437.7L211.8 437.6L212.8 437.6L213.8 437.6L214.8 437.6L215.8 437.5L216.8 437.5L217.7 437.4L218.7 437.3L219.7 437.3L220.7 437.2L221.7 437.1L222.7 437L223.6 436.9L224.6 436.7L225.6 436.6L226.6 436.4L227.6 436.2L228.6 436L229.5 435.7L230.5 435.4L231.5 435.1L232.5 434.8L233.5 434.4L234.4 433.9L235.4 433.4L236.4 432.9L237.4 432.3L238.4 431.6L239.4 430.9L240.3 430L241.3 429.1L242.3 428.1L243.3 427L244.3 425.9L245.3 424.5L246.2 423.1L247.2 421.6L248.2 419.9L249.2 418.1L250.2 416.1L251.2 414L252.2 411.7L253.1 409.2L254.1 406.5L255.1 403.7L256.1 400.6L257.1 397.4L258.1 393.9L259 390.3L260 386.4L261 382.2L262 377.9L263 373.3L263.9 368.5L264.9 363.4L265.9 358.1L266.9 352.5L267.9 346.8L268.9 340.7L269.9 334.5L270.8 328.1L271.8 321.4L272.8 314.5L273.8 307.5L274.8 300.3L275.8 292.9L276.7 285.4L277.35 280.6" fill="none" stroke="#0a7a14" stroke-width="2.4"/><path d="M333.84 280.6L334.8 287.9L335.7 295.7L336.13 298.77" fill="none" stroke="#0a7a14" stroke-width="2.4"/><path d="M119.4 437.4L120.4 437.3L121.4 437.3L122.4 437.2L123.3 437.2L124.3 437.1L125.3 437L126.3 437L127.3 436.9L128.2 436.8L129.2 436.7L130.2 436.6L131.2 436.5L132.2 436.3L133.2 436.2L134.2 436.1L135.1 435.9L136.1 435.7L137.1 435.5L138.1 435.3L139.1 435.1L140.1 434.9L141 434.6L142 434.4L143 434.1L144 433.8L145 433.4L145.9 433.1L146.9 432.7L147.9 432.3L148.9 431.8L149.9 431.3L150.9 430.8L151.8 430.3L152.8 429.7L153.8 429.1L154.8 428.5L155.8 427.8L156.8 427.1L157.8 426.3L158.7 425.5L159.7 424.6L160.7 423.7L161.7 422.7L162.7 421.7L163.7 420.7L164.6 419.5L165.6 418.3L166.6 417.1L167.6 415.8L168.6 414.4L169.6 413L170.5 411.5L171.5 409.9L172.5 408.3L173.5 406.6L174.5 404.8L175.4 402.9L176.4 401L177.4 399L178.4 396.9L179.4 394.7L180.4 392.5L181.3 390.2L182.3 387.8L183.3 385.3L184.3 382.7L185.3 380.1L186.3 377.4L187.2 374.6L188.2 371.7L189.2 368.8L190.2 365.8L191.2 362.7L192.2 359.5L193.2 356.3L194.1 353L195.1 349.6L196.1 346.2L197.1 342.7L198.1 339.2L199.1 335.6L200 332L201 328.3L202 324.6L203 320.8L204 317.1L204.9 313.3L205.9 309.4L206.9 305.6L207.9 301.7L208.9 297.9L209.9 294L210.8 290.1L211.8 286.3L212.8 282.4L213.8 278.6L214.8 274.8L215.8 271.1L216.8 267.4L217.7 263.7L218.7 260.1L219.7 256.5L220.7 253L221.7 249.6L222.7 246.2L223.6 242.9L224.6 239.7L225.6 236.5L226.6 233.5L227.6 230.5L228.6 227.6L229.5 224.8L230.5 222.1L231.5 219.5L232.5 217L233.5 214.6L234.4 212.3L235.4 210L236.4 207.9L237.4 205.8L238.4 203.9L239.4 202L240.3 200.2L241.3 198.4L242.3 196.8L243.3 195.1L244.3 193.6L245.3 192L246.2 190.5L247.2 189L248.2 187.7L249.2 186.4L250.2 185.2L251.2 184L252.2 182.8L253.1 181.7L254.1 180.4L255.1 179.2L256.1 177.9L257.1 176.5L258.1 175.1L259 173.5L260 171.9L261 170.1L262 168.3L263 166.2L263.9 164.1L264.9 161.8L265.9 159.3L266.9 156.7L267.9 153.9L268.9 151L269.9 147.9L270.8 144.6L271.8 141.2L272.8 137.6L273.8 133.8L274.8 130L275.8 126L276.7 121.9L277.7 117.6L278.7 113.3L279.7 108.9L280.7 104.5L281.6 100L282.6 95.5L283.6 91.1L284.6 86.6L285.6 82.3L286.6 78L287.5 73.8L288.5 69.7L289.5 65.9L290.5 62.2L291.5 58.7L292.5 55.5L293.4 52.6L294.4 49.9L295.4 47.6L296.4 45.7L297.4 44.1L298.4 42.9L299.4 42.1L300.3 41.8L301.3 41.9L302.3 42.4L303.3 43.5L304.3 45L305.2 47L306.2 49.5L307.2 52.5L308.2 55.9L309.2 59.8L310.2 64.1L311.1 68.9L312.1 74.2L313.1 79.9L314.1 86.1L315.1 92.6L316.1 99.6L317 106.9L318 114.5L319 122.5L320 130.8L321 139.3L322 148.1L322.9 157L323.9 166.1L324.9 175.4L325.9 184.7L326.9 194.2L327.9 203.6L328.9 213.1L329.8 222.5L330.8 231.9L331.8 241.3L332.8 250.5L333.8 259.5L334.8 268.5L335.7 277.2L336.7 285.8L337.7 294.1L338.7 302.2L339.7 310.1L340.6 317.7L341.6 325.1L342.6 332.2L343.6 339L344.6 345.5L345.6 351.7L346.5 357.7L347.5 363.3L348.5 368.7L349.5 373.8L350.5 378.6L351.5 383.2L352.4 387.4L353.4 391.4L354.4 395.2L355.4 398.7L356.4 402L357.4 405L358.4 407.9L359.3 410.5L360.3 413L361.3 415.2L362.3 417.3L363.3 419.2L364.2 420.9L365.2 422.5L366.2 424L367.2 425.4L368.2 426.6L369.2 427.7L370.1 428.7L371.1 429.6L372.1 430.5L373.1 431.2L374.1 431.9L375.1 432.5L376 433.1L377 433.6L378 434L379 434.4L380 434.8L381 435.1L382 435.4L382.9 435.6L383.9 435.9L384.9 436.1L385.9 436.3L386.9 436.4L387.9 436.6L388.8 436.7L389.8 436.8L390.8 436.9L391.8 437L392.8 437.1L393.8 437.2L394.7 437.2L395.7 437.3L396.7 437.3L397.7 437.4L398.7 437.4L399.6 437.5L400.6 437.5L401.6 437.5L402.6 437.5L403.6 437.6L404.6 437.6L405.5 437.6L406.5 437.6L407.5 437.6L408.5 437.7L409.5 437.7L410.5 437.7L411.5 437.7L412.4 437.7L413.4 437.7L414.4 437.7" fill="none" stroke="#ff0000" stroke-width="2.6" stroke-linejoin="round"/></g>
<path d="M119.4 437.8V16.4H414.4V437.8" fill="none" stroke="#000" stroke-width="1.8"/>
<path d="M119.4 437.8v10.4M168.6 437.8v6.1M217.7 437.8v10.4M266.9 437.8v6.1M316.1 437.8v10.4M365.2 437.8v6.1M414.4 437.8v10.4" stroke="#000" stroke-width="1.8" fill="none"/>
<text transform="translate(119.4 466)" font-size="16" text-anchor="middle">300</text>
<text transform="translate(217.7 466)" font-size="16" text-anchor="middle">350</text>
<text transform="translate(316.1 466)" font-size="16" text-anchor="middle">400</text>
<text transform="translate(414.4 466)" font-size="16" text-anchor="middle">450</text>
<text transform="translate(122.9 40.7) scale(0.985 1.09)" font-size="22.6" text-anchor="start">P25</text>
<text transform="translate(264.5 499.6)" font-size="16" text-anchor="middle">λ (nm)</text>
<text transform="translate(99.2 220.3) rotate(-90)" font-size="16" text-anchor="middle">dR / dλ (a.u.)</text>
<rect x="635.4" y="11.4" width="294.6" height="419.9" fill="none" stroke="#000" stroke-width="1.8"/>
<g clip-path="url(#fc1)"><path d="M635.4 431.3L635.4 431.1L636.4 431.1L637.4 431.1L638.3 431L639.3 431L640.3 430.9L641.3 430.9L642.3 430.8L643.3 430.8L644.2 430.7L645.2 430.6L646.2 430.6L647.2 430.5L648.2 430.4L649.1 430.2L650.1 430.1L651.1 430L652.1 429.8L653.1 429.6L654.1 429.4L655 429.2L656 429L657 428.7L658 428.5L659 428.1L659.9 427.8L660.9 427.4L661.9 427L662.9 426.6L663.9 426.1L664.9 425.6L665.8 425L666.8 424.4L667.8 423.7L668.8 423L669.8 422.2L670.8 421.3L671.7 420.4L672.7 419.4L673.7 418.3L674.7 417.2L675.7 415.9L676.6 414.6L677.6 413.2L678.6 411.7L679.6 410.1L680.6 408.4L681.6 406.6L682.5 404.6L683.5 402.6L684.5 400.4L685.5 398.1L686.5 395.6L687.4 393.1L688.4 390.3L689.4 387.5L690.4 384.5L691.4 381.3L692.4 378L693.3 374.6L694.3 371L695.3 367.2L696.3 363.3L697.3 359.2L698.2 355L699.2 350.6L700.2 346.1L701.2 341.4L702.2 336.5L703.2 331.5L704.1 326.4L705.1 321.1L706.1 315.6L707.1 310.1L708.1 304.4L709 298.6L710 292.7L711 286.6L712 280.5L713 274.3L714 268L714.9 264L715.9 264L716.9 264L717.9 264L718.9 264L719.9 264L720.8 264L721.8 264L722.8 264L723.8 264L724.8 264L725.7 264L726.7 264L727.7 264L728.7 264L729.7 264L730.7 264L731.6 264L732.6 264L733.6 264L734.6 264L735.6 264L736.5 264L737.5 264L738.5 264L739.5 264L740.5 264L741.5 264L742.4 264L743.4 264L744.4 264L745.4 264L746.4 264L747.3 264L748.3 264L749.3 264L750.3 264L751.3 264L752.3 264L753.2 264L754.2 264L755.2 264L756.2 264L757.2 264L758.1 264L759.1 264L760.1 264L761.1 264L762.1 264L763.1 264L764 264L765 264L766 264L767 264L768 264L769 264L769.9 264L770.9 264L771.9 264L772.9 264L773.9 264L774.8 264L775.8 264L776.8 264L777.8 264L778.8 264L779.8 264L780.7 264L781.7 264L782.7 264L783.7 264L784.7 264L785.6 264L786.6 264L787.6 264L788.6 264L789.6 264L790.6 264.9L791.5 270.7L792.5 276.4L793.5 282L794.5 287.6L795.5 293L796.4 298.4L797.4 303.7L798.4 308.9L799.4 313.9L800.4 318.8L801.4 323.7L802.3 328.4L803.3 332.9L804.3 337.4L805.3 341.7L806.3 345.9L807.2 350L808.2 353.9L809.2 357.7L810.2 361.4L811.2 365L812.2 368.4L813.1 371.7L814.1 374.9L815.1 377.9L816.1 380.8L817.1 383.6L818.1 386.3L819 388.9L820 391.4L821 393.7L822 395.9L823 398.1L823.9 400.1L824.9 402L825.9 403.8L826.9 405.6L827.9 407.2L828.9 408.8L829.8 410.3L830.8 411.7L831.8 413L832.8 414.2L833.8 415.4L834.7 416.5L835.7 417.5L836.7 418.5L837.7 419.4L838.7 420.3L839.7 421.1L840.6 421.9L841.6 422.6L842.6 423.2L843.6 423.8L844.6 424.4L845.5 424.9L846.5 425.4L847.5 425.9L848.5 426.3L849.5 426.7L850.5 427.1L851.4 427.5L852.4 427.8L853.4 428.1L854.4 428.3L855.4 428.6L856.4 428.8L857.3 429L858.3 429.2L859.3 429.4L860.3 429.6L861.3 429.7L862.2 429.9L863.2 430L864.2 430.1L865.2 430.2L866.2 430.3L867.2 430.4L868.1 430.5L869.1 430.6L870.1 430.7L871.1 430.7L872.1 430.8L873 430.8L874 430.9L875 430.9L876 431L877 431L878 431L878.9 431L879.9 431.1L880.9 431.1L881.9 431.1L882.9 431.1L883.8 431.2L884.8 431.2L885.8 431.2L886.8 431.2L887.8 431.2L888.8 431.2L889.7 431.2L890.7 431.2L891.7 431.2L892.7 431.2L893.7 431.3L894.6 431.3L895.6 431.3L896.6 431.3L897.6 431.3L898.6 431.3L899.6 431.3L900.5 431.3L901.5 431.3L902.5 431.3L903.5 431.3L904.5 431.3L905.5 431.3L906.4 431.3L907.4 431.3L908.4 431.3L909.4 431.3L910.4 431.3L911.3 431.3L912.3 431.3L913.3 431.3L914.3 431.3L915.3 431.3L916.3 431.3L917.2 431.3L918.2 431.3L919.2 431.3L920.2 431.3L921.2 431.3L922.1 431.3L923.1 431.3L924.1 431.3L925.1 431.3L926.1 431.3L927.1 431.3L928 431.3L929 431.3L930 431.3L930 431.3Z" fill="#00ffff"/><g clip-path="url(#h1A0)" fill="none" stroke="#000" stroke-width="1.1"><path d="M635.4 12.6L930 -282M635.4 20.7L930 -273.9M635.4 45L930 -249.6M635.4 53.1L930 -241.5M635.4 77.4L930 -217.2M635.4 85.5L930 -209.1M635.4 109.8L930 -184.8M635.4 117.9L930 -176.7M635.4 142.2L930 -152.4M635.4 150.3L930 -144.3M635.4 174.6L930 -120M635.4 182.7L930 -111.9M635.4 207L930 -87.6M635.4 215.1L930 -79.5M635.4 239.4L930 -55.2M635.4 247.5L930 -47.1M635.4 271.8L930 -22.8M635.4 279.9L930 -14.7M635.4 304.2L930 9.6M635.4 312.3L930 17.7M635.4 336.6L930 42M635.4 344.7L930 50.1M635.4 369L930 74.4M635.4 377.1L930 82.5M635.4 401.4L930 106.8M635.4 409.5L930 114.9M635.4 433.8L930 139.2M635.4 441.9L930 147.3M635.4 466.2L930 171.6M635.4 474.3L930 179.7M635.4 498.6L930 204M635.4 506.7L930 212.1M635.4 531L930 236.4M635.4 539.1L930 244.5M635.4 563.4L930 268.8M635.4 571.5L930 276.9M635.4 595.8L930 301.2M635.4 603.9L930 309.3M635.4 628.2L930 333.6M635.4 636.3L930 341.7M635.4 660.6L930 366M635.4 668.7L930 374.1M635.4 693L930 398.4M635.4 701.1L930 406.5M635.4 725.4L930 430.8" mask="url(#m1A0a)"/><path d="M635.4 4.5L930 -290.1M635.4 28.8L930 -265.8M635.4 36.9L930 -257.7M635.4 61.2L930 -233.4M635.4 69.3L930 -225.3M635.4 93.6L930 -201M635.4 101.7L930 -192.9M635.4 126L930 -168.6M635.4 134.1L930 -160.5M635.4 158.4L930 -136.2M635.4 166.5L930 -128.1M635.4 190.8L930 -103.8M635.4 198.9L930 -95.7M635.4 223.2L930 -71.4M635.4 231.3L930 -63.3M635.4 255.6L930 -39M635.4 263.7L930 -30.9M635.4 288L930 -6.6M635.4 296.1L930 1.5M635.4 320.4L930 25.8M635.4 328.5L930 33.9M635.4 352.8L930 58.2M635.4 360.9L930 66.3M635.4 385.2L930 90.6M635.4 393.3L930 98.7M635.4 417.6L930 123M635.4 425.7L930 131.1M635.4 450L930 155.4M635.4 458.1L930 163.5M635.4 482.4L930 187.8M635.4 490.5L930 195.9M635.4 514.8L930 220.2M635.4 522.9L930 228.3M635.4 547.2L930 252.6M635.4 555.3L930 260.7M635.4 579.6L930 285M635.4 587.7L930 293.1M635.4 612L930 317.4M635.4 620.1L930 325.5M635.4 644.4L930 349.8M635.4 652.5L930 357.9M635.4 676.8L930 382.2M635.4 684.9L930 390.3M635.4 709.2L930 414.6M635.4 717.3L930 422.7" mask="url(#m1A0b)"/></g><g clip-path="url(#h1B0)" fill="none" stroke="#000" stroke-width="1.1"><path d="M635.4 14.6L930 -280M635.4 22.7L930 -271.9M635.4 47L930 -247.6M635.4 55.1L930 -239.5M635.4 79.4L930 -215.2M635.4 87.5L930 -207.1M635.4 111.8L930 -182.8M635.4 119.9L930 -174.7M635.4 144.2L930 -150.4M635.4 152.3L930 -142.3M635.4 176.6L930 -118M635.4 184.7L930 -109.9M635.4 209L930 -85.6M635.4 217.1L930 -77.5M635.4 241.4L930 -53.2M635.4 249.5L930 -45.1M635.4 273.8L930 -20.8M635.4 281.9L930 -12.7M635.4 306.2L930 11.6M635.4 314.3L930 19.7M635.4 338.6L930 44M635.4 346.7L930 52.1M635.4 371L930 76.4M635.4 379.1L930 84.5M635.4 403.4L930 108.8M635.4 411.5L930 116.9M635.4 435.8L930 141.2M635.4 443.9L930 149.3M635.4 468.2L930 173.6M635.4 476.3L930 181.7M635.4 500.6L930 206M635.4 508.7L930 214.1M635.4 533L930 238.4M635.4 541.1L930 246.5M635.4 565.4L930 270.8M635.4 573.5L930 278.9M635.4 597.8L930 303.2M635.4 605.9L930 311.3M635.4 630.2L930 335.6M635.4 638.3L930 343.7M635.4 662.6L930 368M635.4 670.7L930 376.1M635.4 695L930 400.4M635.4 703.1L930 408.5" mask="url(#m1B0a)"/><path d="M635.4 6.5L930 -288.1M635.4 30.8L930 -263.8M635.4 38.9L930 -255.7M635.4 63.2L930 -231.4M635.4 71.3L930 -223.3M635.4 95.6L930 -199M635.4 103.7L930 -190.9M635.4 128L930 -166.6M635.4 136.1L930 -158.5M635.4 160.4L930 -134.2M635.4 168.5L930 -126.1M635.4 192.8L930 -101.8M635.4 200.9L930 -93.7M635.4 225.2L930 -69.4M635.4 233.3L930 -61.3M635.4 257.6L930 -37M635.4 265.7L930 -28.9M635.4 290L930 -4.6M635.4 298.1L930 3.5M635.4 322.4L930 27.8M635.4 330.5L930 35.9M635.4 354.8L930 60.2M635.4 362.9L930 68.3M635.4 387.2L930 92.6M635.4 395.3L930 100.7M635.4 419.6L930 125M635.4 427.7L930 133.1M635.4 452L930 157.4M635.4 460.1L930 165.5M635.4 484.4L930 189.8M635.4 492.5L930 197.9M635.4 516.8L930 222.2M635.4 524.9L930 230.3M635.4 549.2L930 254.6M635.4 557.3L930 262.7M635.4 581.6L930 287M635.4 589.7L930 295.1M635.4 614L930 319.4M635.4 622.1L930 327.5M635.4 646.4L930 351.8M635.4 654.5L930 359.9M635.4 678.8L930 384.2M635.4 686.9L930 392.3M635.4 711.2L930 416.6M635.4 719.3L930 424.7" mask="url(#m1B0b)"/></g><path d="M635.4 431.3L635.4 431.3L636.4 431.3L637.4 431.3L638.3 431.3L639.3 431.3L640.3 431.3L641.3 431.3L642.3 431.3L643.3 431.3L644.2 431.3L645.2 431.3L646.2 431.3L647.2 431.3L648.2 431.3L649.1 431.3L650.1 431.3L651.1 431.3L652.1 431.3L653.1 431.3L654.1 431.3L655 431.3L656 431.3L657 431.3L658 431.3L659 431.3L659.9 431.3L660.9 431.3L661.9 431.3L662.9 431.3L663.9 431.3L664.9 431.3L665.8 431.3L666.8 431.3L667.8 431.3L668.8 431.3L669.8 431.3L670.8 431.3L671.7 431.3L672.7 431.3L673.7 431.3L674.7 431.3L675.7 431.3L676.6 431.3L677.6 431.3L678.6 431.3L679.6 431.3L680.6 431.3L681.6 431.3L682.5 431.3L683.5 431.3L684.5 431.3L685.5 431.3L686.5 431.3L687.4 431.3L688.4 431.3L689.4 431.3L690.4 431.3L691.4 431.3L692.4 431.3L693.3 431.3L694.3 431.3L695.3 431.3L696.3 431.3L697.3 431.3L698.2 431.3L699.2 431.2L700.2 431.2L701.2 431.2L702.2 431.2L703.2 431.2L704.1 431.2L705.1 431.2L706.1 431.1L707.1 431.1L708.1 431.1L709 431L710 431L711 430.9L712 430.9L713 430.8L714 430.8L714.9 430.7L715.9 430.6L716.9 430.5L717.9 430.4L718.9 430.2L719.9 430.1L720.8 429.9L721.8 429.7L722.8 429.5L723.8 429.2L724.8 429L725.7 428.7L726.7 428.3L727.7 428L728.7 427.6L729.7 427.1L730.7 426.6L731.6 426.1L732.6 425.5L733.6 424.8L734.6 424.1L735.6 423.3L736.5 422.5L737.5 421.6L738.5 420.6L739.5 419.5L740.5 418.3L741.5 417.1L742.4 415.7L743.4 414.3L744.4 412.7L745.4 411.1L746.4 409.3L747.3 407.4L748.3 405.4L749.3 403.3L750.3 401L751.3 398.7L752.3 396.2L753.2 393.6L754.2 390.8L755.2 388L756.2 385L757.2 381.8L758.1 378.6L759.1 375.2L760.1 371.7L761.1 368.2L762.1 364.5L763.1 360.6L764 356.7L765 352.8L766 348.7L767 345.1L768 345.1L769 345.1L769.9 345.1L770.9 345.1L771.9 345.1L772.9 345.1L773.9 345.1L774.8 345.1L775.8 345.1L776.8 345.1L777.8 345.1L778.8 345.1L779.8 345.1L780.7 345.1L781.7 345.1L782.7 345.1L783.7 345.1L784.7 345.1L785.6 345.1L786.6 345.1L787.6 345.1L788.6 345.1L789.6 345.1L790.6 345.1L791.5 345.1L792.5 345.1L793.5 345.1L794.5 345.1L795.5 345.1L796.4 345.1L797.4 345.1L798.4 345.1L799.4 345.1L800.4 345.1L801.4 345.1L802.3 345.1L803.3 345.1L804.3 345.1L805.3 345.1L806.3 345.1L807.2 345.1L808.2 345.1L809.2 345.1L810.2 345.1L811.2 345.1L812.2 345.1L813.1 345.1L814.1 345.1L815.1 345.1L816.1 345.1L817.1 345.1L818.1 345.1L819 345.1L820 345.1L821 345.1L822 345.1L823 345.1L823.9 345.1L824.9 345.1L825.9 345.1L826.9 345.1L827.9 345.1L828.9 345.1L829.8 345.1L830.8 345.1L831.8 345.1L832.8 345.1L833.8 345.1L834.7 345.1L835.7 345.1L836.7 345.6L837.7 349.8L838.7 353.9L839.7 358L840.6 362L841.6 365.8L842.6 369.6L843.6 373.2L844.6 376.8L845.5 380.2L846.5 383.4L847.5 386.6L848.5 389.6L849.5 392.5L850.5 395.3L851.4 397.9L852.4 400.4L853.4 402.7L854.4 405L855.4 407.1L856.4 409L857.3 410.9L858.3 412.6L859.3 414.2L860.3 415.8L861.3 417.2L862.2 418.5L863.2 419.7L864.2 420.8L865.2 421.8L866.2 422.7L867.2 423.6L868.1 424.4L869.1 425.1L870.1 425.8L871.1 426.4L872.1 426.9L873 427.4L874 427.9L875 428.3L876 428.6L877 428.9L878 429.2L878.9 429.5L879.9 429.7L880.9 429.9L881.9 430.1L882.9 430.2L883.8 430.4L884.8 430.5L885.8 430.6L886.8 430.7L887.8 430.8L888.8 430.9L889.7 430.9L890.7 431L891.7 431L892.7 431.1L893.7 431.1L894.6 431.1L895.6 431.2L896.6 431.2L897.6 431.2L898.6 431.2L899.6 431.2L900.5 431.2L901.5 431.3L902.5 431.3L903.5 431.3L904.5 431.3L905.5 431.3L906.4 431.3L907.4 431.3L908.4 431.3L909.4 431.3L910.4 431.3L911.3 431.3L912.3 431.3L913.3 431.3L914.3 431.3L915.3 431.3L916.3 431.3L917.2 431.3L918.2 431.3L919.2 431.3L920.2 431.3L921.2 431.3L922.1 431.3L923.1 431.3L924.1 431.3L925.1 431.3L926.1 431.3L927.1 431.3L928 431.3L929 431.3L930 431.3L930 431.3Z" fill="#00ff00"/><g clip-path="url(#h1C0)" fill="none" stroke="#000" stroke-width="1.1"><path d="M635.4 5.6L930 -289M635.4 13.6L930 -281M635.4 37.6L930 -257M635.4 45.6L930 -249M635.4 69.6L930 -225M635.4 77.6L930 -217M635.4 101.6L930 -193M635.4 109.6L930 -185M635.4 133.6L930 -161M635.4 141.6L930 -153M635.4 165.6L930 -129M635.4 173.6L930 -121M635.4 197.6L930 -97M635.4 205.6L930 -89M635.4 229.6L930 -65M635.4 237.6L930 -57M635.4 261.6L930 -33M635.4 269.6L930 -25M635.4 293.6L930 -1M635.4 301.6L930 7M635.4 325.6L930 31M635.4 333.6L930 39M635.4 357.6L930 63M635.4 365.6L930 71M635.4 389.6L930 95M635.4 397.6L930 103M635.4 421.6L930 127M635.4 429.6L930 135M635.4 453.6L930 159M635.4 461.6L930 167M635.4 485.6L930 191M635.4 493.6L930 199M635.4 517.6L930 223M635.4 525.6L930 231M635.4 549.6L930 255M635.4 557.6L930 263M635.4 581.6L930 287M635.4 589.6L930 295M635.4 613.6L930 319M635.4 621.6L930 327M635.4 645.6L930 351M635.4 653.6L930 359M635.4 677.6L930 383M635.4 685.6L930 391M635.4 709.6L930 415M635.4 717.6L930 423" mask="url(#m1C0a)"/><path d="M635.4 21.6L930 -273M635.4 29.6L930 -265M635.4 53.6L930 -241M635.4 61.6L930 -233M635.4 85.6L930 -209M635.4 93.6L930 -201M635.4 117.6L930 -177M635.4 125.6L930 -169M635.4 149.6L930 -145M635.4 157.6L930 -137M635.4 181.6L930 -113M635.4 189.6L930 -105M635.4 213.6L930 -81M635.4 221.6L930 -73M635.4 245.6L930 -49M635.4 253.6L930 -41M635.4 277.6L930 -17M635.4 285.6L930 -9M635.4 309.6L930 15M635.4 317.6L930 23M635.4 341.6L930 47M635.4 349.6L930 55M635.4 373.6L930 79M635.4 381.6L930 87M635.4 405.6L930 111M635.4 413.6L930 119M635.4 437.6L930 143M635.4 445.6L930 151M635.4 469.6L930 175M635.4 477.6L930 183M635.4 501.6L930 207M635.4 509.6L930 215M635.4 533.6L930 239M635.4 541.6L930 247M635.4 565.6L930 271M635.4 573.6L930 279M635.4 597.6L930 303M635.4 605.6L930 311M635.4 629.6L930 335M635.4 637.6L930 343M635.4 661.6L930 367M635.4 669.6L930 375M635.4 693.6L930 399M635.4 701.6L930 407M635.4 725.6L930 431" mask="url(#m1C0b)"/></g><g clip-path="url(#h1D0)" fill="none" stroke="#000" stroke-width="1.1"><path d="M635.4 6L930 -288.6M635.4 23.1L930 -271.5M635.4 28.8L930 -265.8M635.4 34.5L930 -260.1M635.4 51.6L930 -243M635.4 57.3L930 -237.3M635.4 63L930 -231.6M635.4 80.1L930 -214.5M635.4 85.8L930 -208.8M635.4 91.5L930 -203.1M635.4 108.6L930 -186M635.4 114.3L930 -180.3M635.4 120L930 -174.6M635.4 137.1L930 -157.5M635.4 142.8L930 -151.8M635.4 148.5L930 -146.1M635.4 165.6L930 -129M635.4 171.3L930 -123.3M635.4 177L930 -117.6M635.4 194.1L930 -100.5M635.4 199.8L930 -94.8M635.4 205.5L930 -89.1M635.4 222.6L930 -72M635.4 228.3L930 -66.3M635.4 234L930 -60.6M635.4 251.1L930 -43.5M635.4 256.8L930 -37.8M635.4 262.5L930 -32.1M635.4 279.6L930 -15M635.4 285.3L930 -9.3M635.4 291L930 -3.6M635.4 308.1L930 13.5M635.4 313.8L930 19.2M635.4 319.5L930 24.9M635.4 336.6L930 42M635.4 342.3L930 47.7M635.4 348L930 53.4M635.4 365.1L930 70.5M635.4 370.8L930 76.2M635.4 376.5L930 81.9M635.4 393.6L930 99M635.4 399.3L930 104.7M635.4 405L930 110.4M635.4 422.1L930 127.5M635.4 427.8L930 133.2M635.4 433.5L930 138.9M635.4 450.6L930 156M635.4 456.3L930 161.7M635.4 462L930 167.4M635.4 479.1L930 184.5M635.4 484.8L930 190.2M635.4 490.5L930 195.9M635.4 507.6L930 213M635.4 513.3L930 218.7M635.4 519L930 224.4M635.4 536.1L930 241.5M635.4 541.8L930 247.2M635.4 547.5L930 252.9M635.4 564.6L930 270M635.4 570.3L930 275.7M635.4 576L930 281.4M635.4 593.1L930 298.5M635.4 598.8L930 304.2M635.4 604.5L930 309.9M635.4 621.6L930 327M635.4 627.3L930 332.7M635.4 633L930 338.4M635.4 650.1L930 355.5M635.4 655.8L930 361.2M635.4 661.5L930 366.9M635.4 678.6L930 384M635.4 684.3L930 389.7M635.4 690L930 395.4M635.4 707.1L930 412.5M635.4 712.8L930 418.2M635.4 718.5L930 423.9" mask="url(#m1D0a)"/><path d="M635.4 11.7L930 -282.9M635.4 17.4L930 -277.2M635.4 40.2L930 -254.4M635.4 45.9L930 -248.7M635.4 68.7L930 -225.9M635.4 74.4L930 -220.2M635.4 97.2L930 -197.4M635.4 102.9L930 -191.7M635.4 125.7L930 -168.9M635.4 131.4L930 -163.2M635.4 154.2L930 -140.4M635.4 159.9L930 -134.7M635.4 182.7L930 -111.9M635.4 188.4L930 -106.2M635.4 211.2L930 -83.4M635.4 216.9L930 -77.7M635.4 239.7L930 -54.9M635.4 245.4L930 -49.2M635.4 268.2L930 -26.4M635.4 273.9L930 -20.7M635.4 296.7L930 2.1M635.4 302.4L930 7.8M635.4 325.2L930 30.6M635.4 330.9L930 36.3M635.4 353.7L930 59.1M635.4 359.4L930 64.8M635.4 382.2L930 87.6M635.4 387.9L930 93.3M635.4 410.7L930 116.1M635.4 416.4L930 121.8M635.4 439.2L930 144.6M635.4 444.9L930 150.3M635.4 467.7L930 173.1M635.4 473.4L930 178.8M635.4 496.2L930 201.6M635.4 501.9L930 207.3M635.4 524.7L930 230.1M635.4 530.4L930 235.8M635.4 553.2L930 258.6M635.4 558.9L930 264.3M635.4 581.7L930 287.1M635.4 587.4L930 292.8M635.4 610.2L930 315.6M635.4 615.9L930 321.3M635.4 638.7L930 344.1M635.4 644.4L930 349.8M635.4 667.2L930 372.6M635.4 672.9L930 378.3M635.4 695.7L930 401.1M635.4 701.4L930 406.8M635.4 724.2L930 429.6" mask="url(#m1D0b)"/></g><path d="M714.58 264L714.9 261.7L715.9 255.2L716.9 248.8L717.9 242.3L718.9 235.8L719.9 229.3L720.8 222.8L721.8 216.3L722.8 209.9L723.8 203.5L724.8 197.2L725.7 190.9L726.7 184.7L727.7 178.7L728.7 172.8L729.7 167L730.7 161.3L731.6 155.8L732.6 150.5L733.6 145.4L734.6 140.5L735.6 135.8L736.5 131.3L737.5 127.1L738.5 123.1L739.5 119.4L740.5 115.9L741.5 112.7L742.4 109.8L743.4 107.2L744.4 104.8L745.4 102.7L746.4 101L747.3 99.5L748.3 98.3L749.3 97.4L750.3 96.7L751.3 96.4L752.3 96.3L753.2 96.5L754.2 97L755.2 97.8L756.2 99L757.2 100.5L758.1 102.3L759.1 104.4L760.1 106.8L761.1 109.5L762.1 112.4L763.1 115.6L764 119L765 122.7L766 126.6L767 130.8L768 135.1L769 139.7L769.9 144.4L770.9 149.3L771.9 154.4L772.9 159.6L773.9 164.9L774.8 170.4L775.8 176L776.8 181.7L777.8 187.4L778.8 193.3L779.8 199.2L780.7 205.1L781.7 211.1L782.7 217.1L783.7 223.1L784.7 229.2L785.6 235.2L786.6 241.2L787.6 247.2L788.6 253.1L789.6 259L790.41 264" fill="none" stroke="#0000ff" stroke-width="2.5"/><path d="M766.86 345.1L767 344.6L768 340.3L769 336.1L769.9 331.8L770.9 327.5L771.9 323.1L772.9 318.8L773.9 314.4L774.8 310.1L775.8 305.8L776.8 301.5L777.8 297.3L778.8 293.2L779.8 289.2L780.7 285.2L781.7 281.4L782.7 277.7L783.7 274.1L784.7 270.7L785.6 267.4L786.6 264.3L787.6 261.4L788.6 258.6L789.6 256.1L790.6 253.8L791.5 251.6L792.5 249.7L793.5 248L794.5 246.5L795.5 245.3L796.4 244.2L797.4 243.4L798.4 242.7L799.4 242.3L800.4 242.1L801.4 242L802.3 242L803.3 242.2L804.3 242.6L805.3 243.1L806.3 243.8L807.2 244.6L808.2 245.7L809.2 247L810.2 248.5L811.2 250.2L812.2 252.1L813.1 254.3L814.1 256.6L815.1 259.1L816.1 261.8L817.1 264.7L818.1 267.8L819 271.1L820 274.5L821 278L822 281.7L823 285.6L823.9 289.5L824.9 293.6L825.9 297.8L826.9 302L827.9 306.3L828.9 310.6L829.8 315L830.8 319.4L831.8 323.8L832.8 328.2L833.8 332.6L834.7 337L835.7 341.3L836.6 345.1" fill="none" stroke="#0a7a14" stroke-width="2.4"/><path d="M635.4 431.1L636.4 431.1L637.4 431.1L638.3 431L639.3 431L640.3 430.9L641.3 430.9L642.3 430.8L643.3 430.8L644.2 430.7L645.2 430.6L646.2 430.6L647.2 430.5L648.2 430.4L649.1 430.2L650.1 430.1L651.1 430L652.1 429.8L653.1 429.6L654.1 429.4L655 429.2L656 429L657 428.7L658 428.5L659 428.1L659.9 427.8L660.9 427.4L661.9 427L662.9 426.6L663.9 426.1L664.9 425.6L665.8 425L666.8 424.4L667.8 423.7L668.8 423L669.8 422.2L670.8 421.3L671.7 420.4L672.7 419.4L673.7 418.3L674.7 417.2L675.7 415.9L676.6 414.6L677.6 413.2L678.6 411.7L679.6 410.1L680.6 408.4L681.6 406.6L682.5 404.6L683.5 402.6L684.5 400.4L685.5 398.1L686.5 395.6L687.4 393.1L688.4 390.3L689.4 387.5L690.4 384.5L691.4 381.3L692.4 378L693.3 374.6L694.3 371L695.3 367.2L696.3 363.3L697.3 359.2L698.2 355L699.2 350.6L700.2 346L701.2 341.3L702.2 336.4L703.2 331.4L704.1 326.2L705.1 320.9L706.1 315.5L707.1 309.9L708.1 304.2L709 298.3L710 292.3L711 286.3L712 280.1L713 273.8L714 267.5L714.9 261L715.9 254.5L716.9 248L717.9 241.4L718.9 234.7L719.9 228.1L720.8 221.4L721.8 214.7L722.8 208.1L723.8 201.4L724.8 194.8L725.7 188.3L726.7 181.8L727.7 175.4L728.7 169L729.7 162.8L730.7 156.6L731.6 150.6L732.6 144.7L733.6 139L734.6 133.3L735.6 127.9L736.5 122.5L737.5 117.4L738.5 112.4L739.5 107.6L740.5 102.9L741.5 98.5L742.4 94.2L743.4 90.1L744.4 86.2L745.4 82.5L746.4 78.9L747.3 75.6L748.3 72.4L749.3 69.4L750.3 66.5L751.3 63.8L752.3 61.2L753.2 58.7L754.2 56.5L755.2 54.5L756.2 52.7L757.2 51.1L758.1 49.6L759.1 48.3L760.1 47.2L761.1 46.3L762.1 45.5L763.1 44.9L764 44.5L765 44.2L766 44L767 44L768 44.2L769 44.5L769.9 44.9L770.9 45.5L771.9 46.2L772.9 47L773.9 48L774.8 49.2L775.8 50.5L776.8 51.9L777.8 53.5L778.8 55.2L779.8 57L780.7 59L781.7 61.2L782.7 63.5L783.7 65.9L784.7 68.5L785.6 71.3L786.6 74.2L787.6 77.3L788.6 80.5L789.6 83.8L790.6 87.4L791.5 91L792.5 94.8L793.5 98.7L794.5 102.8L795.5 107L796.4 111.3L797.4 115.7L798.4 120.3L799.4 124.9L800.4 129.6L801.4 134.4L802.3 139.1L803.3 143.9L804.3 148.6L805.3 153.5L806.3 158.4L807.2 163.3L808.2 168.4L809.2 173.5L810.2 178.6L811.2 183.9L812.2 189.2L813.1 194.7L814.1 200.1L815.1 205.7L816.1 211.4L817.1 217.1L818.1 222.8L819 228.7L820 234.5L821 240.4L822 246.4L823 252.3L823.9 258.3L824.9 264.3L825.9 270.3L826.9 276.3L827.9 282.2L828.9 288.1L829.8 294L830.8 299.8L831.8 305.5L832.8 311.2L833.8 316.7L834.7 322.2L835.7 327.6L836.7 332.8L837.7 337.9L838.7 342.9L839.7 347.8L840.6 352.5L841.6 357.1L842.6 361.5L843.6 365.8L844.6 369.9L845.5 373.8L846.5 377.6L847.5 381.2L848.5 384.7L849.5 387.9L850.5 391.1L851.4 394L852.4 396.8L853.4 399.5L854.4 402L855.4 404.4L856.4 406.6L857.3 408.6L858.3 410.6L859.3 412.4L860.3 414L861.3 415.6L862.2 417L863.2 418.4L864.2 419.6L865.2 420.7L866.2 421.8L867.2 422.7L868.1 423.6L869.1 424.4L870.1 425.1L871.1 425.8L872.1 426.4L873 426.9L874 427.4L875 427.9L876 428.3L877 428.6L878 428.9L878.9 429.2L879.9 429.5L880.9 429.7L881.9 429.9L882.9 430.1L883.8 430.2L884.8 430.4L885.8 430.5L886.8 430.6L887.8 430.7L888.8 430.8L889.7 430.9L890.7 430.9L891.7 431L892.7 431L893.7 431.1L894.6 431.1L895.6 431.1L896.6 431.1L897.6 431.2L898.6 431.2L899.6 431.2L900.5 431.2L901.5 431.2L902.5 431.2L903.5 431.3L904.5 431.3L905.5 431.3L906.4 431.3L907.4 431.3L908.4 431.3L909.4 431.3L910.4 431.3L911.3 431.3L912.3 431.3L913.3 431.3L914.3 431.3L915.3 431.3L916.3 431.3L917.2 431.3L918.2 431.3L919.2 431.3L920.2 431.3L921.2 431.3L922.1 431.3L923.1 431.3L924.1 431.3L925.1 431.3L926.1 431.3L927.1 431.3L928 431.3L929 431.3L930 431.3" fill="none" stroke="#ff0000" stroke-width="2.6" stroke-linejoin="round"/></g>
<path d="M635.4 431.3V11.4H930V431.3" fill="none" stroke="#000" stroke-width="1.8"/>
<path d="M635.4 431.3v10.4M684.5 431.3v6.1M733.6 431.3v10.4M782.7 431.3v6.1M831.8 431.3v10.4M880.9 431.3v6.1M930 431.3v10.4" stroke="#000" stroke-width="1.8" fill="none"/>
<text transform="translate(635.4 458.6)" font-size="16" text-anchor="middle">300</text>
<text transform="translate(733.6 458.6)" font-size="16" text-anchor="middle">350</text>
<text transform="translate(831.8 458.6)" font-size="16" text-anchor="middle">400</text>
<text transform="translate(930 458.6)" font-size="16" text-anchor="middle">450</text>
<text transform="translate(639.6 34.8) scale(0.985 1.09)" font-size="22.6" text-anchor="start">P25-R</text>
<text transform="translate(782.5 498.3)" font-size="16" text-anchor="middle">λ (nm)</text>
<text transform="translate(614.6 214.1) rotate(-90)" font-size="16" text-anchor="middle">dR / dλ (a.u.)</text>
<rect x="36.9" y="513.3" width="275" height="393.3" fill="none" stroke="#000" stroke-width="1.8"/>
<g clip-path="url(#fc2)"><path d="M36.9 843.1L36.9 843.1L37.8 843.1L38.7 843.1L39.6 843.1L40.6 843.1L41.5 843.1L42.4 843.1L43.3 843.1L44.2 843.1L45.1 843.1L46.1 843.1L47 843.1L47.9 843.1L48.8 843.1L49.7 843.1L50.6 843.1L51.6 843.1L52.5 843.1L53.4 843.1L54.3 843.1L55.2 843.1L56.1 843.1L57.1 843.1L58 843.1L58.9 843.1L59.8 843.1L60.7 843.1L61.6 843.1L62.6 843.1L63.5 843.1L64.4 843.1L65.3 843.1L66.2 843.1L67.2 843.1L68.1 843.1L69 843.1L69.9 843.1L70.8 843.1L71.7 843.1L72.7 843.1L73.6 843.1L74.5 843.1L75.4 843.1L76.3 843.1L77.2 843.1L78.2 843.1L79.1 843.1L80 843.1L80.9 843.1L81.8 843.1L82.7 843.1L83.7 843.1L84.6 843.1L85.5 843.1L86.4 843.1L87.3 843.1L88.2 843.1L89.2 843.1L90.1 843.1L91 843.1L91.9 843.1L92.8 843.1L93.7 843.1L94.7 840.2L95.6 836.3L96.5 832.2L97.4 828L98.3 823.7L99.2 819.2L100.2 814.5L101.1 809.8L102 804.8L102.9 799.8L103.8 794.6L104.7 789.3L105.7 783.8L106.6 778.3L107.5 772.6L108.4 766.9L109.3 761L110.2 755L111.2 749L112.1 742.9L113 736.8L113.9 730.6L114.8 724.4L115.7 718.1L116.7 711.8L117.6 705.6L118.5 699.3L119.4 693.1L120.3 686.9L121.2 680.8L122.2 674.7L123.1 668.7L124 662.9L124.9 657.1L125.8 651.5L126.7 645.9L127.7 640.6L128.6 635.4L129.5 630.4L130.4 625.6L131.3 620.9L132.2 616.5L133.2 612.4L134.1 608.4L135 604.7L135.9 601.3L136.8 598.1L137.7 595.2L138.7 592.6L139.6 590.3L140.5 588.2L141.4 586.5L142.3 585L143.2 583.8L144.2 583L145.1 582.4L146 582.1L146.9 582.1L147.8 582.3L148.7 582.9L149.7 583.9L150.6 585.1L151.5 586.6L152.4 588.5L153.3 590.6L154.2 593L155.2 595.7L156.1 598.7L157 601.9L157.9 605.4L158.8 609.2L159.7 613.2L160.7 617.4L161.6 621.8L162.5 626.4L163.4 631.3L164.3 636.2L165.2 641.4L166.2 646.7L167.1 652.2L168 657.7L168.9 663.4L169.8 669.2L170.7 675.1L171.7 681L172.6 687L173.5 693.1L174.4 699.2L175.3 705.2L176.2 711.4L177.2 717.5L178.1 723.5L179 729.6L179.9 735.6L180.8 741.6L181.7 747.5L182.7 753.4L183.6 759.2L184.5 764.9L185.4 770.5L186.3 776L187.2 781.4L188.2 786.7L189.1 791.9L190 796.9L190.9 801.9L191.8 806.7L192.7 811.4L193.7 815.9L194.6 820.4L195.5 824.6L196.4 828.8L197.3 832.8L198.2 836.6L199.2 840.4L200.1 843.1L201 843.1L201.9 843.1L202.8 843.1L203.7 843.1L204.7 843.1L205.6 843.1L206.5 843.1L207.4 843.1L208.3 843.1L209.2 843.1L210.2 843.1L211.1 843.1L212 843.1L212.9 843.1L213.8 843.1L214.7 843.1L215.7 843.1L216.6 843.1L217.5 843.1L218.4 843.1L219.3 843.1L220.2 843.1L221.2 843.1L222.1 843.1L223 843.1L223.9 843.1L224.8 843.1L225.7 843.1L226.7 843.1L227.6 843.1L228.5 843.1L229.4 843.1L230.3 843.1L231.2 843.1L232.2 843.1L233.1 843.1L234 843.1L234.9 843.1L235.8 843.1L236.7 843.1L237.7 843.1L238.6 843.1L239.5 843.1L240.4 843.1L241.3 843.1L242.2 843.1L243.2 843.1L244.1 843.1L245 843.1L245.9 843.1L246.8 843.1L247.7 843.1L248.7 843.1L249.6 843.1L250.5 843.1L251.4 843.1L252.3 843.1L253.2 843.1L254.2 843.1L255.1 843.1L256 843.1L256.9 843.1L257.8 843.1L258.7 843.1L259.6 843.1L260.6 843.1L261.5 843.1L262.4 843.1L263.3 843.1L264.2 843.1L265.1 843.1L266.1 843.1L267 843.1L267.9 843.1L268.8 843.1L269.7 843.1L270.6 843.1L271.6 843.1L272.5 843.1L273.4 843.1L274.3 843.1L275.2 843.1L276.1 843.1L277.1 843.1L278 843.1L278.9 843.1L279.8 843.1L280.7 843.1L281.6 843.1L282.6 843.1L283.5 843.1L284.4 843.1L285.3 843.1L286.2 843.1L287.1 843.1L288.1 843.1L289 843.1L289.9 843.1L290.8 843.1L291.7 843.1L292.6 843.1L293.6 843.1L294.5 843.1L295.4 843.1L296.3 843.1L297.2 843.1L298.1 843.1L299.1 843.1L300 843.1L300.9 843.1L301.8 843.1L302.7 843.1L303.6 843.1L304.6 843.1L305.5 843.1L306.4 843.1L307.3 843.1L308.2 843.1L309.1 843.1L310.1 843.1L311 843.1L311.9 843.1L311.9 843.1Z" fill="#00ffff"/><g clip-path="url(#h2A0)" fill="none" stroke="#000" stroke-width="1.1"><path d="M36.9 506.7L311.9 231.7M36.9 514.2L311.9 239.2M36.9 529.4L311.9 254.4M36.9 536.9L311.9 261.9M36.9 552L311.9 277M36.9 559.5L311.9 284.5M36.9 574.6L311.9 299.6M36.9 582.2L311.9 307.2M36.9 597.3L311.9 322.3M36.9 604.9L311.9 329.9M36.9 620L311.9 345M36.9 627.5L311.9 352.5M36.9 642.6L311.9 367.6M36.9 650.1L311.9 375.1M36.9 665.2L311.9 390.2M36.9 672.8L311.9 397.8M36.9 687.9L311.9 412.9M36.9 695.5L311.9 420.5M36.9 710.5L311.9 435.5M36.9 718.1L311.9 443.1M36.9 733.2L311.9 458.2M36.9 740.8L311.9 465.8M36.9 755.9L311.9 480.9M36.9 763.4L311.9 488.4M36.9 778.5L311.9 503.5M36.9 786L311.9 511M36.9 801.1L311.9 526.1M36.9 808.7L311.9 533.7M36.9 823.8L311.9 548.8M36.9 831.4L311.9 556.4M36.9 846.5L311.9 571.5M36.9 854L311.9 579M36.9 869.1L311.9 594.1M36.9 876.6L311.9 601.6M36.9 891.8L311.9 616.8M36.9 899.3L311.9 624.3M36.9 914.4L311.9 639.4M36.9 922L311.9 647M36.9 937L311.9 662M36.9 944.6L311.9 669.6M36.9 959.7L311.9 684.7M36.9 967.2L311.9 692.2M36.9 982.4L311.9 707.4M36.9 989.9L311.9 714.9M36.9 1005L311.9 730M36.9 1012.6L311.9 737.6M36.9 1027.6L311.9 752.6M36.9 1035.2L311.9 760.2M36.9 1050.3L311.9 775.3M36.9 1057.8L311.9 782.9M36.9 1072.9L311.9 797.9M36.9 1080.5L311.9 805.5M36.9 1095.6L311.9 820.6M36.9 1103.1L311.9 828.1M36.9 1118.2L311.9 843.2M36.9 1125.8L311.9 850.8M36.9 1140.9L311.9 865.9M36.9 1148.4L311.9 873.4M36.9 1163.5L311.9 888.6M36.9 1171.1L311.9 896.1" mask="url(#m2A0a)"/><path d="M36.9 521.8L311.9 246.8M36.9 544.5L311.9 269.5M36.9 567.1L311.9 292.1M36.9 589.8L311.9 314.8M36.9 612.4L311.9 337.4M36.9 635L311.9 360M36.9 657.7L311.9 382.7M36.9 680.4L311.9 405.4M36.9 703L311.9 428M36.9 725.6L311.9 450.6M36.9 748.3L311.9 473.3M36.9 771L311.9 496M36.9 793.6L311.9 518.6M36.9 816.2L311.9 541.2M36.9 838.9L311.9 563.9M36.9 861.5L311.9 586.5M36.9 884.2L311.9 609.2M36.9 906.9L311.9 631.9M36.9 929.5L311.9 654.5M36.9 952.1L311.9 677.1M36.9 974.8L311.9 699.8M36.9 997.4L311.9 722.4M36.9 1020.1L311.9 745.1M36.9 1042.7L311.9 767.7M36.9 1065.4L311.9 790.4M36.9 1088L311.9 813.1M36.9 1110.7L311.9 835.7M36.9 1133.3L311.9 858.4M36.9 1156L311.9 881M36.9 1178.6L311.9 903.6" mask="url(#m2A0b)"/></g><g clip-path="url(#h2B0)" fill="none" stroke="#000" stroke-width="1.1"><path d="M36.9 506.7L311.9 231.7M36.9 514.2L311.9 239.2M36.9 529.4L311.9 254.4M36.9 536.9L311.9 261.9M36.9 552L311.9 277M36.9 559.5L311.9 284.5M36.9 574.6L311.9 299.6M36.9 582.2L311.9 307.2M36.9 597.3L311.9 322.3M36.9 604.9L311.9 329.9M36.9 620L311.9 345M36.9 627.5L311.9 352.5M36.9 642.6L311.9 367.6M36.9 650.1L311.9 375.1M36.9 665.2L311.9 390.2M36.9 672.8L311.9 397.8M36.9 687.9L311.9 412.9M36.9 695.5L311.9 420.5M36.9 710.5L311.9 435.5M36.9 718.1L311.9 443.1M36.9 733.2L311.9 458.2M36.9 740.8L311.9 465.8M36.9 755.9L311.9 480.9M36.9 763.4L311.9 488.4M36.9 778.5L311.9 503.5M36.9 786L311.9 511M36.9 801.1L311.9 526.1M36.9 808.7L311.9 533.7M36.9 823.8L311.9 548.8M36.9 831.4L311.9 556.4M36.9 846.5L311.9 571.5M36.9 854L311.9 579M36.9 869.1L311.9 594.1M36.9 876.6L311.9 601.6M36.9 891.8L311.9 616.8M36.9 899.3L311.9 624.3M36.9 914.4L311.9 639.4M36.9 922L311.9 647M36.9 937L311.9 662M36.9 944.6L311.9 669.6M36.9 959.7L311.9 684.7M36.9 967.2L311.9 692.2M36.9 982.4L311.9 707.4M36.9 989.9L311.9 714.9M36.9 1005L311.9 730M36.9 1012.6L311.9 737.6M36.9 1027.6L311.9 752.6M36.9 1035.2L311.9 760.2M36.9 1050.3L311.9 775.3M36.9 1057.8L311.9 782.9M36.9 1072.9L311.9 797.9M36.9 1080.5L311.9 805.5M36.9 1095.6L311.9 820.6M36.9 1103.1L311.9 828.1M36.9 1118.2L311.9 843.2M36.9 1125.8L311.9 850.8M36.9 1140.9L311.9 865.9M36.9 1148.4L311.9 873.4M36.9 1163.5L311.9 888.6M36.9 1171.1L311.9 896.1" mask="url(#m2B0a)"/></g><path d="M141.05 587.11L141.4 586.5L142.3 585L143.2 583.8L144.2 583L145.1 582.4L146 582.1L146.9 582.1L147.8 582.3L148.7 582.9L149.7 583.9L150.6 585.1L151.5 586.6L152.4 588.5L153.3 590.6L154.2 593L155.2 595.7L156.1 598.7L157 601.9L157.9 605.4L158.8 609.2L159.7 613.2L160.7 617.4L161.6 621.8L162.5 626.4L163.4 631.3L164.3 636.2L165.2 641.4L166.2 646.7L167.1 652.2L168 657.7L168.9 663.4L169.8 669.2L170.7 675.1L171.7 681L172.6 687L173.5 693.1L174.4 699.2L175.3 705.2L176.2 711.4L177.2 717.5L178.1 723.5L179 729.6L179.9 735.6L180.8 741.6L181.7 747.5L182.7 753.4L183.6 759.2L184.5 764.9L185.4 770.5L186.3 776L187.2 781.4L188.2 786.7L189.1 791.9L190 796.9L190.9 801.9L191.8 806.7L192.7 811.4L193.7 815.9L194.6 820.4L195.5 824.6L196.4 828.8L197.3 832.8L198.2 836.6L199.2 840.4L199.84 843.1" fill="none" stroke="#0000ff" stroke-width="2.5"/><path transform="translate(-1.3 0)" d="M93.94 843.1L94.7 840.2L95.6 836.3L96.5 832.2L97.4 828L98.3 823.7L99.2 819.2L100.2 814.5L101.1 809.8L102 804.8L102.9 799.8L103.8 794.6L104.7 789.3L105.7 783.8L106.6 778.3L107.5 772.6L108.4 766.9L109.3 761L110.2 755L111.2 749L112.1 742.9L113 736.8L113.9 730.6L114.8 724.4L115.7 718.1L116.7 711.8L117.6 705.6L118.5 699.3L119.4 693.1L120.3 686.9L121.2 680.8L122.2 674.7L123.1 668.7L124 662.9L124.9 657.1L125.8 651.5L126.7 645.9L127.7 640.6L128.6 635.4L129.5 630.4L130.4 625.6L131.3 620.9L132.2 616.5L133.2 612.4L134.1 608.4L135 604.7L135.9 601.3L136.8 598.1L137.7 595.2L138.7 592.6L139.6 590.3L140.5 588.2L141.05 587.11" fill="none" stroke="#0000ff" stroke-width="2.5"/><path d="M36.9 862.2L36.9 862.2L37.8 862.2L38.7 862.2L39.6 862.2L40.6 862.2L41.5 862.2L42.4 862.2L43.3 862.2L44.2 862.2L45.1 862.2L46.1 862.2L47 862.2L47.9 862.2L48.8 862.2L49.7 862.2L50.6 862.2L51.6 862.2L52.5 862.2L53.4 862.2L54.3 862.2L55.2 862.2L56.1 862.2L57.1 862.2L58 862.2L58.9 862.2L59.8 862.2L60.7 862.2L61.6 862.2L62.6 862.2L63.5 862.2L64.4 862.2L65.3 862.2L66.2 862.2L67.2 862.2L68.1 862.2L69 862.2L69.9 862.2L70.8 862.2L71.7 862.2L72.7 862.2L73.6 862.2L74.5 862.2L75.4 862.2L76.3 862.2L77.2 862.2L78.2 862.2L79.1 862.2L80 862.2L80.9 862.2L81.8 862.2L82.7 862.2L83.7 862.2L84.6 862.2L85.5 862.2L86.4 862.2L87.3 862.2L88.2 862.2L89.2 862.2L90.1 862.2L91 862.2L91.9 862.2L92.8 862.2L93.7 862.2L94.7 862.2L95.6 862.2L96.5 862.2L97.4 862.2L98.3 862.2L99.2 862.2L100.2 862.2L101.1 862.2L102 862.2L102.9 862.2L103.8 862.2L104.7 862.2L105.7 862.2L106.6 862.2L107.5 862.2L108.4 862.2L109.3 862.2L110.2 862.2L111.2 862.2L112.1 862.2L113 862.2L113.9 862.2L114.8 862.2L115.7 862.2L116.7 862.2L117.6 862.2L118.5 862.2L119.4 862.2L120.3 862.2L121.2 862.2L122.2 862.2L123.1 862.2L124 862.2L124.9 862.2L125.8 862.2L126.7 862.2L127.7 862.2L128.6 862.2L129.5 862.2L130.4 862.2L131.3 862.2L132.2 862.2L133.2 862.2L134.1 862.2L135 862.2L135.9 862.2L136.8 862.2L137.7 862.2L138.7 862.2L139.6 862.2L140.5 862.2L141.4 862.2L142.3 862.2L143.2 862.2L144.2 862.2L145.1 862.2L146 862.2L146.9 862.2L147.8 862.2L148.7 862.2L149.7 862.2L150.6 862.2L151.5 862.2L152.4 862.2L153.3 862.2L154.2 862.2L155.2 862.2L156.1 862.2L157 862.2L157.9 862.2L158.8 862.2L159.7 862.2L160.7 862.2L161.6 862.2L162.5 862.2L163.4 861.2L164.3 857.4L165.2 853.5L166.2 849.3L167.1 845L168 840.4L168.9 835.6L169.8 830.7L170.7 825.6L171.7 820.2L172.6 814.8L173.5 809.1L174.4 803.3L175.3 797.4L176.2 791.4L177.2 785.3L178.1 779.1L179 772.8L179.9 766.5L180.8 760.2L181.7 753.9L182.7 747.7L183.6 741.5L184.5 735.4L185.4 729.4L186.3 723.6L187.2 717.9L188.2 712.5L189.1 707.3L190 702.3L190.9 697.6L191.8 693.2L192.7 689.2L193.7 685.5L194.6 682.2L195.5 679.2L196.4 676.7L197.3 674.5L198.2 672.8L199.2 671.6L200.1 670.7L201 670.3L201.9 670.4L202.8 670.7L203.7 671.5L204.7 672.6L205.6 674.1L206.5 676.1L207.4 678.4L208.3 681.1L209.2 684.2L210.2 687.6L211.1 691.4L212 695.5L212.9 700L213.8 704.7L214.7 709.8L215.7 715L216.6 720.5L217.5 726.2L218.4 732.1L219.3 738.1L220.2 744.3L221.2 750.5L222.1 756.8L223 763.1L223.9 769.5L224.8 775.8L225.7 782.1L226.7 788.3L227.6 794.5L228.5 800.6L229.4 806.5L230.3 812.3L231.2 818L232.2 823.5L233.1 828.8L234 833.9L234.9 838.9L235.8 843.6L236.7 848.1L237.7 852.4L238.6 856.5L239.5 860.4L240.4 862.2L241.3 862.2L242.2 862.2L243.2 862.2L244.1 862.2L245 862.2L245.9 862.2L246.8 862.2L247.7 862.2L248.7 862.2L249.6 862.2L250.5 862.2L251.4 862.2L252.3 862.2L253.2 862.2L254.2 862.2L255.1 862.2L256 862.2L256.9 862.2L257.8 862.2L258.7 862.2L259.6 862.2L260.6 862.2L261.5 862.2L262.4 862.2L263.3 862.2L264.2 862.2L265.1 862.2L266.1 862.2L267 862.2L267.9 862.2L268.8 862.2L269.7 862.2L270.6 862.2L271.6 862.2L272.5 862.2L273.4 862.2L274.3 862.2L275.2 862.2L276.1 862.2L277.1 862.2L278 862.2L278.9 862.2L279.8 862.2L280.7 862.2L281.6 862.2L282.6 862.2L283.5 862.2L284.4 862.2L285.3 862.2L286.2 862.2L287.1 862.2L288.1 862.2L289 862.2L289.9 862.2L290.8 862.2L291.7 862.2L292.6 862.2L293.6 862.2L294.5 862.2L295.4 862.2L296.3 862.2L297.2 862.2L298.1 862.2L299.1 862.2L300 862.2L300.9 862.2L301.8 862.2L302.7 862.2L303.6 862.2L304.6 862.2L305.5 862.2L306.4 862.2L307.3 862.2L308.2 862.2L309.1 862.2L310.1 862.2L311 862.2L311.9 862.2L311.9 862.2Z" fill="#00ff00"/><g clip-path="url(#h2C0)" fill="none" stroke="#000" stroke-width="1.1"><path d="" mask="url(#m2C0a)"/><path d="M36.9 511.6L311.9 236.6M36.9 516.3L311.9 241.3M36.9 521L311.9 246M36.9 525.7L311.9 250.7M36.9 530.4L311.9 255.4M36.9 535.1L311.9 260.1M36.9 539.8L311.9 264.8M36.9 544.5L311.9 269.5M36.9 549.2L311.9 274.2M36.9 553.9L311.9 278.9M36.9 558.6L311.9 283.6M36.9 563.3L311.9 288.3M36.9 568L311.9 293M36.9 572.7L311.9 297.7M36.9 577.4L311.9 302.4M36.9 582.1L311.9 307.1M36.9 586.8L311.9 311.8M36.9 591.5L311.9 316.5M36.9 596.2L311.9 321.2M36.9 600.9L311.9 325.9M36.9 605.6L311.9 330.6M36.9 610.3L311.9 335.3M36.9 615L311.9 340M36.9 619.7L311.9 344.7M36.9 624.4L311.9 349.4M36.9 629.1L311.9 354.1M36.9 633.8L311.9 358.8M36.9 638.5L311.9 363.5M36.9 643.2L311.9 368.2M36.9 647.9L311.9 372.9M36.9 652.6L311.9 377.6M36.9 657.3L311.9 382.3M36.9 662L311.9 387M36.9 666.7L311.9 391.7M36.9 671.4L311.9 396.4M36.9 676.1L311.9 401.1M36.9 680.8L311.9 405.8M36.9 685.5L311.9 410.5M36.9 690.2L311.9 415.2M36.9 694.9L311.9 419.9M36.9 699.6L311.9 424.6M36.9 704.3L311.9 429.3M36.9 709L311.9 434M36.9 713.7L311.9 438.7M36.9 718.4L311.9 443.4M36.9 723.1L311.9 448.1M36.9 727.8L311.9 452.8M36.9 732.5L311.9 457.5M36.9 737.2L311.9 462.2M36.9 741.9L311.9 466.9M36.9 746.6L311.9 471.6M36.9 751.3L311.9 476.3M36.9 756L311.9 481M36.9 760.7L311.9 485.7M36.9 765.4L311.9 490.4M36.9 770.1L311.9 495.1M36.9 774.8L311.9 499.8M36.9 779.5L311.9 504.5M36.9 784.2L311.9 509.2M36.9 788.9L311.9 513.9M36.9 793.6L311.9 518.6M36.9 798.3L311.9 523.3M36.9 803L311.9 528M36.9 807.7L311.9 532.7M36.9 812.4L311.9 537.4M36.9 817.1L311.9 542.1M36.9 821.8L311.9 546.8M36.9 826.5L311.9 551.5M36.9 831.2L311.9 556.2M36.9 835.9L311.9 560.9M36.9 840.6L311.9 565.6M36.9 845.3L311.9 570.3M36.9 850L311.9 575M36.9 854.7L311.9 579.7M36.9 859.4L311.9 584.4M36.9 864.1L311.9 589.1M36.9 868.8L311.9 593.8M36.9 873.5L311.9 598.5M36.9 878.2L311.9 603.2M36.9 882.9L311.9 607.9M36.9 887.6L311.9 612.6M36.9 892.3L311.9 617.3M36.9 897L311.9 622M36.9 901.7L311.9 626.7M36.9 906.4L311.9 631.4M36.9 911.1L311.9 636.1M36.9 915.8L311.9 640.8M36.9 920.5L311.9 645.5M36.9 925.2L311.9 650.2M36.9 929.9L311.9 654.9M36.9 934.6L311.9 659.6M36.9 939.3L311.9 664.3M36.9 944L311.9 669M36.9 948.7L311.9 673.7M36.9 953.4L311.9 678.4M36.9 958.1L311.9 683.1M36.9 962.8L311.9 687.8M36.9 967.5L311.9 692.5M36.9 972.2L311.9 697.2M36.9 976.9L311.9 701.9M36.9 981.6L311.9 706.6M36.9 986.3L311.9 711.3M36.9 991L311.9 716M36.9 995.7L311.9 720.7M36.9 1000.4L311.9 725.4M36.9 1005.1L311.9 730.1M36.9 1009.8L311.9 734.8M36.9 1014.5L311.9 739.5M36.9 1019.2L311.9 744.2M36.9 1023.9L311.9 748.9M36.9 1028.6L311.9 753.6M36.9 1033.3L311.9 758.3M36.9 1038L311.9 763M36.9 1042.7L311.9 767.7M36.9 1047.4L311.9 772.4M36.9 1052.1L311.9 777.1M36.9 1056.8L311.9 781.8M36.9 1061.5L311.9 786.5M36.9 1066.2L311.9 791.2M36.9 1070.9L311.9 795.9M36.9 1075.6L311.9 800.6M36.9 1080.3L311.9 805.3M36.9 1085L311.9 810M36.9 1089.7L311.9 814.7M36.9 1094.4L311.9 819.4M36.9 1099.1L311.9 824.1M36.9 1103.8L311.9 828.8M36.9 1108.5L311.9 833.5M36.9 1113.2L311.9 838.2M36.9 1117.9L311.9 842.9M36.9 1122.6L311.9 847.6M36.9 1127.3L311.9 852.3M36.9 1132L311.9 857M36.9 1136.7L311.9 861.7M36.9 1141.4L311.9 866.4M36.9 1146.1L311.9 871.1M36.9 1150.8L311.9 875.8M36.9 1155.5L311.9 880.5M36.9 1160.2L311.9 885.2M36.9 1164.9L311.9 889.9M36.9 1169.6L311.9 894.6M36.9 1174.3L311.9 899.3M36.9 1179L311.9 904" mask="url(#m2C0b)"/></g><g clip-path="url(#h2C1)" fill="none" stroke="#000" stroke-width="1.1"><path d="" mask="url(#m2C1a)"/><path d="M36.9 509.1L311.9 234.1M36.9 520.1L311.9 245.1M36.9 531.1L311.9 256.1M36.9 542.1L311.9 267.1M36.9 553.1L311.9 278.1M36.9 564.1L311.9 289.1M36.9 575.1L311.9 300.1M36.9 586.1L311.9 311.1M36.9 597.1L311.9 322.1M36.9 608.1L311.9 333.1M36.9 619.1L311.9 344.1M36.9 630.1L311.9 355.1M36.9 641.1L311.9 366.1M36.9 652.1L311.9 377.1M36.9 663.1L311.9 388.1M36.9 674.1L311.9 399.1M36.9 685.1L311.9 410.1M36.9 696.1L311.9 421.1M36.9 707.1L311.9 432.1M36.9 718.1L311.9 443.1M36.9 729.1L311.9 454.1M36.9 740.1L311.9 465.1M36.9 751.1L311.9 476.1M36.9 762.1L311.9 487.1M36.9 773.1L311.9 498.1M36.9 784.1L311.9 509.1M36.9 795.1L311.9 520.1M36.9 806.1L311.9 531.1M36.9 817.1L311.9 542.1M36.9 828.1L311.9 553.1M36.9 839.1L311.9 564.1M36.9 850.1L311.9 575.1M36.9 861.1L311.9 586.1M36.9 872.1L311.9 597.1M36.9 883.1L311.9 608.1M36.9 894.1L311.9 619.1M36.9 905.1L311.9 630.1M36.9 916.1L311.9 641.1M36.9 927.1L311.9 652.1M36.9 938.1L311.9 663.1M36.9 949.1L311.9 674.1M36.9 960.1L311.9 685.1M36.9 971.1L311.9 696.1M36.9 982.1L311.9 707.1M36.9 993.1L311.9 718.1M36.9 1004.1L311.9 729.1M36.9 1015.1L311.9 740.1M36.9 1026.1L311.9 751.1M36.9 1037.1L311.9 762.1M36.9 1048.1L311.9 773.1M36.9 1059.1L311.9 784.1M36.9 1070.1L311.9 795.1M36.9 1081.1L311.9 806.1M36.9 1092.1L311.9 817.1M36.9 1103.1L311.9 828.1M36.9 1114.1L311.9 839.1M36.9 1125.1L311.9 850.1M36.9 1136.1L311.9 861.1M36.9 1147.1L311.9 872.1M36.9 1158.1L311.9 883.1M36.9 1169.1L311.9 894.1M36.9 1180.1L311.9 905.1" mask="url(#m2C1b)"/></g><g clip-path="url(#h2C2)" fill="none" stroke="#000" stroke-width="1.1"><path d="" mask="url(#m2C2a)"/><path d="M36.9 509.8L311.9 234.8M36.9 514.5L311.9 239.5M36.9 519.2L311.9 244.2M36.9 523.9L311.9 248.9M36.9 528.6L311.9 253.6M36.9 533.3L311.9 258.3M36.9 538L311.9 263M36.9 542.7L311.9 267.7M36.9 547.4L311.9 272.4M36.9 552.1L311.9 277.1M36.9 556.8L311.9 281.8M36.9 561.5L311.9 286.5M36.9 566.2L311.9 291.2M36.9 570.9L311.9 295.9M36.9 575.6L311.9 300.6M36.9 580.3L311.9 305.3M36.9 585L311.9 310M36.9 589.7L311.9 314.7M36.9 594.4L311.9 319.4M36.9 599.1L311.9 324.1M36.9 603.8L311.9 328.8M36.9 608.5L311.9 333.5M36.9 613.2L311.9 338.2M36.9 617.9L311.9 342.9M36.9 622.6L311.9 347.6M36.9 627.3L311.9 352.3M36.9 632L311.9 357M36.9 636.7L311.9 361.7M36.9 641.4L311.9 366.4M36.9 646.1L311.9 371.1M36.9 650.8L311.9 375.8M36.9 655.5L311.9 380.5M36.9 660.2L311.9 385.2M36.9 664.9L311.9 389.9M36.9 669.6L311.9 394.6M36.9 674.3L311.9 399.3M36.9 679L311.9 404M36.9 683.7L311.9 408.7M36.9 688.4L311.9 413.4M36.9 693.1L311.9 418.1M36.9 697.8L311.9 422.8M36.9 702.5L311.9 427.5M36.9 707.2L311.9 432.2M36.9 711.9L311.9 436.9M36.9 716.6L311.9 441.6M36.9 721.3L311.9 446.3M36.9 726L311.9 451M36.9 730.7L311.9 455.7M36.9 735.4L311.9 460.4M36.9 740.1L311.9 465.1M36.9 744.8L311.9 469.8M36.9 749.5L311.9 474.5M36.9 754.2L311.9 479.2M36.9 758.9L311.9 483.9M36.9 763.6L311.9 488.6M36.9 768.3L311.9 493.3M36.9 773L311.9 498M36.9 777.7L311.9 502.7M36.9 782.4L311.9 507.4M36.9 787.1L311.9 512.1M36.9 791.8L311.9 516.8M36.9 796.5L311.9 521.5M36.9 801.2L311.9 526.2M36.9 805.9L311.9 530.9M36.9 810.6L311.9 535.6M36.9 815.3L311.9 540.3M36.9 820L311.9 545M36.9 824.7L311.9 549.7M36.9 829.4L311.9 554.4M36.9 834.1L311.9 559.1M36.9 838.8L311.9 563.8M36.9 843.5L311.9 568.5M36.9 848.2L311.9 573.2M36.9 852.9L311.9 577.9M36.9 857.6L311.9 582.6M36.9 862.3L311.9 587.3M36.9 867L311.9 592M36.9 871.7L311.9 596.7M36.9 876.4L311.9 601.4M36.9 881.1L311.9 606.1M36.9 885.8L311.9 610.8M36.9 890.5L311.9 615.5M36.9 895.2L311.9 620.2M36.9 899.9L311.9 624.9M36.9 904.6L311.9 629.6M36.9 909.3L311.9 634.3M36.9 914L311.9 639M36.9 918.7L311.9 643.7M36.9 923.4L311.9 648.4M36.9 928.1L311.9 653.1M36.9 932.8L311.9 657.8M36.9 937.5L311.9 662.5M36.9 942.2L311.9 667.2M36.9 946.9L311.9 671.9M36.9 951.6L311.9 676.6M36.9 956.3L311.9 681.3M36.9 961L311.9 686M36.9 965.7L311.9 690.7M36.9 970.4L311.9 695.4M36.9 975.1L311.9 700.1M36.9 979.8L311.9 704.8M36.9 984.5L311.9 709.5M36.9 989.2L311.9 714.2M36.9 993.9L311.9 718.9M36.9 998.6L311.9 723.6M36.9 1003.3L311.9 728.3M36.9 1008L311.9 733M36.9 1012.7L311.9 737.7M36.9 1017.4L311.9 742.4M36.9 1022.1L311.9 747.1M36.9 1026.8L311.9 751.8M36.9 1031.5L311.9 756.5M36.9 1036.2L311.9 761.2M36.9 1040.9L311.9 765.9M36.9 1045.6L311.9 770.6M36.9 1050.3L311.9 775.3M36.9 1055L311.9 780M36.9 1059.7L311.9 784.7M36.9 1064.4L311.9 789.4M36.9 1069.1L311.9 794.1M36.9 1073.8L311.9 798.8M36.9 1078.5L311.9 803.5M36.9 1083.2L311.9 808.2M36.9 1087.9L311.9 812.9M36.9 1092.6L311.9 817.6M36.9 1097.3L311.9 822.3M36.9 1102L311.9 827M36.9 1106.7L311.9 831.7M36.9 1111.4L311.9 836.4M36.9 1116.1L311.9 841.1M36.9 1120.8L311.9 845.8M36.9 1125.5L311.9 850.5M36.9 1130.2L311.9 855.2M36.9 1134.9L311.9 859.9M36.9 1139.6L311.9 864.6M36.9 1144.3L311.9 869.3M36.9 1149L311.9 874M36.9 1153.7L311.9 878.7M36.9 1158.4L311.9 883.4M36.9 1163.1L311.9 888.1M36.9 1167.8L311.9 892.8M36.9 1172.5L311.9 897.5M36.9 1177.2L311.9 902.2" mask="url(#m2C2b)"/></g><g clip-path="url(#h2D0)" fill="none" stroke="#000" stroke-width="1.1"><path d="M36.9 516.1L311.9 241.1M36.9 521.6L311.9 246.6M36.9 527.1L311.9 252.1M36.9 543.6L311.9 268.6M36.9 549.1L311.9 274.1M36.9 554.6L311.9 279.6M36.9 571.1L311.9 296.1M36.9 576.6L311.9 301.6M36.9 582.1L311.9 307.1M36.9 598.6L311.9 323.6M36.9 604.1L311.9 329.1M36.9 609.6L311.9 334.6M36.9 626.1L311.9 351.1M36.9 631.6L311.9 356.6M36.9 637.1L311.9 362.1M36.9 653.6L311.9 378.6M36.9 659.1L311.9 384.1M36.9 664.6L311.9 389.6M36.9 681.1L311.9 406.1M36.9 686.6L311.9 411.6M36.9 692.1L311.9 417.1M36.9 708.6L311.9 433.6M36.9 714.1L311.9 439.1M36.9 719.6L311.9 444.6M36.9 736.1L311.9 461.1M36.9 741.6L311.9 466.6M36.9 747.1L311.9 472.1M36.9 763.6L311.9 488.6M36.9 769.1L311.9 494.1M36.9 774.6L311.9 499.6M36.9 791.1L311.9 516.1M36.9 796.6L311.9 521.6M36.9 802.1L311.9 527.1M36.9 818.6L311.9 543.6M36.9 824.1L311.9 549.1M36.9 829.6L311.9 554.6M36.9 846.1L311.9 571.1M36.9 851.6L311.9 576.6M36.9 857.1L311.9 582.1M36.9 873.6L311.9 598.6M36.9 879.1L311.9 604.1M36.9 884.6L311.9 609.6M36.9 901.1L311.9 626.1M36.9 906.6L311.9 631.6M36.9 912.1L311.9 637.1M36.9 928.6L311.9 653.6M36.9 934.1L311.9 659.1M36.9 939.6L311.9 664.6M36.9 956.1L311.9 681.1M36.9 961.6L311.9 686.6M36.9 967.1L311.9 692.1M36.9 983.6L311.9 708.6M36.9 989.1L311.9 714.1M36.9 994.6L311.9 719.6M36.9 1011.1L311.9 736.1M36.9 1016.6L311.9 741.6M36.9 1022.1L311.9 747.1M36.9 1038.6L311.9 763.6M36.9 1044.1L311.9 769.1M36.9 1049.6L311.9 774.6M36.9 1066.1L311.9 791.1M36.9 1071.6L311.9 796.6M36.9 1077.1L311.9 802.1M36.9 1093.6L311.9 818.6M36.9 1099.1L311.9 824.1M36.9 1104.6L311.9 829.6M36.9 1121.1L311.9 846.1M36.9 1126.6L311.9 851.6M36.9 1132.1L311.9 857.1M36.9 1148.6L311.9 873.6M36.9 1154.1L311.9 879.1M36.9 1159.6L311.9 884.6M36.9 1176.1L311.9 901.1M36.9 1181.6L311.9 906.6" mask="url(#m2D0a)"/></g><path d="M36.9 906.6L37.8 906.6L38.7 906.6L39.6 906.6L40.6 906.6L41.5 906.6L42.4 906.6L43.3 906.6L44.2 906.6L45.1 906.6L46.1 906.6L47 906.6L47.9 906.6L48.8 906.6L49.7 906.6L50.6 906.6L51.6 906.6L52.5 906.6L53.4 906.6L54.3 906.6L55.2 906.6L56.1 906.6L57.1 906.6L58 906.6L58.9 906.6L59.8 906.6L60.7 906.6L61.6 906.6L62.6 906.6L63.5 906.6L64.4 906.6L65.3 906.6L66.2 906.6L67.2 906.6L68.1 906.6L69 906.6L69.9 906.6L70.8 906.6L71.7 906.6L72.7 906.6L73.6 906.6L74.5 906.6L75.4 906.6L76.3 906.6L77.2 906.6L78.2 906.6L79.1 906.6L80 906.6L80.9 906.6L81.8 906.6L82.7 906.6L83.7 906.6L84.6 906.6L85.5 906.6L86.4 906.6L87.3 906.6L88.2 906.6L89.2 906.6L90.1 906.6L91 906.6L91.9 906.6L92.8 906.6L93.7 906.6L94.7 906.6L95.6 906.6L96.5 906.6L97.4 906.6L98.3 906.6L99.2 906.6L100.2 906.6L101.1 906.6L102 906.6L102.9 906.6L103.8 906.6L104.7 906.6L105.7 906.6L106.6 906.6L107.5 906.6L108.4 906.6L109.3 906.6L110.2 906.6L111.2 906.6L112.1 906.6L113 906.6L113.9 906.6L114.8 906.6L115.7 906.6L116.7 906.5L117.6 906.5L118.5 906.5L119.4 906.5L120.3 906.5L121.2 906.5L122.2 906.4L123.1 906.4L124 906.4L124.9 906.3L125.8 906.3L126.7 906.2L127.7 906.2L128.6 906.1L129.5 906L130.4 905.9L131.3 905.8L132.2 905.6L133.2 905.5L134.1 905.3L135 905.1L135.9 904.9L136.8 904.7L137.7 904.4L138.7 904.1L139.6 903.7L140.5 903.3L141.4 902.8L142.3 902.3L143.2 901.8L144.2 901.1L145.1 900.4L146 899.7L146.9 898.8L147.8 897.8L148.7 896.8L149.7 895.7L150.6 894.4L151.5 893L152.4 891.5L153.3 889.9L154.2 888.1L155.2 886.2L156.1 884.1L157 881.9L157.9 879.5L158.8 876.9L159.7 874.1L160.7 871.2L161.6 868L162.5 864.7L163.14 862.2M239.91 862.2L240.4 864.1L241.3 867.6L242.2 870.9L243.2 873.9L244.1 876.8L245 879.5L245.9 882L246.8 884.3L247.7 886.4L248.7 888.4L249.6 890.2L250.5 891.9L251.4 893.4L252.3 894.8L253.2 896.1L254.2 897.2L255.1 898.3L256 899.2L256.9 900.1L257.8 900.8L258.7 901.5L259.6 902.1L260.6 902.7L261.5 903.2L262.4 903.6L263.3 904L264.2 904.3L265.1 904.6L266.1 904.9L267 905.1L267.9 905.3L268.8 905.5L269.7 905.7L270.6 905.8L271.6 905.9L272.5 906L273.4 906.1L274.3 906.2L275.2 906.2L276.1 906.3L277.1 906.4L278 906.4L278.9 906.4L279.8 906.5L280.7 906.5L281.6 906.5L282.6 906.5L283.5 906.5L284.4 906.5L285.3 906.6L286.2 906.6L287.1 906.6L288.1 906.6L289 906.6L289.9 906.6L290.8 906.6L291.7 906.6L292.6 906.6L293.6 906.6L294.5 906.6L295.4 906.6L296.3 906.6L297.2 906.6L298.1 906.6L299.1 906.6L300 906.6L300.9 906.6L301.8 906.6L302.7 906.6L303.6 906.6L304.6 906.6L305.5 906.6L306.4 906.6L307.3 906.6L308.2 906.6L309.1 906.6L310.1 906.6L311 906.6L311.9 906.6" fill="none" stroke="#0a7a14" stroke-width="2.4"/><path d="M36.9 906.4L37.8 906.4L38.7 906.3L39.6 906.3L40.6 906.3L41.5 906.2L42.4 906.2L43.3 906.1L44.2 906.1L45.1 906L46.1 905.9L47 905.8L47.9 905.7L48.8 905.6L49.7 905.5L50.6 905.4L51.6 905.3L52.5 905.1L53.4 904.9L54.3 904.8L55.2 904.6L56.1 904.3L57.1 904.1L58 903.8L58.9 903.5L59.8 903.2L60.7 902.8L61.6 902.5L62.6 902L63.5 901.6L64.4 901.1L65.3 900.6L66.2 900L67.2 899.3L68.1 898.7L69 897.9L69.9 897.1L70.8 896.3L71.7 895.4L72.7 894.4L73.6 893.3L74.5 892.2L75.4 891L76.3 889.7L77.2 888.3L78.2 886.8L79.1 885.2L80 883.6L80.9 881.8L81.8 879.9L82.7 877.9L83.7 875.8L84.6 873.6L85.5 871.2L86.4 868.7L87.3 866.1L88.2 863.4L89.2 860.5L90.1 857.4L91 854.3L91.9 851L92.8 847.5L93.7 843.9L94.7 840.2L95.6 836.3L96.5 832.2L97.4 828L98.3 823.7L99.2 819.2L100.2 814.5L101.1 809.8L102 804.8L102.9 799.8L103.8 794.6L104.7 789.3L105.7 783.8L106.6 778.3L107.5 772.6L108.4 766.8L109.3 761L110.2 755L111.2 749L112.1 742.9L113 736.8L113.9 730.6L114.8 724.3L115.7 718.1L116.7 711.8L117.6 705.5L118.5 699.2L119.4 693L120.3 686.8L121.2 680.6L122.2 674.6L123.1 668.6L124 662.6L124.9 656.8L125.8 651.1L126.7 645.6L127.7 640.1L128.6 634.9L129.5 629.8L130.4 624.9L131.3 620.1L132.2 615.6L133.2 611.3L134.1 607.2L135 603.3L135.9 599.6L136.8 596.2L137.7 593L138.7 590.1L139.6 587.4L140.5 584.9L141.4 582.7L142.3 580.7L143.2 579L144.2 577.5L145.1 576.2L146 575.1L146.9 574.3L147.8 573.6L148.7 573.2L149.7 572.9L150.6 572.9L151.5 573.1L152.4 573.4L153.3 573.9L154.2 574.5L155.2 575.3L156.1 576.2L157 577.2L157.9 578.3L158.8 579.5L159.7 580.7L160.7 582L161.6 583.3L162.5 584.5L163.4 585.8L164.3 587.1L165.2 588.3L166.2 589.4L167.1 590.5L168 591.5L168.9 592.5L169.8 593.3L170.7 594L171.7 594.7L172.6 595.2L173.5 595.6L174.4 595.9L175.3 596.1L176.2 596.1L177.2 596.1L178.1 596L179 595.8L179.9 595.5L180.8 595.2L181.7 594.8L182.7 594.5L183.6 594L184.5 593.7L185.4 593.3L186.3 593L187.2 592.7L188.2 592.6L189.1 592.6L190 592.7L190.9 592.9L191.8 593.4L192.7 594L193.7 594.8L194.6 595.9L195.5 597.2L196.4 598.8L197.3 600.7L198.2 602.9L199.2 605.3L200.1 608.1L201 611.1L201.9 614.5L202.8 618L203.7 621.8L204.7 625.9L205.6 630.2L206.5 634.8L207.4 639.6L208.3 644.7L209.2 650.1L210.2 655.7L211.1 661.6L212 667.7L212.9 674L213.8 680.5L214.7 687.2L215.7 694L216.6 701L217.5 708.1L218.4 715.3L219.3 722.5L220.2 729.8L221.2 737.1L222.1 744.4L223 751.7L223.9 758.9L224.8 766.1L225.7 773.2L226.7 780.1L227.6 786.9L228.5 793.6L229.4 800.1L230.3 806.5L231.2 812.6L232.2 818.6L233.1 824.3L234 829.8L234.9 835.1L235.8 840.2L236.7 845L237.7 849.6L238.6 854L239.5 858.1L240.4 862L241.3 865.7L242.2 869.1L243.2 872.4L244.1 875.4L245 878.2L245.9 880.8L246.8 883.2L247.7 885.5L248.7 887.5L249.6 889.4L250.5 891.2L251.4 892.8L252.3 894.2L253.2 895.6L254.2 896.8L255.1 897.9L256 898.9L256.9 899.8L257.8 900.6L258.7 901.3L259.6 901.9L260.6 902.5L261.5 903L262.4 903.5L263.3 903.9L264.2 904.2L265.1 904.5L266.1 904.8L267 905.1L267.9 905.3L268.8 905.5L269.7 905.6L270.6 905.8L271.6 905.9L272.5 906L273.4 906.1L274.3 906.2L275.2 906.2L276.1 906.3L277.1 906.3L278 906.4L278.9 906.4L279.8 906.4L280.7 906.5L281.6 906.5L282.6 906.5L283.5 906.5L284.4 906.5L285.3 906.5L286.2 906.6L287.1 906.6L288.1 906.6L289 906.6L289.9 906.6L290.8 906.6L291.7 906.6L292.6 906.6L293.6 906.6L294.5 906.6L295.4 906.6L296.3 906.6L297.2 906.6L298.1 906.6L299.1 906.6L300 906.6L300.9 906.6L301.8 906.6L302.7 906.6L303.6 906.6L304.6 906.6L305.5 906.6L306.4 906.6L307.3 906.6L308.2 906.6L309.1 906.6L310.1 906.6L311 906.6L311.9 906.6" fill="none" stroke="#ff0000" stroke-width="2.6" stroke-linejoin="round"/></g>
<path d="M36.9 906.6V513.3H311.9V906.6" fill="none" stroke="#000" stroke-width="1.8"/>
<path d="M36.9 906.6v9.2M82.7 906.6v5.5M128.6 906.6v9.2M174.4 906.6v5.5M220.2 906.6v9.2M266.1 906.6v5.5M311.9 906.6v9.2" stroke="#000" stroke-width="1.8" fill="none"/>
<text transform="translate(36.9 932.7) scale(1 1.12)" font-size="14.8" text-anchor="middle">300</text>
<text transform="translate(128.6 932.7) scale(1 1.12)" font-size="14.8" text-anchor="middle">350</text>
<text transform="translate(220.2 932.7) scale(1 1.12)" font-size="14.8" text-anchor="middle">400</text>
<text transform="translate(311.9 932.7) scale(1 1.12)" font-size="14.8" text-anchor="middle">450</text>
<text transform="translate(42.3 536.5) scale(0.983 1.098)" font-size="20.8" text-anchor="start">P25-T</text>
<text transform="translate(174.5 969.8) scale(0.99 1.05)" font-size="15.35" text-anchor="middle">λ (nm)</text>
<text transform="translate(23.6 714.7) rotate(-90)" font-size="15.35" text-anchor="middle">dR / dλ (a.u.)</text>
<rect x="385.2" y="514" width="275.6" height="393.8" fill="none" stroke="#000" stroke-width="1.8"/>
<g clip-path="url(#fc3)"><path d="M385.2 842.2L385.2 842.2L386.1 842.2L387 842.2L388 842.2L388.9 842.2L389.8 842.2L390.7 842.2L391.6 842.2L392.5 842.2L393.5 842.2L394.4 842.2L395.3 842.2L396.2 842.2L397.1 842.2L398.1 842.2L399 842.2L399.9 842.2L400.8 842.2L401.7 842.2L402.7 842.2L403.6 842.2L404.5 842.2L405.4 842.2L406.3 842.2L407.2 842.2L408.2 842.2L409.1 842.2L410 842.2L410.9 842.2L411.8 842.2L412.8 842.2L413.7 842.2L414.6 842.2L415.5 842.2L416.4 842.2L417.4 842.2L418.3 842.2L419.2 842.2L420.1 842.2L421 842.2L421.9 842.2L422.9 842.2L423.8 842.2L424.7 842.2L425.6 842.2L426.5 842.2L427.5 842.2L428.4 842.2L429.3 842.2L430.2 842.2L431.1 842.2L432.1 842.2L433 842.2L433.9 842.2L434.8 842.2L435.7 842.2L436.6 842.2L437.6 842.2L438.5 842.2L439.4 842.2L440.3 842.2L441.2 842.2L442.2 842.2L443.1 842.2L444 842.2L444.9 842.2L445.8 842.2L446.8 842.2L447.7 840L448.6 836.3L449.5 832.5L450.4 828.6L451.3 824.5L452.3 820.3L453.2 816L454.1 811.6L455 807L455.9 802.3L456.9 797.5L457.8 792.6L458.7 787.5L459.6 782.4L460.5 777.1L461.4 771.8L462.4 766.3L463.3 760.8L464.2 755.2L465.1 749.5L466 743.7L467 737.9L467.9 732L468.8 726.1L469.7 720.2L470.6 714.2L471.6 708.2L472.5 702.3L473.4 696.3L474.3 690.3L475.2 684.4L476.1 678.5L477.1 672.7L478 666.9L478.9 661.2L479.8 655.6L480.7 650.1L481.7 644.6L482.6 639.3L483.5 634.2L484.4 629.2L485.3 624.3L486.3 619.6L487.2 615L488.1 610.7L489 606.5L489.9 602.5L490.8 598.8L491.8 595.2L492.7 591.9L493.6 588.9L494.5 586L495.4 583.4L496.4 581.1L497.3 579L498.2 577.2L499.1 575.6L500 574.3L501 573.2L501.9 572.5L502.8 571.9L503.7 571.7L504.6 571.7L505.5 572L506.5 572.7L507.4 573.7L508.3 575.1L509.2 576.7L510.1 578.6L511.1 580.8L512 583.3L512.9 586L513.8 589L514.7 592.2L515.7 595.6L516.6 599.3L517.5 603.2L518.4 607.2L519.3 611.5L520.2 616L521.2 620.6L522.1 625.3L523 630.2L523.9 635.3L524.8 640.5L525.8 645.7L526.7 651.1L527.6 656.6L528.5 662.1L529.4 667.7L530.3 673.4L531.3 679.1L532.2 684.8L533.1 690.6L534 696.4L534.9 702.1L535.9 707.9L536.8 713.7L537.7 719.4L538.6 725.1L539.5 730.8L540.5 736.4L541.4 742L542.3 747.5L543.2 752.9L544.1 758.3L545 763.6L546 768.8L546.9 773.9L547.8 779L548.7 783.9L549.6 788.7L550.6 793.5L551.5 798.1L552.4 802.6L553.3 807L554.2 811.3L555.2 815.5L556.1 819.5L557 823.5L557.9 827.3L558.8 831L559.7 834.6L560.7 838L561.6 841.4L562.5 842.2L563.4 842.2L564.3 842.2L565.3 842.2L566.2 842.2L567.1 842.2L568 842.2L568.9 842.2L569.9 842.2L570.8 842.2L571.7 842.2L572.6 842.2L573.5 842.2L574.4 842.2L575.4 842.2L576.3 842.2L577.2 842.2L578.1 842.2L579 842.2L580 842.2L580.9 842.2L581.8 842.2L582.7 842.2L583.6 842.2L584.6 842.2L585.5 842.2L586.4 842.2L587.3 842.2L588.2 842.2L589.1 842.2L590.1 842.2L591 842.2L591.9 842.2L592.8 842.2L593.7 842.2L594.7 842.2L595.6 842.2L596.5 842.2L597.4 842.2L598.3 842.2L599.2 842.2L600.2 842.2L601.1 842.2L602 842.2L602.9 842.2L603.8 842.2L604.8 842.2L605.7 842.2L606.6 842.2L607.5 842.2L608.4 842.2L609.4 842.2L610.3 842.2L611.2 842.2L612.1 842.2L613 842.2L613.9 842.2L614.9 842.2L615.8 842.2L616.7 842.2L617.6 842.2L618.5 842.2L619.5 842.2L620.4 842.2L621.3 842.2L622.2 842.2L623.1 842.2L624.1 842.2L625 842.2L625.9 842.2L626.8 842.2L627.7 842.2L628.6 842.2L629.6 842.2L630.5 842.2L631.4 842.2L632.3 842.2L633.2 842.2L634.2 842.2L635.1 842.2L636 842.2L636.9 842.2L637.8 842.2L638.8 842.2L639.7 842.2L640.6 842.2L641.5 842.2L642.4 842.2L643.3 842.2L644.3 842.2L645.2 842.2L646.1 842.2L647 842.2L647.9 842.2L648.9 842.2L649.8 842.2L650.7 842.2L651.6 842.2L652.5 842.2L653.5 842.2L654.4 842.2L655.3 842.2L656.2 842.2L657.1 842.2L658 842.2L659 842.2L659.9 842.2L660.8 842.2L660.8 842.2Z" fill="#00ffff"/><g clip-path="url(#h3A0)" fill="none" stroke="#000" stroke-width="1.1"><path d="M385.2 520.8L660.8 245.2M385.2 528.3L660.8 252.8M385.2 543.5L660.8 267.9M385.2 551L660.8 275.4M385.2 566.1L660.8 290.5M385.2 573.7L660.8 298.1M385.2 588.8L660.8 313.1M385.2 596.3L660.8 320.7M385.2 611.4L660.8 335.8M385.2 619L660.8 343.4M385.2 634L660.8 358.5M385.2 641.6L660.8 366M385.2 656.7L660.8 381.1M385.2 664.2L660.8 388.7M385.2 679.3L660.8 403.8M385.2 686.9L660.8 411.3M385.2 702L660.8 426.4M385.2 709.5L660.8 434M385.2 724.6L660.8 449M385.2 732.2L660.8 456.6M385.2 747.3L660.8 471.7M385.2 754.8L660.8 479.2M385.2 769.9L660.8 494.3M385.2 777.5L660.8 501.9M385.2 792.6L660.8 517M385.2 800.1L660.8 524.5M385.2 815.2L660.8 539.7M385.2 822.8L660.8 547.2M385.2 837.9L660.8 562.3M385.2 845.4L660.8 569.8M385.2 860.5L660.8 585M385.2 868.1L660.8 592.5M385.2 883.2L660.8 607.6M385.2 890.8L660.8 615.2M385.2 905.8L660.8 630.2M385.2 913.4L660.8 637.8M385.2 928.5L660.8 652.9M385.2 936L660.8 660.5M385.2 951.1L660.8 675.5M385.2 958.7L660.8 683.1M385.2 973.8L660.8 698.2M385.2 981.3L660.8 705.8M385.2 996.4L660.8 720.8M385.2 1004L660.8 728.4M385.2 1019.1L660.8 743.5M385.2 1026.6L660.8 751M385.2 1041.8L660.8 766.2M385.2 1049.3L660.8 773.7M385.2 1064.4L660.8 788.8M385.2 1071.9L660.8 796.3M385.2 1087L660.8 811.5M385.2 1094.6L660.8 819M385.2 1109.7L660.8 834.1M385.2 1117.2L660.8 841.7M385.2 1132.3L660.8 856.8M385.2 1139.9L660.8 864.3M385.2 1155L660.8 879.4M385.2 1162.5L660.8 887M385.2 1177.6L660.8 902" mask="url(#m3A0a)"/><path d="M385.2 513.2L660.8 237.6M385.2 535.9L660.8 260.3M385.2 558.5L660.8 283M385.2 581.2L660.8 305.6M385.2 603.8L660.8 328.2M385.2 626.5L660.8 350.9M385.2 649.1L660.8 373.5M385.2 671.8L660.8 396.2M385.2 694.4L660.8 418.8M385.2 717.1L660.8 441.5M385.2 739.8L660.8 464.2M385.2 762.4L660.8 486.8M385.2 785L660.8 509.5M385.2 807.7L660.8 532.1M385.2 830.3L660.8 554.8M385.2 853L660.8 577.4M385.2 875.6L660.8 600M385.2 898.3L660.8 622.7M385.2 920.9L660.8 645.3M385.2 943.6L660.8 668M385.2 966.2L660.8 690.7M385.2 988.9L660.8 713.3M385.2 1011.5L660.8 736M385.2 1034.2L660.8 758.6M385.2 1056.8L660.8 781.2M385.2 1079.5L660.8 803.9M385.2 1102.1L660.8 826.5M385.2 1124.8L660.8 849.2M385.2 1147.4L660.8 871.8M385.2 1170.1L660.8 894.5" mask="url(#m3A0b)"/></g><g clip-path="url(#h3B0)" fill="none" stroke="#000" stroke-width="1.1"><path d="M385.2 520.8L660.8 245.2M385.2 528.3L660.8 252.8M385.2 543.5L660.8 267.9M385.2 551L660.8 275.4M385.2 566.1L660.8 290.5M385.2 573.7L660.8 298.1M385.2 588.8L660.8 313.1M385.2 596.3L660.8 320.7M385.2 611.4L660.8 335.8M385.2 619L660.8 343.4M385.2 634L660.8 358.5M385.2 641.6L660.8 366M385.2 656.7L660.8 381.1M385.2 664.2L660.8 388.7M385.2 679.3L660.8 403.8M385.2 686.9L660.8 411.3M385.2 702L660.8 426.4M385.2 709.5L660.8 434M385.2 724.6L660.8 449M385.2 732.2L660.8 456.6M385.2 747.3L660.8 471.7M385.2 754.8L660.8 479.2M385.2 769.9L660.8 494.3M385.2 777.5L660.8 501.9M385.2 792.6L660.8 517M385.2 800.1L660.8 524.5M385.2 815.2L660.8 539.7M385.2 822.8L660.8 547.2M385.2 837.9L660.8 562.3M385.2 845.4L660.8 569.8M385.2 860.5L660.8 585M385.2 868.1L660.8 592.5M385.2 883.2L660.8 607.6M385.2 890.8L660.8 615.2M385.2 905.8L660.8 630.2M385.2 913.4L660.8 637.8M385.2 928.5L660.8 652.9M385.2 936L660.8 660.5M385.2 951.1L660.8 675.5M385.2 958.7L660.8 683.1M385.2 973.8L660.8 698.2M385.2 981.3L660.8 705.8M385.2 996.4L660.8 720.8M385.2 1004L660.8 728.4M385.2 1019.1L660.8 743.5M385.2 1026.6L660.8 751M385.2 1041.8L660.8 766.2M385.2 1049.3L660.8 773.7M385.2 1064.4L660.8 788.8M385.2 1071.9L660.8 796.3M385.2 1087L660.8 811.5M385.2 1094.6L660.8 819M385.2 1109.7L660.8 834.1M385.2 1117.2L660.8 841.7M385.2 1132.3L660.8 856.8M385.2 1139.9L660.8 864.3M385.2 1155L660.8 879.4M385.2 1162.5L660.8 887M385.2 1177.6L660.8 902" mask="url(#m3B0a)"/></g><path d="M561.81 842.2L562.5 844.6L563.4 847.8L564.3 850.8L565.3 853.7L566.2 856.5L567.1 859.1L568 861.7L568.9 864.2L569.9 866.6L570.8 868.8L571.7 871L572.6 873.1L573.5 875L574.4 876.9L575.4 878.7L576.3 880.4L577.2 882.1L578.1 883.6L579 885.1L580 886.5L580.9 887.8L581.8 889.1L582.7 890.3L583.6 891.4L584.6 892.5L585.5 893.5L586.4 894.4L587.3 895.3L588.2 896.2L589.1 897L590.1 897.7L591 898.4L591.9 899.1L592.8 899.7L593.7 900.3L594.7 900.8L595.6 901.3L596.5 901.8L597.4 902.2L598.3 902.7L599.2 903L600.2 903.4L601.1 903.7L602 904.1L602.9 904.3L603.8 904.6L604.8 904.9L605.7 905.1L606.6 905.3L607.5 905.5L608.4 905.7L609.4 905.9L610.3 906L611.2 906.2L612.1 906.3L613 906.4L613.9 906.6L614.9 906.7L615.8 906.8L616.7 906.9L617.6 906.9L618.5 907L619.5 907.1L620.4 907.2L621.3 907.2L622.2 907.3L623.1 907.3L624.1 907.4L625 907.4L625.9 907.4L626.8 907.5L627.7 907.5L628.6 907.5L629.6 907.6L630.5 907.6L631.4 907.6L632.3 907.6L633.2 907.6L634.2 907.7L635.1 907.7L636 907.7L636.9 907.7L637.8 907.7L638.8 907.7L639.7 907.7L640.6 907.7L641.5 907.7L642.4 907.7L643.3 907.8L644.3 907.8L645.2 907.8L646.1 907.8L647 907.8L647.9 907.8L648.9 907.8L649.8 907.8L650.7 907.8L651.6 907.8L652.5 907.8L653.5 907.8L654.4 907.8L655.3 907.8L656.2 907.8L657.1 907.8L658 907.8L659 907.8L659.9 907.8L660.8 907.8" fill="none" stroke="#0000ff" stroke-width="2.5"/><path transform="translate(-1.4 -0.3)" d="M395.93 907L396.2 907L397.1 906.9L398.1 906.8L399 906.7L399.9 906.6L400.8 906.4L401.7 906.3L402.7 906.1L403.6 905.9L404.5 905.8L405.4 905.6L406.3 905.3L407.2 905.1L408.2 904.8L409.1 904.5L410 904.2L410.9 903.9L411.8 903.5L412.8 903.1L413.7 902.7L414.6 902.2L415.5 901.8L416.4 901.2L417.4 900.6L418.3 900L419.2 899.4L420.1 898.6L421 897.9L421.9 897.1L422.9 896.2L423.8 895.3L424.7 894.3L425.6 893.2L426.5 892.1L427.5 890.9L428.4 889.6L429.3 888.3L430.2 886.8L431.1 885.3L432.1 883.7L433 882L433.9 880.2L434.8 878.3L435.7 876.3L436.6 874.2L437.6 872L438.5 869.7L439.4 867.3L440.3 864.7L441.2 862.1L442.2 859.3L443.1 856.4L444 853.4L444.9 850.2L445.8 846.9L446.8 843.5L447.1 842.2" fill="none" stroke="#0000ff" stroke-width="2.5"/><path d="M385.2 879.4L385.2 879.4L386.1 879.4L387 879.4L388 879.4L388.9 879.4L389.8 879.4L390.7 879.4L391.6 879.4L392.5 879.4L393.5 879.4L394.4 879.4L395.3 879.4L396.2 879.4L397.1 879.4L398.1 879.4L399 879.4L399.9 879.4L400.8 879.4L401.7 879.4L402.7 879.4L403.6 879.4L404.5 879.4L405.4 879.4L406.3 879.4L407.2 879.4L408.2 879.4L409.1 879.4L410 879.4L410.9 879.4L411.8 879.4L412.8 879.4L413.7 879.4L414.6 879.4L415.5 879.4L416.4 879.4L417.4 879.4L418.3 879.4L419.2 879.4L420.1 879.4L421 879.4L421.9 879.4L422.9 879.4L423.8 879.4L424.7 879.4L425.6 879.4L426.5 879.4L427.5 879.4L428.4 879.4L429.3 879.4L430.2 879.4L431.1 879.4L432.1 879.4L433 879.4L433.9 879.4L434.8 879.4L435.7 879.4L436.6 879.4L437.6 879.4L438.5 879.4L439.4 879.4L440.3 879.4L441.2 879.4L442.2 879.4L443.1 879.4L444 879.4L444.9 879.4L445.8 879.4L446.8 879.4L447.7 879.4L448.6 879.4L449.5 879.4L450.4 879.4L451.3 879.4L452.3 879.4L453.2 879.4L454.1 879.4L455 879.4L455.9 879.4L456.9 879.4L457.8 879.4L458.7 879.4L459.6 879.4L460.5 879.4L461.4 879.4L462.4 879.4L463.3 879.4L464.2 879.4L465.1 879.4L466 879.4L467 879.4L467.9 879.4L468.8 879.4L469.7 879.4L470.6 879.4L471.6 879.4L472.5 879.4L473.4 879.4L474.3 879.4L475.2 879.4L476.1 879.4L477.1 879.4L478 879.4L478.9 879.4L479.8 879.4L480.7 879.4L481.7 879.4L482.6 879.4L483.5 879.4L484.4 879.4L485.3 879.4L486.3 879.4L487.2 879.4L488.1 879.4L489 879.4L489.9 879.4L490.8 879.4L491.8 879.4L492.7 879.4L493.6 879.4L494.5 879.4L495.4 879.4L496.4 879.4L497.3 879.4L498.2 879.4L499.1 879.4L500 879.4L501 879.4L501.9 879.4L502.8 879.4L503.7 879.4L504.6 879.4L505.5 879.4L506.5 879.4L507.4 879.4L508.3 879.4L509.2 879.4L510.1 879.4L511.1 879.4L512 879.4L512.9 879.4L513.8 879.4L514.7 879.4L515.7 879.4L516.6 879.4L517.5 879.4L518.4 879.4L519.3 879.4L520.2 879.4L521.2 879.4L522.1 879.4L523 879.4L523.9 879.4L524.8 878.7L525.8 875.9L526.7 872.9L527.6 869.8L528.5 866.5L529.4 862.9L530.3 859.3L531.3 855.4L532.2 851.3L533.1 847.1L534 842.8L534.9 838.3L535.9 833.7L536.8 828.9L537.7 824.1L538.6 819.2L539.5 814.2L540.5 809.2L541.4 804.2L542.3 799.2L543.2 794.3L544.1 789.4L545 784.6L546 780L546.9 775.5L547.8 771.2L548.7 767.1L549.6 763.2L550.6 759.6L551.5 756.3L552.4 753.4L553.3 750.7L554.2 748.5L555.2 746.6L556.1 745.1L557 744L557.9 743.3L558.8 743.1L559.7 743.2L560.7 743.6L561.6 744.3L562.5 745.4L563.4 746.8L564.3 748.5L565.3 750.6L566.2 753L567.1 755.8L568 758.9L568.9 762.3L569.9 766L570.8 770L571.7 774.2L572.6 778.6L573.5 783.2L574.4 788L575.4 792.9L576.3 798L577.2 803.1L578.1 808.2L579 813.4L580 818.5L580.9 823.7L581.8 828.7L582.7 833.7L583.6 838.6L584.6 843.3L585.5 847.9L586.4 852.4L587.3 856.6L588.2 860.7L589.1 864.6L590.1 868.3L591 871.8L591.9 875.1L592.8 878.2L593.7 879.4L594.7 879.4L595.6 879.4L596.5 879.4L597.4 879.4L598.3 879.4L599.2 879.4L600.2 879.4L601.1 879.4L602 879.4L602.9 879.4L603.8 879.4L604.8 879.4L605.7 879.4L606.6 879.4L607.5 879.4L608.4 879.4L609.4 879.4L610.3 879.4L611.2 879.4L612.1 879.4L613 879.4L613.9 879.4L614.9 879.4L615.8 879.4L616.7 879.4L617.6 879.4L618.5 879.4L619.5 879.4L620.4 879.4L621.3 879.4L622.2 879.4L623.1 879.4L624.1 879.4L625 879.4L625.9 879.4L626.8 879.4L627.7 879.4L628.6 879.4L629.6 879.4L630.5 879.4L631.4 879.4L632.3 879.4L633.2 879.4L634.2 879.4L635.1 879.4L636 879.4L636.9 879.4L637.8 879.4L638.8 879.4L639.7 879.4L640.6 879.4L641.5 879.4L642.4 879.4L643.3 879.4L644.3 879.4L645.2 879.4L646.1 879.4L647 879.4L647.9 879.4L648.9 879.4L649.8 879.4L650.7 879.4L651.6 879.4L652.5 879.4L653.5 879.4L654.4 879.4L655.3 879.4L656.2 879.4L657.1 879.4L658 879.4L659 879.4L659.9 879.4L660.8 879.4L660.8 879.4Z" fill="#00ff00"/><g clip-path="url(#h3C0)" fill="none" stroke="#000" stroke-width="1.1"><path d="M385.2 523.3L660.8 247.7M385.2 528.8L660.8 253.2M385.2 534.3L660.8 258.7M385.2 550.8L660.8 275.2M385.2 556.3L660.8 280.7M385.2 561.8L660.8 286.2M385.2 578.3L660.8 302.7M385.2 583.8L660.8 308.2M385.2 589.3L660.8 313.7M385.2 605.8L660.8 330.2M385.2 611.3L660.8 335.7M385.2 616.8L660.8 341.2M385.2 633.3L660.8 357.7M385.2 638.8L660.8 363.2M385.2 644.3L660.8 368.7M385.2 660.8L660.8 385.2M385.2 666.3L660.8 390.7M385.2 671.8L660.8 396.2M385.2 688.3L660.8 412.7M385.2 693.8L660.8 418.2M385.2 699.3L660.8 423.7M385.2 715.8L660.8 440.2M385.2 721.3L660.8 445.7M385.2 726.8L660.8 451.2M385.2 743.3L660.8 467.7M385.2 748.8L660.8 473.2M385.2 754.3L660.8 478.7M385.2 770.8L660.8 495.2M385.2 776.3L660.8 500.7M385.2 781.8L660.8 506.2M385.2 798.3L660.8 522.7M385.2 803.8L660.8 528.2M385.2 809.3L660.8 533.7M385.2 825.8L660.8 550.2M385.2 831.3L660.8 555.7M385.2 836.8L660.8 561.2M385.2 853.3L660.8 577.7M385.2 858.8L660.8 583.2M385.2 864.3L660.8 588.7M385.2 880.8L660.8 605.2M385.2 886.3L660.8 610.7M385.2 891.8L660.8 616.2M385.2 908.3L660.8 632.7M385.2 913.8L660.8 638.2M385.2 919.3L660.8 643.7M385.2 935.8L660.8 660.2M385.2 941.3L660.8 665.7M385.2 946.8L660.8 671.2M385.2 963.3L660.8 687.7M385.2 968.8L660.8 693.2M385.2 974.3L660.8 698.7M385.2 990.8L660.8 715.2M385.2 996.3L660.8 720.7M385.2 1001.8L660.8 726.2M385.2 1018.3L660.8 742.7M385.2 1023.8L660.8 748.2M385.2 1029.3L660.8 753.7M385.2 1045.8L660.8 770.2M385.2 1051.3L660.8 775.7M385.2 1056.8L660.8 781.2M385.2 1073.3L660.8 797.7M385.2 1078.8L660.8 803.2M385.2 1084.3L660.8 808.7M385.2 1100.8L660.8 825.2M385.2 1106.3L660.8 830.7M385.2 1111.8L660.8 836.2M385.2 1128.3L660.8 852.7M385.2 1133.8L660.8 858.2M385.2 1139.3L660.8 863.7M385.2 1155.8L660.8 880.2M385.2 1161.3L660.8 885.7M385.2 1166.8L660.8 891.2M385.2 1183.3L660.8 907.7" mask="url(#m3C0a)"/><path d="M385.2 512.3L660.8 236.7M385.2 517.8L660.8 242.2M385.2 539.8L660.8 264.2M385.2 545.3L660.8 269.7M385.2 567.3L660.8 291.7M385.2 572.8L660.8 297.2M385.2 594.8L660.8 319.2M385.2 600.3L660.8 324.7M385.2 622.3L660.8 346.7M385.2 627.8L660.8 352.2M385.2 649.8L660.8 374.2M385.2 655.3L660.8 379.7M385.2 677.3L660.8 401.7M385.2 682.8L660.8 407.2M385.2 704.8L660.8 429.2M385.2 710.3L660.8 434.7M385.2 732.3L660.8 456.7M385.2 737.8L660.8 462.2M385.2 759.8L660.8 484.2M385.2 765.3L660.8 489.7M385.2 787.3L660.8 511.7M385.2 792.8L660.8 517.2M385.2 814.8L660.8 539.2M385.2 820.3L660.8 544.7M385.2 842.3L660.8 566.7M385.2 847.8L660.8 572.2M385.2 869.8L660.8 594.2M385.2 875.3L660.8 599.7M385.2 897.3L660.8 621.7M385.2 902.8L660.8 627.2M385.2 924.8L660.8 649.2M385.2 930.3L660.8 654.7M385.2 952.3L660.8 676.7M385.2 957.8L660.8 682.2M385.2 979.8L660.8 704.2M385.2 985.3L660.8 709.7M385.2 1007.3L660.8 731.7M385.2 1012.8L660.8 737.2M385.2 1034.8L660.8 759.2M385.2 1040.3L660.8 764.7M385.2 1062.3L660.8 786.7M385.2 1067.8L660.8 792.2M385.2 1089.8L660.8 814.2M385.2 1095.3L660.8 819.7M385.2 1117.3L660.8 841.7M385.2 1122.8L660.8 847.2M385.2 1144.8L660.8 869.2M385.2 1150.3L660.8 874.7M385.2 1172.3L660.8 896.7M385.2 1177.8L660.8 902.2" mask="url(#m3C0b)"/></g><g clip-path="url(#h3D0)" fill="none" stroke="#000" stroke-width="1.1"><path d="M385.2 508.8L660.8 233.2M385.2 525.3L660.8 249.7M385.2 530.8L660.8 255.2M385.2 536.3L660.8 260.7M385.2 552.8L660.8 277.2M385.2 558.3L660.8 282.7M385.2 563.8L660.8 288.2M385.2 580.3L660.8 304.7M385.2 585.8L660.8 310.2M385.2 591.3L660.8 315.7M385.2 607.8L660.8 332.2M385.2 613.3L660.8 337.7M385.2 618.8L660.8 343.2M385.2 635.3L660.8 359.7M385.2 640.8L660.8 365.2M385.2 646.3L660.8 370.7M385.2 662.8L660.8 387.2M385.2 668.3L660.8 392.7M385.2 673.8L660.8 398.2M385.2 690.3L660.8 414.7M385.2 695.8L660.8 420.2M385.2 701.3L660.8 425.7M385.2 717.8L660.8 442.2M385.2 723.3L660.8 447.7M385.2 728.8L660.8 453.2M385.2 745.3L660.8 469.7M385.2 750.8L660.8 475.2M385.2 756.3L660.8 480.7M385.2 772.8L660.8 497.2M385.2 778.3L660.8 502.7M385.2 783.8L660.8 508.2M385.2 800.3L660.8 524.7M385.2 805.8L660.8 530.2M385.2 811.3L660.8 535.7M385.2 827.8L660.8 552.2M385.2 833.3L660.8 557.7M385.2 838.8L660.8 563.2M385.2 855.3L660.8 579.7M385.2 860.8L660.8 585.2M385.2 866.3L660.8 590.7M385.2 882.8L660.8 607.2M385.2 888.3L660.8 612.7M385.2 893.8L660.8 618.2M385.2 910.3L660.8 634.7M385.2 915.8L660.8 640.2M385.2 921.3L660.8 645.7M385.2 937.8L660.8 662.2M385.2 943.3L660.8 667.7M385.2 948.8L660.8 673.2M385.2 965.3L660.8 689.7M385.2 970.8L660.8 695.2M385.2 976.3L660.8 700.7M385.2 992.8L660.8 717.2M385.2 998.3L660.8 722.7M385.2 1003.8L660.8 728.2M385.2 1020.3L660.8 744.7M385.2 1025.8L660.8 750.2M385.2 1031.3L660.8 755.7M385.2 1047.8L660.8 772.2M385.2 1053.3L660.8 777.7M385.2 1058.8L660.8 783.2M385.2 1075.3L660.8 799.7M385.2 1080.8L660.8 805.2M385.2 1086.3L660.8 810.7M385.2 1102.8L660.8 827.2M385.2 1108.3L660.8 832.7M385.2 1113.8L660.8 838.2M385.2 1130.3L660.8 854.7M385.2 1135.8L660.8 860.2M385.2 1141.3L660.8 865.7M385.2 1157.8L660.8 882.2M385.2 1163.3L660.8 887.7M385.2 1168.8L660.8 893.2"/></g><path d="M385.2 907.8L386.1 907.8L387 907.8L388 907.8L388.9 907.8L389.8 907.8L390.7 907.8L391.6 907.8L392.5 907.8L393.5 907.8L394.4 907.8L395.3 907.8L396.2 907.8L397.1 907.8L398.1 907.8L399 907.8L399.9 907.8L400.8 907.8L401.7 907.8L402.7 907.8L403.6 907.8L404.5 907.8L405.4 907.8L406.3 907.8L407.2 907.8L408.2 907.8L409.1 907.8L410 907.8L410.9 907.8L411.8 907.8L412.8 907.8L413.7 907.8L414.6 907.8L415.5 907.8L416.4 907.8L417.4 907.8L418.3 907.8L419.2 907.8L420.1 907.8L421 907.8L421.9 907.8L422.9 907.8L423.8 907.8L424.7 907.8L425.6 907.8L426.5 907.8L427.5 907.8L428.4 907.8L429.3 907.8L430.2 907.8L431.1 907.8L432.1 907.8L433 907.8L433.9 907.8L434.8 907.8L435.7 907.8L436.6 907.8L437.6 907.8L438.5 907.8L439.4 907.8L440.3 907.8L441.2 907.8L442.2 907.8L443.1 907.8L444 907.8L444.9 907.8L445.8 907.8L446.8 907.8L447.7 907.8L448.6 907.8L449.5 907.8L450.4 907.8L451.3 907.8L452.3 907.8L453.2 907.8L454.1 907.8L455 907.8L455.9 907.8L456.9 907.8L457.8 907.8L458.7 907.8L459.6 907.8L460.5 907.8L461.4 907.8L462.4 907.8L463.3 907.8L464.2 907.8L465.1 907.8L466 907.8L467 907.8L467.9 907.8L468.8 907.8L469.7 907.8L470.6 907.8L471.6 907.8L472.5 907.8L473.4 907.8L474.3 907.8L475.2 907.8L476.1 907.8L477.1 907.8L478 907.8L478.9 907.8L479.8 907.8L480.7 907.8L481.7 907.8L482.6 907.8L483.5 907.8L484.4 907.8L485.3 907.7L486.3 907.7L487.2 907.7L488.1 907.7L489 907.7L489.9 907.7L490.8 907.6L491.8 907.6L492.7 907.5L493.6 907.5L494.5 907.4L495.4 907.4L496.4 907.3L497.3 907.2L498.2 907.1L499.1 907L500 906.8L501 906.7L501.9 906.5L502.8 906.2L503.7 906L504.6 905.7L505.5 905.4L506.5 905L507.4 904.6L508.3 904.1L509.2 903.6L510.1 903L511.1 902.3L512 901.5L512.9 900.7L513.8 899.8L514.7 898.7L515.7 897.6L516.6 896.4L517.5 895L518.4 893.5L519.3 891.8L520.2 890L521.2 888.1L522.1 886L523 883.7L523.9 881.3L524.6 879.4M593.2 879.4L593.7 881L594.7 883.7L595.6 886.2L596.5 888.5L597.4 890.6L598.3 892.5L599.2 894.2L600.2 895.8L601.1 897.3L602 898.6L602.9 899.7L603.8 900.8L604.8 901.7L605.7 902.5L606.6 903.2L607.5 903.9L608.4 904.4L609.4 904.9L610.3 905.4L611.2 905.7L612.1 906L613 906.3L613.9 906.6L614.9 906.8L615.8 906.9L616.7 907.1L617.6 907.2L618.5 907.3L619.5 907.4L620.4 907.5L621.3 907.5L622.2 907.6L623.1 907.6L624.1 907.7L625 907.7L625.9 907.7L626.8 907.7L627.7 907.7L628.6 907.8L629.6 907.8L630.5 907.8L631.4 907.8L632.3 907.8L633.2 907.8L634.2 907.8L635.1 907.8L636 907.8L636.9 907.8L637.8 907.8L638.8 907.8L639.7 907.8L640.6 907.8L641.5 907.8L642.4 907.8L643.3 907.8L644.3 907.8L645.2 907.8L646.1 907.8L647 907.8L647.9 907.8L648.9 907.8L649.8 907.8L650.7 907.8L651.6 907.8L652.5 907.8L653.5 907.8L654.4 907.8L655.3 907.8L656.2 907.8L657.1 907.8L658 907.8L659 907.8L659.9 907.8L660.8 907.8" fill="none" stroke="#0a7a14" stroke-width="2.4"/><path d="M385.2 907.6L386.1 907.6L387 907.5L388 907.5L388.9 907.5L389.8 907.4L390.7 907.4L391.6 907.3L392.5 907.3L393.5 907.2L394.4 907.1L395.3 907.1L396.2 907L397.1 906.9L398.1 906.8L399 906.7L399.9 906.6L400.8 906.4L401.7 906.3L402.7 906.1L403.6 905.9L404.5 905.8L405.4 905.6L406.3 905.3L407.2 905.1L408.2 904.8L409.1 904.5L410 904.2L410.9 903.9L411.8 903.5L412.8 903.1L413.7 902.7L414.6 902.2L415.5 901.8L416.4 901.2L417.4 900.6L418.3 900L419.2 899.4L420.1 898.6L421 897.9L421.9 897.1L422.9 896.2L423.8 895.3L424.7 894.3L425.6 893.2L426.5 892.1L427.5 890.9L428.4 889.6L429.3 888.3L430.2 886.8L431.1 885.3L432.1 883.7L433 882L433.9 880.2L434.8 878.3L435.7 876.3L436.6 874.2L437.6 872L438.5 869.7L439.4 867.3L440.3 864.7L441.2 862.1L442.2 859.3L443.1 856.4L444 853.4L444.9 850.2L445.8 846.9L446.8 843.5L447.7 840L448.6 836.3L449.5 832.5L450.4 828.6L451.3 824.5L452.3 820.3L453.2 816L454.1 811.6L455 807L455.9 802.3L456.9 797.5L457.8 792.6L458.7 787.5L459.6 782.4L460.5 777.1L461.4 771.8L462.4 766.3L463.3 760.8L464.2 755.2L465.1 749.5L466 743.7L467 737.9L467.9 732L468.8 726.1L469.7 720.2L470.6 714.2L471.6 708.2L472.5 702.3L473.4 696.3L474.3 690.3L475.2 684.4L476.1 678.5L477.1 672.7L478 666.9L478.9 661.2L479.8 655.6L480.7 650L481.7 644.6L482.6 639.3L483.5 634.1L484.4 629.1L485.3 624.2L486.3 619.5L487.2 614.9L488.1 610.6L489 606.4L489.9 602.4L490.8 598.6L491.8 595L492.7 591.7L493.6 588.6L494.5 585.7L495.4 583L496.4 580.6L497.3 578.4L498.2 576.5L499.1 574.8L500 573.3L501 572.1L501.9 571.1L502.8 570.4L503.7 569.9L504.6 569.6L505.5 569.6L506.5 569.9L507.4 570.5L508.3 571.4L509.2 572.5L510.1 573.8L511.1 575.3L512 577L512.9 578.9L513.8 580.9L514.7 583.1L515.7 585.4L516.6 587.8L517.5 590.3L518.4 592.9L519.3 595.5L520.2 598.2L521.2 600.9L522.1 603.5L523 606.2L523.9 608.8L524.8 611.4L525.8 613.8L526.7 616.3L527.6 618.6L528.5 620.8L529.4 622.9L530.3 624.8L531.3 626.7L532.2 628.4L533.1 629.9L534 631.3L534.9 632.6L535.9 633.8L536.8 634.8L537.7 635.7L538.6 636.5L539.5 637.2L540.5 637.9L541.4 638.4L542.3 638.9L543.2 639.4L544.1 639.9L545 640.5L546 641L546.9 641.6L547.8 642.4L548.7 643.2L549.6 644.2L550.6 645.3L551.5 646.6L552.4 648.2L553.3 649.9L554.2 652L555.2 654.2L556.1 656.8L557 659.7L557.9 662.8L558.8 666.3L559.7 670L560.7 673.9L561.6 677.9L562.5 682.2L563.4 686.7L564.3 691.5L565.3 696.5L566.2 701.7L567.1 707.2L568 712.8L568.9 718.7L569.9 724.8L570.8 731L571.7 737.4L572.6 743.9L573.5 750.5L574.4 757.1L575.4 763.9L576.3 770.6L577.2 777.3L578.1 784L579 790.7L580 797.2L580.9 803.7L581.8 810L582.7 816.2L583.6 822.2L584.6 828L585.5 833.6L586.4 839L587.3 844.2L588.2 849.1L589.1 853.8L590.1 858.2L591 862.4L591.9 866.4L592.8 870.1L593.7 873.5L594.7 876.7L595.6 879.7L596.5 882.5L597.4 885L598.3 887.3L599.2 889.5L600.2 891.4L601.1 893.2L602 894.8L602.9 896.3L603.8 897.6L604.8 898.7L605.7 899.8L606.6 900.7L607.5 901.6L608.4 902.3L609.4 903L610.3 903.6L611.2 904.1L612.1 904.6L613 905L613.9 905.3L614.9 905.6L615.8 905.9L616.7 906.1L617.6 906.3L618.5 906.5L619.5 906.7L620.4 906.8L621.3 906.9L622.2 907L623.1 907.1L624.1 907.2L625 907.3L625.9 907.3L626.8 907.4L627.7 907.4L628.6 907.5L629.6 907.5L630.5 907.5L631.4 907.6L632.3 907.6L633.2 907.6L634.2 907.6L635.1 907.7L636 907.7L636.9 907.7L637.8 907.7L638.8 907.7L639.7 907.7L640.6 907.7L641.5 907.7L642.4 907.7L643.3 907.7L644.3 907.8L645.2 907.8L646.1 907.8L647 907.8L647.9 907.8L648.9 907.8L649.8 907.8L650.7 907.8L651.6 907.8L652.5 907.8L653.5 907.8L654.4 907.8L655.3 907.8L656.2 907.8L657.1 907.8L658 907.8L659 907.8L659.9 907.8L660.8 907.8" fill="none" stroke="#ff0000" stroke-width="2.6" stroke-linejoin="round"/></g>
<path d="M385.2 907.8V514H660.8V907.8" fill="none" stroke="#000" stroke-width="1.8"/>
<path d="M385.2 907.8v9.2M431.1 907.8v5.5M477.1 907.8v9.2M523 907.8v5.5M568.9 907.8v9.2M614.9 907.8v5.5M660.8 907.8v9.2" stroke="#000" stroke-width="1.8" fill="none"/>
<text transform="translate(385.2 934.5) scale(1 1.12)" font-size="14.8" text-anchor="middle">300</text>
<text transform="translate(477.1 934.5) scale(1 1.12)" font-size="14.8" text-anchor="middle">350</text>
<text transform="translate(568.9 934.5) scale(1 1.12)" font-size="14.8" text-anchor="middle">400</text>
<text transform="translate(660.8 934.5) scale(1 1.12)" font-size="14.8" text-anchor="middle">450</text>
<text transform="translate(392.1 537.5) scale(0.983 1.14)" font-size="21.0" text-anchor="start">P25-S</text>
<text transform="translate(522.9 970.4) scale(0.99 1.05)" font-size="15.35" text-anchor="middle">λ (nm)</text>
<text transform="translate(373.1 717.9) rotate(-90)" font-size="15.35" text-anchor="middle">dR / dλ (a.u.)</text>
<rect x="727.8" y="514.8" width="273.4" height="391" fill="none" stroke="#000" stroke-width="1.8"/>
<g clip-path="url(#fc4)"><path d="M727.8 839.8L727.8 839.8L728.7 839.8L729.6 839.8L730.5 839.8L731.4 839.8L732.4 839.8L733.3 839.8L734.2 839.8L735.1 839.8L736 839.8L736.9 839.8L737.8 839.8L738.7 839.8L739.6 839.8L740.6 839.8L741.5 839.8L742.4 839.8L743.3 839.8L744.2 839.8L745.1 839.8L746 839.8L746.9 839.8L747.8 839.8L748.8 839.8L749.7 839.8L750.6 839.8L751.5 839.8L752.4 839.8L753.3 839.8L754.2 839.8L755.1 839.8L756.1 839.8L757 839.8L757.9 839.8L758.8 839.8L759.7 839.8L760.6 839.8L761.5 839.8L762.4 839.8L763.3 839.8L764.3 839.8L765.2 839.8L766.1 839.8L767 839.8L767.9 839.8L768.8 839.8L769.7 839.8L770.6 839.8L771.5 839.8L772.5 839.8L773.4 839.8L774.3 839.8L775.2 839.8L776.1 839.8L777 839.8L777.9 839.8L778.8 839.8L779.7 839.8L780.7 839.8L781.6 839.8L782.5 839.8L783.4 839.8L784.3 839.8L785.2 839.8L786.1 839.8L787 839.8L787.9 839.8L788.9 839.8L789.8 839.8L790.7 839.8L791.6 839.8L792.5 839.8L793.4 839.8L794.3 839.8L795.2 839.8L796.1 839.8L797.1 839.8L798 839.8L798.9 839.8L799.8 839.8L800.7 839.8L801.6 839.8L802.5 839.6L803.4 835.9L804.4 832.1L805.3 828.1L806.2 824L807.1 819.8L808 815.4L808.9 810.9L809.8 806.3L810.7 801.5L811.6 796.6L812.6 791.6L813.5 786.5L814.4 781.2L815.3 775.9L816.2 770.4L817.1 764.8L818 759.1L818.9 753.4L819.8 747.5L820.8 741.6L821.7 735.6L822.6 729.5L823.5 723.4L824.4 717.3L825.3 711.1L826.2 705L827.1 698.8L828 692.6L829 686.4L829.9 680.3L830.8 674.2L831.7 668.1L832.6 662.1L833.5 656.2L834.4 650.4L835.3 644.7L836.2 639.1L837.2 633.6L838.1 628.3L839 623.1L839.9 618.1L840.8 613.3L841.7 608.6L842.6 604.2L843.5 600L844.5 596L845.4 592.3L846.3 588.8L847.2 585.5L848.1 582.6L849 579.8L849.9 577.4L850.8 575.3L851.7 573.5L852.7 571.9L853.6 570.7L854.5 569.8L855.4 569.1L856.3 568.8L857.2 568.9L858.1 569.2L859 569.9L859.9 570.9L860.9 572.2L861.8 573.8L862.7 575.7L863.6 577.8L864.5 580.3L865.4 583L866.3 586L867.2 589.3L868.1 592.8L869.1 596.5L870 600.5L870.9 604.7L871.8 609.1L872.7 613.6L873.6 618.4L874.5 623.4L875.4 628.5L876.3 633.7L877.3 639.1L878.2 644.7L879.1 650.3L880 656L880.9 661.8L881.8 667.7L882.7 673.7L883.6 679.7L884.5 685.7L885.5 691.8L886.4 697.9L887.3 704L888.2 710.1L889.1 716.1L890 722.2L890.9 728.2L891.8 734.1L892.8 740L893.7 745.8L894.6 751.6L895.5 757.3L896.4 762.9L897.3 768.4L898.2 773.8L899.1 779.1L900 784.3L901 789.4L901.9 794.4L902.8 799.3L903.7 804L904.6 808.6L905.5 813.1L906.4 817.4L907.3 821.6L908.2 825.7L909.2 829.7L910.1 833.5L911 837.2L911.9 839.8L912.8 839.8L913.7 839.8L914.6 839.8L915.5 839.8L916.4 839.8L917.4 839.8L918.3 839.8L919.2 839.8L920.1 839.8L921 839.8L921.9 839.8L922.8 839.8L923.7 839.8L924.6 839.8L925.6 839.8L926.5 839.8L927.4 839.8L928.3 839.8L929.2 839.8L930.1 839.8L931 839.8L931.9 839.8L932.9 839.8L933.8 839.8L934.7 839.8L935.6 839.8L936.5 839.8L937.4 839.8L938.3 839.8L939.2 839.8L940.1 839.8L941.1 839.8L942 839.8L942.9 839.8L943.8 839.8L944.7 839.8L945.6 839.8L946.5 839.8L947.4 839.8L948.3 839.8L949.3 839.8L950.2 839.8L951.1 839.8L952 839.8L952.9 839.8L953.8 839.8L954.7 839.8L955.6 839.8L956.5 839.8L957.5 839.8L958.4 839.8L959.3 839.8L960.2 839.8L961.1 839.8L962 839.8L962.9 839.8L963.8 839.8L964.7 839.8L965.7 839.8L966.6 839.8L967.5 839.8L968.4 839.8L969.3 839.8L970.2 839.8L971.1 839.8L972 839.8L972.9 839.8L973.9 839.8L974.8 839.8L975.7 839.8L976.6 839.8L977.5 839.8L978.4 839.8L979.3 839.8L980.2 839.8L981.2 839.8L982.1 839.8L983 839.8L983.9 839.8L984.8 839.8L985.7 839.8L986.6 839.8L987.5 839.8L988.4 839.8L989.4 839.8L990.3 839.8L991.2 839.8L992.1 839.8L993 839.8L993.9 839.8L994.8 839.8L995.7 839.8L996.6 839.8L997.6 839.8L998.5 839.8L999.4 839.8L1000.3 839.8L1001.2 839.8L1001.2 839.8Z" fill="#00ffff"/><g clip-path="url(#h4A0)" fill="none" stroke="#000" stroke-width="1.1"><path d="M727.8 518L1001.2 244.5M727.8 525.5L1001.2 252.1M727.8 540.6L1001.2 267.2M727.8 548.2L1001.2 274.8M727.8 563.2L1001.2 289.8M727.8 570.8L1001.2 297.4M727.8 585.9L1001.2 312.5M727.8 593.5L1001.2 320M727.8 608.5L1001.2 335.1M727.8 616.1L1001.2 342.7M727.8 631.2L1001.2 357.8M727.8 638.8L1001.2 365.3M727.8 653.8L1001.2 380.4M727.8 661.4L1001.2 388M727.8 676.5L1001.2 403.1M727.8 684L1001.2 410.6M727.8 699.2L1001.2 425.8M727.8 706.7L1001.2 433.3M727.8 721.8L1001.2 448.4M727.8 729.3L1001.2 455.9M727.8 744.5L1001.2 471M727.8 752L1001.2 478.6M727.8 767.1L1001.2 493.7M727.8 774.7L1001.2 501.2M727.8 789.8L1001.2 516.3M727.8 797.3L1001.2 523.9M727.8 812.4L1001.2 539M727.8 820L1001.2 546.5M727.8 835L1001.2 561.6M727.8 842.6L1001.2 569.2M727.8 857.7L1001.2 584.3M727.8 865.2L1001.2 591.8M727.8 880.3L1001.2 606.9M727.8 887.9L1001.2 614.5M727.8 903L1001.2 629.6M727.8 910.5L1001.2 637.1M727.8 925.7L1001.2 652.2M727.8 933.2L1001.2 659.8M727.8 948.3L1001.2 674.9M727.8 955.8L1001.2 682.4M727.8 971L1001.2 697.5M727.8 978.5L1001.2 705.1M727.8 993.6L1001.2 720.2M727.8 1001.2L1001.2 727.8M727.8 1016.2L1001.2 742.8M727.8 1023.8L1001.2 750.4M727.8 1038.9L1001.2 765.5M727.8 1046.5L1001.2 773M727.8 1061.5L1001.2 788.1M727.8 1069.1L1001.2 795.7M727.8 1084.2L1001.2 810.8M727.8 1091.8L1001.2 818.3M727.8 1106.8L1001.2 833.4M727.8 1114.4L1001.2 841M727.8 1129.5L1001.2 856.1M727.8 1137L1001.2 863.6M727.8 1152.2L1001.2 878.8M727.8 1159.7L1001.2 886.3M727.8 1174.8L1001.2 901.4" mask="url(#m4A0a)"/><path d="M727.8 510.4L1001.2 237M727.8 533L1001.2 259.6M727.8 555.7L1001.2 282.3M727.8 578.3L1001.2 304.9M727.8 601L1001.2 327.6M727.8 623.7L1001.2 350.2M727.8 646.3L1001.2 372.9M727.8 669L1001.2 395.5M727.8 691.6L1001.2 418.2M727.8 714.2L1001.2 440.8M727.8 736.9L1001.2 463.5M727.8 759.5L1001.2 486.1M727.8 782.2L1001.2 508.8M727.8 804.8L1001.2 531.4M727.8 827.5L1001.2 554.1M727.8 850.2L1001.2 576.8M727.8 872.8L1001.2 599.4M727.8 895.5L1001.2 622M727.8 918.1L1001.2 644.7M727.8 940.8L1001.2 667.3M727.8 963.4L1001.2 690M727.8 986L1001.2 712.6M727.8 1008.7L1001.2 735.3M727.8 1031.3L1001.2 757.9M727.8 1054L1001.2 780.6M727.8 1076.7L1001.2 803.2M727.8 1099.3L1001.2 825.9M727.8 1122L1001.2 848.5M727.8 1144.6L1001.2 871.2M727.8 1167.2L1001.2 893.8" mask="url(#m4A0b)"/></g><g clip-path="url(#h4B0)" fill="none" stroke="#000" stroke-width="1.1"><path d="M727.8 518L1001.2 244.5M727.8 525.5L1001.2 252.1M727.8 540.6L1001.2 267.2M727.8 548.2L1001.2 274.8M727.8 563.2L1001.2 289.8M727.8 570.8L1001.2 297.4M727.8 585.9L1001.2 312.5M727.8 593.5L1001.2 320M727.8 608.5L1001.2 335.1M727.8 616.1L1001.2 342.7M727.8 631.2L1001.2 357.8M727.8 638.8L1001.2 365.3M727.8 653.8L1001.2 380.4M727.8 661.4L1001.2 388M727.8 676.5L1001.2 403.1M727.8 684L1001.2 410.6M727.8 699.2L1001.2 425.8M727.8 706.7L1001.2 433.3M727.8 721.8L1001.2 448.4M727.8 729.3L1001.2 455.9M727.8 744.5L1001.2 471M727.8 752L1001.2 478.6M727.8 767.1L1001.2 493.7M727.8 774.7L1001.2 501.2M727.8 789.8L1001.2 516.3M727.8 797.3L1001.2 523.9M727.8 812.4L1001.2 539M727.8 820L1001.2 546.5M727.8 835L1001.2 561.6M727.8 842.6L1001.2 569.2M727.8 857.7L1001.2 584.3M727.8 865.2L1001.2 591.8M727.8 880.3L1001.2 606.9M727.8 887.9L1001.2 614.5M727.8 903L1001.2 629.6M727.8 910.5L1001.2 637.1M727.8 925.7L1001.2 652.2M727.8 933.2L1001.2 659.8M727.8 948.3L1001.2 674.9M727.8 955.8L1001.2 682.4M727.8 971L1001.2 697.5M727.8 978.5L1001.2 705.1M727.8 993.6L1001.2 720.2M727.8 1001.2L1001.2 727.8M727.8 1016.2L1001.2 742.8M727.8 1023.8L1001.2 750.4M727.8 1038.9L1001.2 765.5M727.8 1046.5L1001.2 773M727.8 1061.5L1001.2 788.1M727.8 1069.1L1001.2 795.7M727.8 1084.2L1001.2 810.8M727.8 1091.8L1001.2 818.3M727.8 1106.8L1001.2 833.4M727.8 1114.4L1001.2 841M727.8 1129.5L1001.2 856.1M727.8 1137L1001.2 863.6M727.8 1152.2L1001.2 878.8M727.8 1159.7L1001.2 886.3M727.8 1174.8L1001.2 901.4" mask="url(#m4B0a)"/></g><path d="M911.65 839.8L911.9 840.7L912.8 844.2L913.7 847.4L914.6 850.6L915.5 853.7L916.4 856.6L917.4 859.4L918.3 862L919.2 864.6L920.1 867L921 869.3L921.9 871.6L922.8 873.7L923.7 875.7L924.6 877.6L925.6 879.4L926.5 881.1L927.4 882.7L928.3 884.3L929.2 885.7L930.1 887.1L931 888.4L931.9 889.6L932.9 890.7L933.8 891.8L934.7 892.8L935.6 893.7L936.5 894.6L937.4 895.5L938.3 896.2L939.2 897L940.1 897.6L941.1 898.3L942 898.9L942.9 899.4L943.8 899.9L944.7 900.4L945.6 900.8L946.5 901.2L947.4 901.6L948.3 902L949.3 902.3L950.2 902.6L951.1 902.9L952 903.1L952.9 903.4L953.8 903.6L954.7 903.8L955.6 904L956.5 904.1L957.5 904.3L958.4 904.4L959.3 904.5L960.2 904.7L961.1 904.8L962 904.9L962.9 905L963.8 905L964.7 905.1L965.7 905.2L966.6 905.2L967.5 905.3L968.4 905.4L969.3 905.4L970.2 905.4L971.1 905.5L972 905.5L972.9 905.5L973.9 905.6L974.8 905.6L975.7 905.6L976.6 905.6L977.5 905.7L978.4 905.7L979.3 905.7L980.2 905.7L981.2 905.7L982.1 905.7L983 905.7L983.9 905.7L984.8 905.7L985.7 905.7L986.6 905.8L987.5 905.8L988.4 905.8L989.4 905.8L990.3 905.8L991.2 905.8L992.1 905.8L993 905.8L993.9 905.8L994.8 905.8L995.7 905.8L996.6 905.8L997.6 905.8L998.5 905.8L999.4 905.8L1000.3 905.8L1001.2 905.8" fill="none" stroke="#0000ff" stroke-width="2.5"/><path transform="translate(-1.4 -0.3)" d="M751.97 905L752.4 905L753.3 904.9L754.2 904.8L755.1 904.7L756.1 904.5L757 904.4L757.9 904.3L758.8 904.1L759.7 903.9L760.6 903.7L761.5 903.5L762.4 903.3L763.3 903L764.3 902.8L765.2 902.5L766.1 902.2L767 901.8L767.9 901.5L768.8 901.1L769.7 900.6L770.6 900.2L771.5 899.6L772.5 899.1L773.4 898.5L774.3 897.9L775.2 897.2L776.1 896.5L777 895.7L777.9 894.9L778.8 894L779.7 893L780.7 892L781.6 890.9L782.5 889.8L783.4 888.5L784.3 887.2L785.2 885.8L786.1 884.4L787 882.8L787.9 881.1L788.9 879.4L789.8 877.5L790.7 875.6L791.6 873.5L792.5 871.4L793.4 869.1L794.3 866.7L795.2 864.2L796.1 861.6L797.1 858.8L798 855.9L798.9 852.9L799.8 849.8L800.7 846.5L801.6 843.1L802.47 839.8" fill="none" stroke="#0000ff" stroke-width="2.5"/><path d="M727.8 870.9L727.8 870.9L728.7 870.9L729.6 870.9L730.5 870.9L731.4 870.9L732.4 870.9L733.3 870.9L734.2 870.9L735.1 870.9L736 870.9L736.9 870.9L737.8 870.9L738.7 870.9L739.6 870.9L740.6 870.9L741.5 870.9L742.4 870.9L743.3 870.9L744.2 870.9L745.1 870.9L746 870.9L746.9 870.9L747.8 870.9L748.8 870.9L749.7 870.9L750.6 870.9L751.5 870.9L752.4 870.9L753.3 870.9L754.2 870.9L755.1 870.9L756.1 870.9L757 870.9L757.9 870.9L758.8 870.9L759.7 870.9L760.6 870.9L761.5 870.9L762.4 870.9L763.3 870.9L764.3 870.9L765.2 870.9L766.1 870.9L767 870.9L767.9 870.9L768.8 870.9L769.7 870.9L770.6 870.9L771.5 870.9L772.5 870.9L773.4 870.9L774.3 870.9L775.2 870.9L776.1 870.9L777 870.9L777.9 870.9L778.8 870.9L779.7 870.9L780.7 870.9L781.6 870.9L782.5 870.9L783.4 870.9L784.3 870.9L785.2 870.9L786.1 870.9L787 870.9L787.9 870.9L788.9 870.9L789.8 870.9L790.7 870.9L791.6 870.9L792.5 870.9L793.4 870.9L794.3 870.9L795.2 870.9L796.1 870.9L797.1 870.9L798 870.9L798.9 870.9L799.8 870.9L800.7 870.9L801.6 870.9L802.5 870.9L803.4 870.9L804.4 870.9L805.3 870.9L806.2 870.9L807.1 870.9L808 870.9L808.9 870.9L809.8 870.9L810.7 870.9L811.6 870.9L812.6 870.9L813.5 870.9L814.4 870.9L815.3 870.9L816.2 870.9L817.1 870.9L818 870.9L818.9 870.9L819.8 870.9L820.8 870.9L821.7 870.9L822.6 870.9L823.5 870.9L824.4 870.9L825.3 870.9L826.2 870.9L827.1 870.9L828 870.9L829 870.9L829.9 870.9L830.8 870.9L831.7 870.9L832.6 870.9L833.5 870.9L834.4 870.9L835.3 870.9L836.2 870.9L837.2 870.9L838.1 870.9L839 870.9L839.9 870.9L840.8 870.9L841.7 870.9L842.6 870.9L843.5 870.9L844.5 870.9L845.4 870.9L846.3 870.9L847.2 870.9L848.1 870.9L849 870.9L849.9 870.9L850.8 870.9L851.7 870.9L852.7 870.9L853.6 870.9L854.5 870.9L855.4 870.9L856.3 870.9L857.2 870.9L858.1 870.9L859 870.9L859.9 870.9L860.9 870.9L861.8 870.9L862.7 870.9L863.6 870.9L864.5 870.9L865.4 870.9L866.3 870.9L867.2 870.9L868.1 870.9L869.1 870.9L870 870.9L870.9 870.9L871.8 870.9L872.7 870.9L873.6 870.9L874.5 870.9L875.4 870.9L876.3 870.9L877.3 870.9L878.2 867.7L879.1 863.8L880 859.6L880.9 855.2L881.8 850.5L882.7 845.6L883.6 840.4L884.5 834.9L885.5 829.3L886.4 823.4L887.3 817.3L888.2 811.1L889.1 804.7L890 798.3L890.9 791.7L891.8 785.1L892.8 778.6L893.7 772L894.6 765.6L895.5 759.3L896.4 753.2L897.3 747.3L898.2 741.7L899.1 736.5L900 731.6L901 727.2L901.9 723.2L902.8 719.8L903.7 716.9L904.6 714.6L905.5 713L906.4 712L907.3 711.8L908.2 712L909.2 712.7L910.1 713.8L911 715.5L911.9 717.6L912.8 720.2L913.7 723.3L914.6 726.9L915.5 731L916.4 735.5L917.4 740.5L918.3 745.8L919.2 751.4L920.1 757.3L921 763.5L921.9 769.9L922.8 776.5L923.7 783.2L924.6 789.9L925.6 796.6L926.5 803.4L927.4 810L928.3 816.6L929.2 823L930.1 829.2L931 835.3L931.9 841.1L932.9 846.6L933.8 851.9L934.7 856.9L935.6 861.6L936.5 866L937.4 870.1L938.3 870.9L939.2 870.9L940.1 870.9L941.1 870.9L942 870.9L942.9 870.9L943.8 870.9L944.7 870.9L945.6 870.9L946.5 870.9L947.4 870.9L948.3 870.9L949.3 870.9L950.2 870.9L951.1 870.9L952 870.9L952.9 870.9L953.8 870.9L954.7 870.9L955.6 870.9L956.5 870.9L957.5 870.9L958.4 870.9L959.3 870.9L960.2 870.9L961.1 870.9L962 870.9L962.9 870.9L963.8 870.9L964.7 870.9L965.7 870.9L966.6 870.9L967.5 870.9L968.4 870.9L969.3 870.9L970.2 870.9L971.1 870.9L972 870.9L972.9 870.9L973.9 870.9L974.8 870.9L975.7 870.9L976.6 870.9L977.5 870.9L978.4 870.9L979.3 870.9L980.2 870.9L981.2 870.9L982.1 870.9L983 870.9L983.9 870.9L984.8 870.9L985.7 870.9L986.6 870.9L987.5 870.9L988.4 870.9L989.4 870.9L990.3 870.9L991.2 870.9L992.1 870.9L993 870.9L993.9 870.9L994.8 870.9L995.7 870.9L996.6 870.9L997.6 870.9L998.5 870.9L999.4 870.9L1000.3 870.9L1001.2 870.9L1001.2 870.9Z" fill="#00ff00"/><g clip-path="url(#h4C0)" fill="none" stroke="#000" stroke-width="1.1"><path d="M727.8 510.7L1001.2 237.3M727.8 516.2L1001.2 242.8M727.8 521.7L1001.2 248.3M727.8 538.2L1001.2 264.8M727.8 543.7L1001.2 270.3M727.8 549.2L1001.2 275.8M727.8 565.7L1001.2 292.3M727.8 571.2L1001.2 297.8M727.8 576.7L1001.2 303.3M727.8 593.2L1001.2 319.8M727.8 598.7L1001.2 325.3M727.8 604.2L1001.2 330.8M727.8 620.7L1001.2 347.3M727.8 626.2L1001.2 352.8M727.8 631.7L1001.2 358.3M727.8 648.2L1001.2 374.8M727.8 653.7L1001.2 380.3M727.8 659.2L1001.2 385.8M727.8 675.7L1001.2 402.3M727.8 681.2L1001.2 407.8M727.8 686.7L1001.2 413.3M727.8 703.2L1001.2 429.8M727.8 708.7L1001.2 435.3M727.8 714.2L1001.2 440.8M727.8 730.7L1001.2 457.3M727.8 736.2L1001.2 462.8M727.8 741.7L1001.2 468.3M727.8 758.2L1001.2 484.8M727.8 763.7L1001.2 490.3M727.8 769.2L1001.2 495.8M727.8 785.7L1001.2 512.3M727.8 791.2L1001.2 517.8M727.8 796.7L1001.2 523.3M727.8 813.2L1001.2 539.8M727.8 818.7L1001.2 545.3M727.8 824.2L1001.2 550.8M727.8 840.7L1001.2 567.3M727.8 846.2L1001.2 572.8M727.8 851.7L1001.2 578.3M727.8 868.2L1001.2 594.8M727.8 873.7L1001.2 600.3M727.8 879.2L1001.2 605.8M727.8 895.7L1001.2 622.3M727.8 901.2L1001.2 627.8M727.8 906.7L1001.2 633.3M727.8 923.2L1001.2 649.8M727.8 928.7L1001.2 655.3M727.8 934.2L1001.2 660.8M727.8 950.7L1001.2 677.3M727.8 956.2L1001.2 682.8M727.8 961.7L1001.2 688.3M727.8 978.2L1001.2 704.8M727.8 983.7L1001.2 710.3M727.8 989.2L1001.2 715.8M727.8 1005.7L1001.2 732.3M727.8 1011.2L1001.2 737.8M727.8 1016.7L1001.2 743.3M727.8 1033.2L1001.2 759.8M727.8 1038.7L1001.2 765.3M727.8 1044.2L1001.2 770.8M727.8 1060.7L1001.2 787.3M727.8 1066.2L1001.2 792.8M727.8 1071.7L1001.2 798.3M727.8 1088.2L1001.2 814.8M727.8 1093.7L1001.2 820.3M727.8 1099.2L1001.2 825.8M727.8 1115.7L1001.2 842.3M727.8 1121.2L1001.2 847.8M727.8 1126.7L1001.2 853.3M727.8 1143.2L1001.2 869.8M727.8 1148.7L1001.2 875.3M727.8 1154.2L1001.2 880.8M727.8 1170.7L1001.2 897.3M727.8 1176.2L1001.2 902.8" mask="url(#m4C0a)"/><path d="M727.8 527.2L1001.2 253.8M727.8 532.7L1001.2 259.3M727.8 554.7L1001.2 281.3M727.8 560.2L1001.2 286.8M727.8 582.2L1001.2 308.8M727.8 587.7L1001.2 314.3M727.8 609.7L1001.2 336.3M727.8 615.2L1001.2 341.8M727.8 637.2L1001.2 363.8M727.8 642.7L1001.2 369.3M727.8 664.7L1001.2 391.3M727.8 670.2L1001.2 396.8M727.8 692.2L1001.2 418.8M727.8 697.7L1001.2 424.3M727.8 719.7L1001.2 446.3M727.8 725.2L1001.2 451.8M727.8 747.2L1001.2 473.8M727.8 752.7L1001.2 479.3M727.8 774.7L1001.2 501.3M727.8 780.2L1001.2 506.8M727.8 802.2L1001.2 528.8M727.8 807.7L1001.2 534.3M727.8 829.7L1001.2 556.3M727.8 835.2L1001.2 561.8M727.8 857.2L1001.2 583.8M727.8 862.7L1001.2 589.3M727.8 884.7L1001.2 611.3M727.8 890.2L1001.2 616.8M727.8 912.2L1001.2 638.8M727.8 917.7L1001.2 644.3M727.8 939.7L1001.2 666.3M727.8 945.2L1001.2 671.8M727.8 967.2L1001.2 693.8M727.8 972.7L1001.2 699.3M727.8 994.7L1001.2 721.3M727.8 1000.2L1001.2 726.8M727.8 1022.2L1001.2 748.8M727.8 1027.7L1001.2 754.3M727.8 1049.7L1001.2 776.3M727.8 1055.2L1001.2 781.8M727.8 1077.2L1001.2 803.8M727.8 1082.7L1001.2 809.3M727.8 1104.7L1001.2 831.3M727.8 1110.2L1001.2 836.8M727.8 1132.2L1001.2 858.8M727.8 1137.7L1001.2 864.3M727.8 1159.7L1001.2 886.3M727.8 1165.2L1001.2 891.8" mask="url(#m4C0b)"/></g><g clip-path="url(#h4D0)" fill="none" stroke="#000" stroke-width="1.1"><path d="M727.8 512.7L1001.2 239.3M727.8 518.2L1001.2 244.8M727.8 523.7L1001.2 250.3M727.8 540.2L1001.2 266.8M727.8 545.7L1001.2 272.3M727.8 551.2L1001.2 277.8M727.8 567.7L1001.2 294.3M727.8 573.2L1001.2 299.8M727.8 578.7L1001.2 305.3M727.8 595.2L1001.2 321.8M727.8 600.7L1001.2 327.3M727.8 606.2L1001.2 332.8M727.8 622.7L1001.2 349.3M727.8 628.2L1001.2 354.8M727.8 633.7L1001.2 360.3M727.8 650.2L1001.2 376.8M727.8 655.7L1001.2 382.3M727.8 661.2L1001.2 387.8M727.8 677.7L1001.2 404.3M727.8 683.2L1001.2 409.8M727.8 688.7L1001.2 415.3M727.8 705.2L1001.2 431.8M727.8 710.7L1001.2 437.3M727.8 716.2L1001.2 442.8M727.8 732.7L1001.2 459.3M727.8 738.2L1001.2 464.8M727.8 743.7L1001.2 470.3M727.8 760.2L1001.2 486.8M727.8 765.7L1001.2 492.3M727.8 771.2L1001.2 497.8M727.8 787.7L1001.2 514.3M727.8 793.2L1001.2 519.8M727.8 798.7L1001.2 525.3M727.8 815.2L1001.2 541.8M727.8 820.7L1001.2 547.3M727.8 826.2L1001.2 552.8M727.8 842.7L1001.2 569.3M727.8 848.2L1001.2 574.8M727.8 853.7L1001.2 580.3M727.8 870.2L1001.2 596.8M727.8 875.7L1001.2 602.3M727.8 881.2L1001.2 607.8M727.8 897.7L1001.2 624.3M727.8 903.2L1001.2 629.8M727.8 908.7L1001.2 635.3M727.8 925.2L1001.2 651.8M727.8 930.7L1001.2 657.3M727.8 936.2L1001.2 662.8M727.8 952.7L1001.2 679.3M727.8 958.2L1001.2 684.8M727.8 963.7L1001.2 690.3M727.8 980.2L1001.2 706.8M727.8 985.7L1001.2 712.3M727.8 991.2L1001.2 717.8M727.8 1007.7L1001.2 734.3M727.8 1013.2L1001.2 739.8M727.8 1018.7L1001.2 745.3M727.8 1035.2L1001.2 761.8M727.8 1040.7L1001.2 767.3M727.8 1046.2L1001.2 772.8M727.8 1062.7L1001.2 789.3M727.8 1068.2L1001.2 794.8M727.8 1073.7L1001.2 800.3M727.8 1090.2L1001.2 816.8M727.8 1095.7L1001.2 822.3M727.8 1101.2L1001.2 827.8M727.8 1117.7L1001.2 844.3M727.8 1123.2L1001.2 849.8M727.8 1128.7L1001.2 855.3M727.8 1145.2L1001.2 871.8M727.8 1150.7L1001.2 877.3M727.8 1156.2L1001.2 882.8M727.8 1172.7L1001.2 899.3M727.8 1178.2L1001.2 904.8"/></g><path d="M727.8 905.8L728.7 905.8L729.6 905.8L730.5 905.8L731.4 905.8L732.4 905.8L733.3 905.8L734.2 905.8L735.1 905.8L736 905.8L736.9 905.8L737.8 905.8L738.7 905.8L739.6 905.8L740.6 905.8L741.5 905.8L742.4 905.8L743.3 905.8L744.2 905.8L745.1 905.8L746 905.8L746.9 905.8L747.8 905.8L748.8 905.8L749.7 905.8L750.6 905.8L751.5 905.8L752.4 905.8L753.3 905.8L754.2 905.8L755.1 905.8L756.1 905.8L757 905.8L757.9 905.8L758.8 905.8L759.7 905.8L760.6 905.8L761.5 905.8L762.4 905.8L763.3 905.8L764.3 905.8L765.2 905.8L766.1 905.8L767 905.8L767.9 905.8L768.8 905.8L769.7 905.8L770.6 905.8L771.5 905.8L772.5 905.8L773.4 905.8L774.3 905.8L775.2 905.8L776.1 905.8L777 905.8L777.9 905.8L778.8 905.8L779.7 905.8L780.7 905.8L781.6 905.8L782.5 905.8L783.4 905.8L784.3 905.8L785.2 905.8L786.1 905.8L787 905.8L787.9 905.8L788.9 905.8L789.8 905.8L790.7 905.8L791.6 905.8L792.5 905.8L793.4 905.8L794.3 905.8L795.2 905.8L796.1 905.8L797.1 905.8L798 905.8L798.9 905.8L799.8 905.8L800.7 905.8L801.6 905.8L802.5 905.8L803.4 905.8L804.4 905.8L805.3 905.8L806.2 905.8L807.1 905.8L808 905.8L808.9 905.8L809.8 905.8L810.7 905.8L811.6 905.8L812.6 905.8L813.5 905.8L814.4 905.8L815.3 905.8L816.2 905.8L817.1 905.8L818 905.8L818.9 905.8L819.8 905.8L820.8 905.8L821.7 905.8L822.6 905.8L823.5 905.8L824.4 905.8L825.3 905.8L826.2 905.8L827.1 905.8L828 905.8L829 905.8L829.9 905.8L830.8 905.8L831.7 905.8L832.6 905.8L833.5 905.8L834.4 905.8L835.3 905.8L836.2 905.8L837.2 905.8L838.1 905.8L839 905.8L839.9 905.7L840.8 905.7L841.7 905.7L842.6 905.7L843.5 905.7L844.5 905.7L845.4 905.6L846.3 905.6L847.2 905.5L848.1 905.5L849 905.4L849.9 905.3L850.8 905.2L851.7 905.1L852.7 905L853.6 904.9L854.5 904.7L855.4 904.5L856.3 904.2L857.2 903.9L858.1 903.6L859 903.2L859.9 902.8L860.9 902.3L861.8 901.7L862.7 901.1L863.6 900.3L864.5 899.5L865.4 898.6L866.3 897.5L867.2 896.3L868.1 895L869.1 893.5L870 891.8L870.9 890L871.8 888L872.7 885.8L873.6 883.3L874.5 880.7L875.4 877.8L876.3 874.7L877.3 871.3L877.36 870.9M937.59 870.9L938.3 873.9L939.2 877.4L940.1 880.6L941.1 883.6L942 886.3L942.9 888.7L943.8 890.9L944.7 892.8L945.6 894.6L946.5 896.1L947.4 897.5L948.3 898.7L949.3 899.8L950.2 900.7L951.1 901.5L952 902.2L952.9 902.8L953.8 903.3L954.7 903.7L955.6 904.1L956.5 904.4L957.5 904.6L958.4 904.8L959.3 905L960.2 905.2L961.1 905.3L962 905.4L962.9 905.5L963.8 905.5L964.7 905.6L965.7 905.6L966.6 905.7L967.5 905.7L968.4 905.7L969.3 905.7L970.2 905.8L971.1 905.8L972 905.8L972.9 905.8L973.9 905.8L974.8 905.8L975.7 905.8L976.6 905.8L977.5 905.8L978.4 905.8L979.3 905.8L980.2 905.8L981.2 905.8L982.1 905.8L983 905.8L983.9 905.8L984.8 905.8L985.7 905.8L986.6 905.8L987.5 905.8L988.4 905.8L989.4 905.8L990.3 905.8L991.2 905.8L992.1 905.8L993 905.8L993.9 905.8L994.8 905.8L995.7 905.8L996.6 905.8L997.6 905.8L998.5 905.8L999.4 905.8L1000.3 905.8L1001.2 905.8" fill="none" stroke="#0a7a14" stroke-width="2.4"/><path d="M727.8 905.8L728.7 905.8L729.6 905.8L730.5 905.7L731.4 905.7L732.4 905.7L733.3 905.7L734.2 905.7L735.1 905.7L736 905.7L736.9 905.7L737.8 905.7L738.7 905.6L739.6 905.6L740.6 905.6L741.5 905.6L742.4 905.5L743.3 905.5L744.2 905.5L745.1 905.4L746 905.4L746.9 905.4L747.8 905.3L748.8 905.2L749.7 905.2L750.6 905.1L751.5 905L752.4 905L753.3 904.9L754.2 904.8L755.1 904.7L756.1 904.5L757 904.4L757.9 904.3L758.8 904.1L759.7 903.9L760.6 903.7L761.5 903.5L762.4 903.3L763.3 903L764.3 902.8L765.2 902.5L766.1 902.2L767 901.8L767.9 901.5L768.8 901.1L769.7 900.6L770.6 900.2L771.5 899.6L772.5 899.1L773.4 898.5L774.3 897.9L775.2 897.2L776.1 896.5L777 895.7L777.9 894.9L778.8 894L779.7 893L780.7 892L781.6 890.9L782.5 889.8L783.4 888.5L784.3 887.2L785.2 885.8L786.1 884.4L787 882.8L787.9 881.1L788.9 879.4L789.8 877.5L790.7 875.6L791.6 873.5L792.5 871.4L793.4 869.1L794.3 866.7L795.2 864.2L796.1 861.6L797.1 858.8L798 855.9L798.9 852.9L799.8 849.8L800.7 846.5L801.6 843.1L802.5 839.6L803.4 835.9L804.4 832.1L805.3 828.1L806.2 824L807.1 819.8L808 815.4L808.9 810.9L809.8 806.3L810.7 801.5L811.6 796.6L812.6 791.6L813.5 786.5L814.4 781.2L815.3 775.9L816.2 770.4L817.1 764.8L818 759.1L818.9 753.4L819.8 747.5L820.8 741.6L821.7 735.6L822.6 729.5L823.5 723.4L824.4 717.3L825.3 711.1L826.2 705L827.1 698.8L828 692.6L829 686.4L829.9 680.3L830.8 674.1L831.7 668.1L832.6 662.1L833.5 656.2L834.4 650.4L835.3 644.7L836.2 639L837.2 633.6L838.1 628.2L839 623.1L839.9 618L840.8 613.2L841.7 608.6L842.6 604.1L843.5 599.9L844.5 595.9L845.4 592.1L846.3 588.6L847.2 585.3L848.1 582.2L849 579.5L849.9 577L850.8 574.7L851.7 572.8L852.7 571.1L853.6 569.7L854.5 568.6L855.4 567.8L856.3 567.3L857.2 567L858.1 567L859 567.3L859.9 567.9L860.9 568.7L861.8 569.7L862.7 570.9L863.6 572.4L864.5 574L865.4 575.8L866.3 577.7L867.2 579.8L868.1 581.9L869.1 584.2L870 586.5L870.9 588.9L871.8 591.2L872.7 593.6L873.6 596L874.5 598.3L875.4 600.5L876.3 602.6L877.3 604.6L878.2 606.5L879.1 608.3L880 609.8L880.9 611.2L881.8 612.4L882.7 613.5L883.6 614.3L884.5 614.9L885.5 615.3L886.4 615.5L887.3 615.5L888.2 615.4L889.1 615.1L890 614.6L890.9 614.1L891.8 613.5L892.8 612.8L893.7 612.1L894.6 611.4L895.5 610.8L896.4 610.3L897.3 609.9L898.2 609.8L899.1 609.8L900 610.2L901 610.8L901.9 611.8L902.8 613.2L903.7 615.1L904.6 617.4L905.5 620.3L906.4 623.6L907.3 627.6L908.2 632L909.2 636.6L910.1 641.5L911 646.8L911.9 652.5L912.8 658.6L913.7 665L914.6 671.8L915.5 678.9L916.4 686.3L917.4 694L918.3 702L919.2 710.2L920.1 718.6L921 727.1L921.9 735.7L922.8 744.4L923.7 753L924.6 761.7L925.6 770.2L926.5 778.7L927.4 787L928.3 795L929.2 802.9L930.1 810.5L931 817.8L931.9 824.8L932.9 831.5L933.8 837.9L934.7 843.9L935.6 849.5L936.5 854.8L937.4 859.8L938.3 864.3L939.2 868.6L940.1 872.5L941.1 876.1L942 879.3L942.9 882.3L943.8 885L944.7 887.4L945.6 889.6L946.5 891.6L947.4 893.3L948.3 894.9L949.3 896.3L950.2 897.5L951.1 898.6L952 899.5L952.9 900.3L953.8 901L954.7 901.7L955.6 902.2L956.5 902.7L957.5 903.1L958.4 903.5L959.3 903.8L960.2 904L961.1 904.3L962 904.5L962.9 904.6L963.8 904.8L964.7 904.9L965.7 905L966.6 905.1L967.5 905.2L968.4 905.3L969.3 905.3L970.2 905.4L971.1 905.4L972 905.5L972.9 905.5L973.9 905.6L974.8 905.6L975.7 905.6L976.6 905.6L977.5 905.6L978.4 905.7L979.3 905.7L980.2 905.7L981.2 905.7L982.1 905.7L983 905.7L983.9 905.7L984.8 905.7L985.7 905.7L986.6 905.8L987.5 905.8L988.4 905.8L989.4 905.8L990.3 905.8L991.2 905.8L992.1 905.8L993 905.8L993.9 905.8L994.8 905.8L995.7 905.8L996.6 905.8L997.6 905.8L998.5 905.8L999.4 905.8L1000.3 905.8L1001.2 905.8" fill="none" stroke="#ff0000" stroke-width="2.6" stroke-linejoin="round"/></g>
<path d="M727.8 905.8V514.8H1001.2V905.8" fill="none" stroke="#000" stroke-width="1.8"/>
<path d="M727.8 905.8v9.2M773.4 905.8v5.5M818.9 905.8v9.2M864.5 905.8v5.5M910.1 905.8v9.2M955.6 905.8v5.5M1001.2 905.8v9.2" stroke="#000" stroke-width="1.8" fill="none"/>
<text transform="translate(727.8 931.4) scale(1 1.12)" font-size="14.8" text-anchor="middle">300</text>
<text transform="translate(818.9 931.4) scale(1 1.12)" font-size="14.8" text-anchor="middle">350</text>
<text transform="translate(910.1 931.4) scale(1 1.12)" font-size="14.8" text-anchor="middle">400</text>
<text transform="translate(1001.2 931.4) scale(1 1.12)" font-size="14.8" text-anchor="middle">450</text>
<text transform="translate(733.2 536.8) scale(0.983 1.12)" font-size="21.1" text-anchor="start">P25-W</text>
<text transform="translate(864.1 967.4) scale(0.99 1.05)" font-size="15.35" text-anchor="middle">λ (nm)</text>
<text transform="translate(718.1 729.7) rotate(-90)" font-size="15.35" text-anchor="middle">dR / dλ (a.u.)</text>
</svg>
</body></html>
